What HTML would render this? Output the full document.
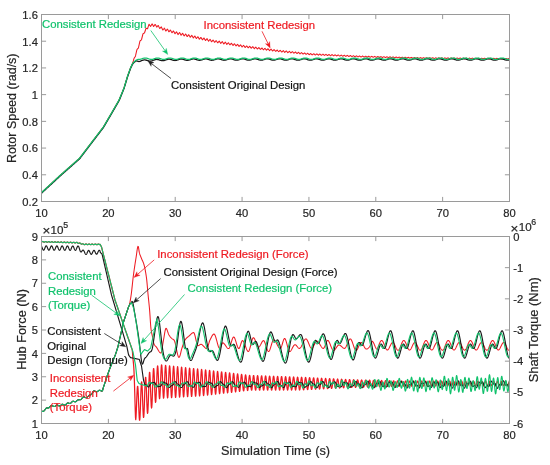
<!DOCTYPE html>
<html><head><meta charset="utf-8"><style>
html,body{margin:0;padding:0;background:#fff;overflow:hidden;}
svg{display:block;}
text{font-family:"Liberation Sans",Arial,sans-serif;}
</style></head><body>
<svg width="550" height="465" viewBox="0 0 550 465">
<defs>
<clipPath id="ct"><rect x="41.5" y="14.5" width="468.0" height="187.0"/></clipPath>
<clipPath id="cb"><rect x="41.5" y="236.5" width="468.0" height="187.0"/></clipPath>
</defs>
<rect width="550" height="465" fill="#fff"/>
<g clip-path="url(#ct)">
<polyline fill="none" stroke="#ee1a22" stroke-width="1.05" stroke-linejoin="round" stroke-linecap="round"  points="41.50,192.60 42.00,192.14 42.50,191.68 43.00,191.21 43.50,190.75 44.00,190.29 44.50,189.83 45.00,189.36 45.50,188.90 46.00,188.44 46.50,187.98 47.00,187.52 47.50,187.05 48.00,186.59 48.50,186.13 49.00,185.67 49.50,185.21 50.00,184.74 50.50,184.28 51.00,183.82 51.50,183.36 52.00,182.89 52.50,182.43 53.00,181.97 53.50,181.51 54.00,181.05 54.50,180.58 55.00,180.12 55.50,179.66 56.00,179.20 56.50,178.74 57.00,178.27 57.50,177.81 58.00,177.35 58.50,176.89 59.00,176.42 59.50,175.96 60.00,175.50 60.50,175.06 61.00,174.62 61.50,174.18 62.00,173.74 62.50,173.29 63.00,172.85 63.50,172.41 64.00,171.97 64.50,171.53 65.00,171.09 65.50,170.65 66.00,170.21 66.50,169.77 67.00,169.33 67.50,168.88 68.00,168.44 68.50,168.00 69.00,167.56 69.50,167.12 70.00,166.68 70.50,166.24 71.00,165.80 71.50,165.36 72.00,164.92 72.50,164.47 73.00,164.03 73.50,163.59 74.00,163.15 74.50,162.71 75.00,162.27 75.50,161.83 76.00,161.39 76.50,160.95 77.00,160.51 77.50,160.06 78.00,159.62 78.50,159.18 79.00,158.74 79.50,158.30 80.00,157.64 80.50,156.99 81.00,156.33 81.50,155.68 82.00,155.02 82.50,154.36 83.00,153.71 83.50,153.05 84.00,152.40 84.50,151.74 85.00,151.08 85.50,150.43 86.00,149.77 86.50,149.12 87.00,148.46 87.50,147.80 88.00,147.15 88.50,146.49 89.00,145.84 89.50,145.18 90.00,144.52 90.50,143.87 91.00,143.21 91.50,142.56 92.00,141.90 92.50,141.25 93.00,140.59 93.50,139.94 94.00,139.28 94.50,138.63 95.00,137.97 95.50,137.32 96.00,136.66 96.50,136.01 97.00,135.35 97.50,134.70 98.00,134.04 98.50,133.39 99.00,132.73 99.50,132.08 100.00,131.42 100.50,130.77 101.00,130.11 101.50,129.46 102.00,128.80 102.50,128.15 103.00,127.49 103.50,126.76 104.00,125.91 104.50,125.06 105.00,124.21 105.50,123.36 106.00,122.51 106.50,121.66 107.00,120.81 107.50,119.95 108.00,119.10 108.50,118.25 109.00,117.40 109.50,116.55 110.00,115.70 110.50,114.85 111.00,114.00 111.50,113.14 112.00,112.27 112.50,111.41 113.00,110.54 113.50,109.68 114.00,108.81 114.50,107.95 115.00,107.09 115.50,106.22 116.00,105.36 116.50,104.49 117.00,103.63 117.50,102.77 118.00,101.90 118.50,101.04 119.00,100.17 119.50,99.02 120.00,97.80 120.50,96.57 121.00,95.35 121.50,94.12 122.00,92.90 122.50,91.67 123.00,90.45 123.50,89.22 124.00,88.00 124.50,86.33 125.00,84.67 125.50,83.00 126.00,81.33 126.50,79.67 127.00,78.00 127.50,76.33 128.00,74.90 128.50,73.52 129.00,72.14 129.50,70.76 130.00,69.38 130.50,68.00 131.00,66.89 131.50,65.78 132.00,64.67 132.30,64.00 132.55,63.19 132.80,62.42 133.05,61.72 133.30,60.96 133.55,60.09 133.80,59.11 134.05,58.43 134.30,57.89 134.55,57.46 134.80,57.14 135.05,56.90 135.30,56.62 135.55,55.66 135.80,54.54 136.05,53.41 136.30,52.29 136.55,51.16 136.80,50.03 137.05,49.50 137.30,49.23 137.55,48.95 137.80,48.67 138.05,48.39 138.30,48.11 138.55,47.32 138.80,46.20 139.05,45.07 139.30,43.94 139.55,42.81 139.80,41.69 140.05,40.99 140.30,40.71 140.55,40.45 140.80,40.30 141.05,40.14 141.30,39.99 141.55,39.50 141.80,38.50 142.05,37.50 142.30,36.50 142.55,35.50 142.80,34.50 143.05,33.75 143.30,33.60 143.55,33.44 143.80,33.29 144.05,33.14 144.30,32.98 144.55,32.80 144.80,32.03 145.05,31.26 145.30,30.50 145.55,29.73 145.80,28.96 146.05,28.28 146.30,28.36 146.55,28.44 146.80,28.51 147.05,28.59 147.30,28.67 147.55,28.75 147.80,27.98 148.05,27.21 148.30,26.45 148.55,25.68 148.80,24.92 149.05,24.32 149.30,24.60 149.55,24.97 149.80,25.33 150.05,25.69 150.30,26.05 150.55,26.42 150.80,26.11 151.05,25.63 151.30,25.15 151.55,24.69 151.80,24.30 152.05,23.92 152.30,24.12 152.55,24.57 152.80,25.03 153.05,25.48 153.30,25.93 153.55,26.39 153.80,26.33 154.05,25.95 154.30,25.56 154.55,25.18 154.80,24.79 155.05,24.40 155.30,24.44 155.55,24.89 155.80,25.34 156.05,25.81 156.30,26.35 156.55,26.88 156.80,27.08 157.05,26.78 157.30,26.48 157.55,26.18 157.80,25.88 158.05,25.58 158.30,25.53 158.55,26.06 158.80,26.60 159.05,27.13 159.30,27.67 159.55,28.20 159.80,28.57 160.05,28.27 160.30,27.97 160.55,27.66 160.80,27.36 161.05,27.06 161.30,26.85 161.55,27.38 161.80,27.92 162.05,28.45 162.30,28.98 162.55,29.52 162.80,30.05 163.05,29.75 163.30,29.45 163.55,29.15 163.80,28.83 164.05,28.49 164.30,28.15 164.55,28.56 164.80,29.05 165.05,29.54 165.30,30.02 165.55,30.51 165.80,31.00 166.05,30.83 166.30,30.49 166.55,30.14 166.80,29.80 167.05,29.46 167.30,29.12 167.55,29.36 167.80,29.85 168.05,30.34 168.30,30.82 168.55,31.31 168.80,31.80 169.05,31.79 169.30,31.45 169.55,31.11 169.80,30.77 170.05,30.43 170.30,30.09 170.55,30.16 170.80,30.65 171.05,31.14 171.30,31.63 171.55,32.11 171.80,32.60 172.05,32.76 172.30,32.42 172.55,32.08 172.80,31.74 173.05,31.40 173.30,31.06 173.55,30.96 173.80,31.45 174.05,31.94 174.30,32.43 174.55,32.91 174.80,33.40 175.05,33.72 175.30,33.38 175.55,33.04 175.80,32.70 176.05,32.36 176.30,32.02 176.55,31.77 176.80,32.24 177.05,32.72 177.30,33.19 177.55,33.66 177.80,34.13 178.05,34.60 178.30,34.25 178.55,33.90 178.80,33.54 179.05,33.19 179.30,32.84 179.55,32.49 179.80,32.88 180.05,33.35 180.30,33.82 180.55,34.29 180.80,34.76 181.05,35.23 181.30,35.04 181.55,34.69 181.80,34.34 182.05,33.99 182.30,33.64 182.55,33.29 182.80,33.51 183.05,33.98 183.30,34.45 183.55,34.92 183.80,35.39 184.05,35.86 184.30,35.84 184.55,35.49 184.80,35.14 185.05,34.79 185.30,34.43 185.55,34.08 185.80,34.13 186.05,34.59 186.30,35.06 186.55,35.52 186.80,35.98 187.05,36.44 187.30,36.58 187.55,36.22 187.80,35.87 188.05,35.52 188.30,35.17 188.55,34.82 188.80,34.71 189.05,35.17 189.30,35.63 189.55,36.09 189.80,36.54 190.05,37.00 190.30,37.29 190.55,36.94 190.80,36.60 191.05,36.25 191.30,35.90 191.55,35.56 191.80,35.29 192.05,35.75 192.30,36.20 192.55,36.66 192.80,37.11 193.05,37.56 193.30,38.01 193.55,37.67 193.80,37.32 194.05,36.98 194.30,36.64 194.55,36.30 194.80,35.96 195.05,36.33 195.30,36.78 195.55,37.23 195.80,37.67 196.05,38.12 196.30,38.57 196.55,38.38 196.80,38.05 197.05,37.71 197.30,37.37 197.55,37.03 197.80,36.70 198.05,36.91 198.30,37.35 198.55,37.80 198.80,38.24 199.05,38.68 199.30,39.13 199.55,39.10 199.80,38.77 200.05,38.43 200.30,38.10 200.55,37.77 200.80,37.44 201.05,37.49 201.30,37.93 201.55,38.37 201.80,38.81 202.05,39.25 202.30,39.69 202.55,39.82 202.80,39.49 203.05,39.16 203.30,38.83 203.55,38.50 203.80,38.18 204.05,38.08 204.30,38.51 204.55,38.95 204.80,39.38 205.05,39.82 205.30,40.25 205.55,40.53 205.80,40.21 206.05,39.88 206.30,39.56 206.55,39.23 206.80,38.91 207.05,38.67 207.30,39.10 207.55,39.53 207.80,39.96 208.05,40.39 208.30,40.81 208.55,41.24 208.80,40.92 209.05,40.60 209.30,40.28 209.55,39.96 209.80,39.65 210.05,39.33 210.30,39.68 210.55,40.11 210.80,40.53 211.05,40.96 211.30,41.38 211.55,41.80 211.80,41.64 212.05,41.32 212.30,41.01 212.55,40.69 212.80,40.37 213.05,40.05 213.30,40.24 213.55,40.65 213.80,41.06 214.05,41.47 214.30,41.88 214.55,42.28 214.80,42.25 215.05,41.93 215.30,41.61 215.55,41.29 215.80,40.97 216.05,40.65 216.30,40.69 216.55,41.10 216.80,41.50 217.05,41.91 217.30,42.31 217.55,42.71 217.80,42.83 218.05,42.51 218.30,42.19 218.55,41.88 218.80,41.56 219.05,41.25 219.30,41.15 219.55,41.55 219.80,41.95 220.05,42.35 220.30,42.75 220.55,43.15 220.80,43.40 221.05,43.09 221.30,42.77 221.55,42.46 221.80,42.15 222.05,41.84 222.30,41.60 222.55,42.00 222.80,42.39 223.05,42.79 223.30,43.18 223.55,43.58 223.80,43.97 224.05,43.66 224.30,43.35 224.55,43.05 224.80,42.74 225.05,42.43 225.30,42.13 225.55,42.45 225.80,42.84 226.05,43.23 226.30,43.62 226.55,44.01 226.80,44.40 227.05,44.24 227.30,43.93 227.55,43.63 227.80,43.33 228.05,43.03 228.30,42.72 228.55,42.91 228.80,43.29 229.05,43.68 229.30,44.07 229.55,44.45 229.80,44.83 230.05,44.81 230.30,44.51 230.55,44.21 230.80,43.91 231.05,43.62 231.30,43.32 231.55,43.36 231.80,43.75 232.05,44.13 232.30,44.51 232.55,44.89 232.80,45.27 233.05,45.38 233.30,45.08 233.55,44.79 233.80,44.50 234.05,44.20 234.30,43.91 234.55,43.82 234.80,44.20 235.05,44.58 235.30,44.95 235.55,45.33 235.80,45.71 236.05,45.95 236.30,45.66 236.55,45.37 236.80,45.08 237.05,44.79 237.30,44.50 237.55,44.28 237.80,44.66 238.05,45.03 238.30,45.40 238.55,45.77 238.80,46.14 239.05,46.51 239.30,46.23 239.55,45.94 239.80,45.66 240.05,45.37 240.30,45.09 240.55,44.81 240.80,45.11 241.05,45.48 241.30,45.85 241.55,46.22 241.80,46.58 242.05,46.95 242.30,46.80 242.55,46.52 242.80,46.24 243.05,45.96 243.30,45.68 243.55,45.40 243.80,45.57 244.05,45.94 244.30,46.30 244.55,46.66 244.80,47.02 245.05,47.39 245.30,47.36 245.55,47.08 245.80,46.80 246.05,46.51 246.30,46.23 246.55,45.94 246.80,45.98 247.05,46.33 247.30,46.68 247.55,47.03 247.80,47.37 248.05,47.72 248.30,47.81 248.55,47.53 248.80,47.25 249.05,46.97 249.30,46.69 249.55,46.41 249.80,46.32 250.05,46.67 250.30,47.01 250.55,47.36 250.80,47.70 251.05,48.04 251.30,48.26 251.55,47.98 251.80,47.71 252.05,47.43 252.30,47.16 252.55,46.88 252.80,46.67 253.05,47.01 253.30,47.35 253.55,47.69 253.80,48.03 254.05,48.37 254.30,48.71 254.55,48.43 254.80,48.16 255.05,47.89 255.30,47.62 255.55,47.35 255.80,47.08 256.05,47.35 256.30,47.69 256.55,48.03 256.80,48.36 257.05,48.69 257.30,49.03 257.55,48.88 257.80,48.61 258.05,48.34 258.30,48.08 258.55,47.81 258.80,47.54 259.05,47.70 259.30,48.03 259.55,48.36 259.80,48.69 260.05,49.02 260.30,49.35 260.55,49.33 260.80,49.06 261.05,48.80 261.30,48.53 261.55,48.27 261.80,48.01 262.05,48.05 262.30,48.37 262.55,48.70 262.80,49.03 263.05,49.35 263.30,49.68 263.55,49.77 263.80,49.51 264.05,49.25 264.30,48.99 264.55,48.73 264.80,48.48 265.05,48.39 265.30,48.72 265.55,49.04 265.80,49.36 266.05,49.68 266.30,50.01 266.55,50.21 266.80,49.96 267.05,49.70 267.30,49.45 267.55,49.19 267.80,48.94 268.05,48.74 268.30,49.06 268.55,49.38 268.80,49.70 269.05,50.02 269.30,50.34 269.55,50.65 269.80,50.40 270.05,50.15 270.30,49.90 270.55,49.65 270.80,49.40 271.05,49.15 271.30,49.41 271.55,49.73 271.80,50.04 272.05,50.35 272.30,50.67 272.55,50.98 272.80,50.84 273.05,50.60 273.30,50.35 273.55,50.10 273.80,49.86 274.05,49.62 274.30,49.76 274.55,50.07 274.80,50.38 275.05,50.69 275.30,51.00 275.55,51.31 275.80,51.28 276.05,51.04 276.30,50.80 276.55,50.56 276.80,50.32 277.05,50.08 277.30,50.11 277.55,50.42 277.80,50.72 278.05,51.03 278.30,51.32 278.55,51.62 278.80,51.70 279.05,51.45 279.30,51.21 279.55,50.96 279.80,50.72 280.05,50.47 280.30,50.39 280.55,50.69 280.80,50.98 281.05,51.27 281.30,51.56 281.55,51.86 281.80,52.04 282.05,51.80 282.30,51.56 282.55,51.32 282.80,51.07 283.05,50.84 283.30,50.65 283.55,50.94 283.80,51.23 284.05,51.52 284.30,51.81 284.55,52.09 284.80,52.38 285.05,52.14 285.30,51.90 285.55,51.67 285.80,51.43 286.05,51.20 286.30,50.96 286.55,51.20 286.80,51.48 287.05,51.77 287.30,52.05 287.55,52.33 287.80,52.62 288.05,52.49 288.30,52.25 288.55,52.02 288.80,51.79 289.05,51.56 289.30,51.33 289.55,51.45 289.80,51.74 290.05,52.02 290.30,52.30 290.55,52.57 290.80,52.85 291.05,52.83 291.30,52.60 291.55,52.37 291.80,52.14 292.05,51.91 292.30,51.69 292.55,51.71 292.80,51.99 293.05,52.27 293.30,52.54 293.55,52.82 293.80,53.09 294.05,53.17 294.30,52.94 294.55,52.72 294.80,52.49 295.05,52.27 295.30,52.05 295.55,51.97 295.80,52.25 296.05,52.52 296.30,52.79 296.55,53.06 296.80,53.33 297.05,53.50 297.30,53.28 297.55,53.06 297.80,52.84 298.05,52.62 298.30,52.41 298.55,52.24 298.80,52.51 299.05,52.77 299.30,53.04 299.55,53.31 299.80,53.58 300.05,53.84 300.30,53.62 300.55,53.41 300.80,53.19 301.05,52.98 301.30,52.76 301.55,52.55 301.80,52.77 302.05,53.03 302.30,53.29 302.55,53.56 302.80,53.82 303.05,54.08 303.30,53.96 303.55,53.75 303.80,53.54 304.05,53.33 304.30,53.12 304.55,52.91 304.80,53.03 305.05,53.29 305.30,53.55 305.55,53.81 305.80,54.06 306.05,54.32 306.30,54.30 306.55,54.09 306.80,53.88 307.05,53.68 307.30,53.47 307.55,53.27 307.80,53.29 308.05,53.55 308.30,53.80 308.55,54.06 308.80,54.31 309.05,54.56 309.30,54.63 309.55,54.43 309.80,54.23 310.05,54.03 310.30,53.82 310.55,53.62 310.80,53.56 311.05,53.81 311.30,54.05 311.55,54.28 311.80,54.52 312.05,54.75 312.30,54.90 312.55,54.69 312.80,54.47 313.05,54.26 313.30,54.05 313.55,53.84 313.80,53.68 314.05,53.91 314.30,54.14 314.55,54.38 314.80,54.61 315.05,54.84 315.30,55.07 315.55,54.86 315.80,54.66 316.05,54.45 316.30,54.24 316.55,54.04 316.80,53.83 317.05,54.02 317.30,54.25 317.55,54.47 317.80,54.70 318.05,54.93 318.30,55.16 318.55,55.04 318.80,54.83 319.05,54.63 319.30,54.43 319.55,54.23 319.80,54.03 320.05,54.12 320.30,54.35 320.55,54.57 320.80,54.80 321.05,55.02 321.30,55.25 321.55,55.21 321.80,55.01 322.05,54.81 322.30,54.61 322.55,54.42 322.80,54.22 323.05,54.23 323.30,54.45 323.55,54.67 323.80,54.90 324.05,55.12 324.30,55.34 324.55,55.39 324.80,55.19 325.05,55.00 325.30,54.80 325.55,54.60 325.80,54.41 326.05,54.33 326.30,54.55 326.55,54.77 326.80,54.99 327.05,55.21 327.30,55.43 327.55,55.57 327.80,55.37 328.05,55.18 328.30,54.98 328.55,54.79 328.80,54.59 329.05,54.44 329.30,54.66 329.55,54.88 329.80,55.09 330.05,55.31 330.30,55.53 330.55,55.74 330.80,55.55 331.05,55.36 331.30,55.16 331.55,54.97 331.80,54.78 332.05,54.59 332.30,54.76 332.55,54.98 332.80,55.19 333.05,55.41 333.30,55.62 333.55,55.83 333.80,55.72 334.05,55.53 334.30,55.34 334.55,55.15 334.80,54.97 335.05,54.78 335.30,54.87 335.55,55.08 335.80,55.29 336.05,55.51 336.30,55.72 336.55,55.93 336.80,55.90 337.05,55.71 337.30,55.52 337.55,55.34 337.80,55.15 338.05,54.96 338.30,54.98 338.55,55.19 338.80,55.40 339.05,55.61 339.30,55.81 339.55,56.02 339.80,56.07 340.05,55.89 340.30,55.70 340.55,55.52 340.80,55.33 341.05,55.15 341.30,55.08 341.55,55.29 341.80,55.50 342.05,55.71 342.30,55.91 342.55,56.12 342.80,56.25 343.05,56.06 343.30,55.88 343.55,55.70 343.80,55.52 344.05,55.34 344.30,55.19 344.55,55.40 344.80,55.60 345.05,55.81 345.30,56.01 345.55,56.22 345.80,56.42 346.05,56.24 346.30,56.06 346.55,55.88 346.80,55.70 347.05,55.52 347.30,55.34 347.55,55.51 347.80,55.71 348.05,55.91 348.30,56.11 348.55,56.31 348.80,56.51 349.05,56.41 349.30,56.23 349.55,56.06 349.80,55.88 350.05,55.70 350.30,55.53 350.55,55.61 350.80,55.81 351.05,56.01 351.30,56.21 351.55,56.41 351.80,56.61 352.05,56.58 352.30,56.41 352.55,56.23 352.80,56.06 353.05,55.89 353.30,55.71 353.55,55.72 353.80,55.92 354.05,56.12 354.30,56.32 354.55,56.51 354.80,56.71 355.05,56.76 355.30,56.58 355.55,56.41 355.80,56.24 356.05,56.07 356.30,55.90 356.55,55.83 356.80,56.03 357.05,56.22 357.30,56.42 357.55,56.61 357.80,56.81 358.05,56.93 358.30,56.76 358.55,56.59 358.80,56.42 359.05,56.25 359.30,56.08 359.55,55.95 359.80,56.14 360.05,56.33 360.30,56.52 360.55,56.70 360.80,56.89 361.05,57.07 361.30,56.90 361.55,56.73 361.80,56.55 362.05,56.38 362.30,56.21 362.55,56.04 362.80,56.19 363.05,56.37 363.30,56.56 363.55,56.74 363.80,56.92 364.05,57.11 364.30,57.01 364.55,56.83 364.80,56.66 365.05,56.49 365.30,56.32 365.55,56.16 365.80,56.23 366.05,56.41 366.30,56.60 366.55,56.78 366.80,56.96 367.05,57.14 367.30,57.11 367.55,56.94 367.80,56.77 368.05,56.61 368.30,56.44 368.55,56.27 368.80,56.28 369.05,56.46 369.30,56.64 369.55,56.82 369.80,56.99 370.05,57.17 370.30,57.21 370.55,57.05 370.80,56.88 371.05,56.72 371.30,56.55 371.55,56.39 371.80,56.33 372.05,56.50 372.30,56.68 372.55,56.86 372.80,57.03 373.05,57.21 373.30,57.32 373.55,57.15 373.80,56.99 374.05,56.83 374.30,56.66 374.55,56.50 374.80,56.37 375.05,56.55 375.30,56.72 375.55,56.90 375.80,57.07 376.05,57.24 376.30,57.42 376.55,57.26 376.80,57.09 377.05,56.93 377.30,56.77 377.55,56.62 377.80,56.46 378.05,56.60 378.30,56.77 378.55,56.94 378.80,57.11 379.05,57.28 379.30,57.45 379.55,57.36 379.80,57.20 380.05,57.04 380.30,56.88 380.55,56.73 380.80,56.57 381.05,56.64 381.30,56.81 381.55,56.98 381.80,57.15 382.05,57.32 382.30,57.49 382.55,57.46 382.80,57.30 383.05,57.15 383.30,56.99 383.55,56.84 383.80,56.68 384.05,56.69 384.30,56.86 384.55,57.03 384.80,57.19 385.05,57.36 385.30,57.52 385.55,57.56 385.80,57.41 386.05,57.25 386.30,57.10 386.55,56.95 386.80,56.80 387.05,56.74 387.30,56.91 387.55,57.07 387.80,57.23 388.05,57.40 388.30,57.56 388.55,57.66 388.80,57.51 389.05,57.36 389.30,57.21 389.55,57.06 389.80,56.91 390.05,56.79 390.30,56.95 390.55,57.12 390.80,57.28 391.05,57.44 391.30,57.60 391.55,57.76 391.80,57.61 392.05,57.46 392.30,57.32 392.55,57.17 392.80,57.02 393.05,56.87 393.30,57.00 393.55,57.16 393.80,57.32 394.05,57.48 394.30,57.64 394.55,57.80 394.80,57.71 395.05,57.57 395.30,57.42 395.55,57.28 395.80,57.13 396.05,56.99 396.30,57.05 396.55,57.21 396.80,57.37 397.05,57.52 397.30,57.68 397.55,57.84 397.80,57.81 398.05,57.67 398.30,57.52 398.55,57.38 398.80,57.24 399.05,57.10 399.30,57.10 399.55,57.26 399.80,57.41 400.05,57.57 400.30,57.72 400.55,57.87 400.80,57.91 401.05,57.77 401.30,57.63 401.55,57.49 401.80,57.35 402.05,57.21 402.30,57.15 402.55,57.31 402.80,57.46 403.05,57.61 403.30,57.77 403.55,57.92 403.80,58.01 404.05,57.87 404.30,57.73 404.55,57.59 404.80,57.45 405.05,57.31 405.30,57.20 405.55,57.35 405.80,57.51 406.05,57.66 406.30,57.81 406.55,57.96 406.80,58.11 407.05,57.97 407.30,57.84 407.55,57.70 407.80,57.56 408.05,57.42 408.30,57.28 408.55,57.40 408.80,57.55 409.05,57.70 409.30,57.86 409.55,58.01 409.80,58.16 410.05,58.08 410.30,57.94 410.55,57.80 410.80,57.66 411.05,57.52 411.30,57.39 411.55,57.45 411.80,57.60 412.05,57.75 412.30,57.90 412.55,58.05 412.80,58.20 413.05,58.18 413.30,58.04 413.55,57.90 413.80,57.77 414.05,57.63 414.30,57.49 414.55,57.50 414.80,57.65 415.05,57.80 415.30,57.95 415.55,58.10 415.80,58.24 416.05,58.28 416.30,58.14 416.55,58.01 416.80,57.87 417.05,57.73 417.30,57.60 417.55,57.55 417.80,57.70 418.05,57.84 418.30,57.99 418.55,58.14 418.80,58.29 419.05,58.38 419.30,58.24 419.55,58.11 419.80,57.97 420.05,57.84 420.30,57.70 420.55,57.59 420.80,57.73 421.05,57.88 421.30,58.02 421.55,58.16 421.80,58.31 422.05,58.45 422.30,58.31 422.55,58.17 422.80,58.03 423.05,57.89 423.30,57.76 423.55,57.62 423.80,57.73 424.05,57.87 424.30,58.02 424.55,58.16 424.80,58.30 425.05,58.44 425.30,58.36 425.55,58.22 425.80,58.09 426.05,57.95 426.30,57.81 426.55,57.67 426.80,57.73 427.05,57.87 427.30,58.02 427.55,58.16 427.80,58.30 428.05,58.44 428.30,58.41 428.55,58.28 428.80,58.14 429.05,58.00 429.30,57.87 429.55,57.73 429.80,57.73 430.05,57.88 430.30,58.02 430.55,58.16 430.80,58.30 431.05,58.44 431.30,58.47 431.55,58.33 431.80,58.20 432.05,58.06 432.30,57.92 432.55,57.79 432.80,57.74 433.05,57.88 433.30,58.02 433.55,58.16 433.80,58.30 434.05,58.43 434.30,58.52 434.55,58.38 434.80,58.25 435.05,58.11 435.30,57.98 435.55,57.84 435.80,57.74 436.05,57.88 436.30,58.02 436.55,58.15 436.80,58.29 437.05,58.43 437.30,58.57 437.55,58.44 437.80,58.30 438.05,58.17 438.30,58.03 438.55,57.90 438.80,57.77 439.05,57.88 439.30,58.02 439.55,58.15 439.80,58.29 440.05,58.43 440.30,58.57 440.55,58.49 440.80,58.36 441.05,58.22 441.30,58.09 441.55,57.96 441.80,57.82 442.05,57.88 442.30,58.02 442.55,58.15 442.80,58.29 443.05,58.43 443.30,58.56 443.55,58.54 443.80,58.41 444.05,58.28 444.30,58.14 444.55,58.01 444.80,57.88 445.05,57.88 445.30,58.02 445.55,58.15 445.80,58.29 446.05,58.43 446.30,58.56 446.55,58.59 446.80,58.46 447.05,58.33 447.30,58.20 447.55,58.07 447.80,57.94 448.05,57.88 448.30,58.02 448.55,58.16 448.80,58.29 449.05,58.43 449.30,58.56 449.55,58.64 449.80,58.51 450.05,58.38 450.30,58.25 450.55,58.12 450.80,57.99 451.05,57.89 451.30,58.02 451.55,58.16 451.80,58.29 452.05,58.42 452.30,58.56 452.55,58.69 452.80,58.56 453.05,58.43 453.30,58.30 453.55,58.18 453.80,58.05 454.05,57.92 454.30,58.02 454.55,58.16 454.80,58.29 455.05,58.42 455.30,58.56 455.55,58.69 455.80,58.61 456.05,58.49 456.30,58.36 456.55,58.23 456.80,58.10 457.05,57.97 457.30,58.03 457.55,58.16 457.80,58.29 458.05,58.42 458.30,58.56 458.55,58.69 458.80,58.66 459.05,58.54 459.30,58.41 459.55,58.28 459.80,58.15 460.05,58.03 460.30,58.03 460.55,58.16 460.80,58.29 461.05,58.43 461.30,58.56 461.55,58.69 461.80,58.72 462.05,58.59 462.30,58.46 462.55,58.34 462.80,58.21 463.05,58.08 463.30,58.03 463.55,58.16 463.80,58.30 464.05,58.43 464.30,58.56 464.55,58.69 464.80,58.77 465.05,58.64 465.30,58.51 465.55,58.39 465.80,58.26 466.05,58.14 466.30,58.04 466.55,58.17 466.80,58.30 467.05,58.43 467.30,58.56 467.55,58.69 467.80,58.82 468.05,58.69 468.30,58.57 468.55,58.44 468.80,58.32 469.05,58.19 469.30,58.07 469.55,58.17 469.80,58.30 470.05,58.43 470.30,58.56 470.55,58.69 470.80,58.81 471.05,58.74 471.30,58.62 471.55,58.49 471.80,58.37 472.05,58.24 472.30,58.12 472.55,58.17 472.80,58.30 473.05,58.43 473.30,58.56 473.55,58.69 473.80,58.81 474.05,58.79 474.30,58.67 474.55,58.54 474.80,58.42 475.05,58.30 475.30,58.18 475.55,58.18 475.80,58.31 476.05,58.43 476.30,58.56 476.55,58.69 476.80,58.81 477.05,58.84 477.30,58.72 477.55,58.60 477.80,58.47 478.05,58.35 478.30,58.23 478.55,58.18 478.80,58.31 479.05,58.43 479.30,58.56 479.55,58.69 479.80,58.81 480.05,58.89 480.30,58.77 480.55,58.65 480.80,58.52 481.05,58.40 481.30,58.28 481.55,58.19 481.80,58.31 482.05,58.44 482.30,58.56 482.55,58.69 482.80,58.81 483.05,58.94 483.30,58.82 483.55,58.70 483.80,58.58 484.05,58.46 484.30,58.34 484.55,58.22 484.80,58.32 485.05,58.44 485.30,58.57 485.55,58.69 485.80,58.81 486.05,58.94 486.30,58.87 486.55,58.75 486.80,58.63 487.05,58.51 487.30,58.39 487.55,58.27 487.80,58.32 488.05,58.44 488.30,58.57 488.55,58.69 488.80,58.81 489.05,58.94 489.30,58.92 489.55,58.80 489.80,58.68 490.05,58.56 490.30,58.44 490.55,58.32 490.80,58.33 491.05,58.45 491.30,58.57 491.55,58.69 491.80,58.82 492.05,58.94 492.30,58.96 492.55,58.85 492.80,58.73 493.05,58.61 493.30,58.49 493.55,58.38 493.80,58.33 494.05,58.45 494.30,58.57 494.55,58.70 494.80,58.82 495.05,58.94 495.30,59.01 495.55,58.90 495.80,58.78 496.05,58.66 496.30,58.55 496.55,58.43 496.80,58.34 497.05,58.46 497.30,58.58 497.55,58.70 497.80,58.82 498.05,58.94 498.30,59.06 498.55,58.94 498.80,58.83 499.05,58.71 499.30,58.60 499.55,58.48 499.80,58.37 500.05,58.46 500.30,58.58 500.55,58.70 500.80,58.82 501.05,58.94 501.30,59.06 501.55,58.99 501.80,58.88 502.05,58.76 502.30,58.65 502.55,58.53 502.80,58.42 503.05,58.47 503.30,58.59 503.55,58.71 503.80,58.82 504.05,58.94 504.30,59.06 504.55,59.04 504.80,58.93 505.05,58.81 505.30,58.70 505.55,58.59 505.80,58.47 506.05,58.47 506.30,58.59 506.55,58.71 506.80,58.83 507.05,58.95 507.30,59.06 507.55,59.09 507.80,58.97 508.05,58.86 508.30,58.75 508.55,58.64 508.80,58.52 509.05,58.48 509.30,58.60 509.55,58.71"/>
<polyline fill="none" stroke="#1a1a1a" stroke-width="1.3" stroke-linejoin="round" stroke-linecap="round"  points="41.50,193.20 42.00,192.74 42.50,192.28 43.00,191.81 43.50,191.35 44.00,190.89 44.50,190.43 45.00,189.96 45.50,189.50 46.00,189.04 46.50,188.58 47.00,188.12 47.50,187.65 48.00,187.19 48.50,186.73 49.00,186.27 49.50,185.81 50.00,185.34 50.50,184.88 51.00,184.42 51.50,183.96 52.00,183.49 52.50,183.03 53.00,182.57 53.50,182.11 54.00,181.65 54.50,181.18 55.00,180.72 55.50,180.26 56.00,179.80 56.50,179.34 57.00,178.87 57.50,178.41 58.00,177.95 58.50,177.49 59.00,177.02 59.50,176.56 60.00,176.10 60.50,175.66 61.00,175.22 61.50,174.78 62.00,174.34 62.50,173.89 63.00,173.45 63.50,173.01 64.00,172.57 64.50,172.13 65.00,171.69 65.50,171.25 66.00,170.81 66.50,170.37 67.00,169.93 67.50,169.48 68.00,169.04 68.50,168.60 69.00,168.16 69.50,167.72 70.00,167.28 70.50,166.84 71.00,166.40 71.50,165.96 72.00,165.52 72.50,165.07 73.00,164.63 73.50,164.19 74.00,163.75 74.50,163.31 75.00,162.87 75.50,162.43 76.00,161.99 76.50,161.55 77.00,161.11 77.50,160.66 78.00,160.22 78.50,159.78 79.00,159.34 79.50,158.90 80.00,158.24 80.50,157.59 81.00,156.93 81.50,156.28 82.00,155.62 82.50,154.96 83.00,154.31 83.50,153.65 84.00,153.00 84.50,152.34 85.00,151.68 85.50,151.03 86.00,150.37 86.50,149.72 87.00,149.06 87.50,148.40 88.00,147.75 88.50,147.09 89.00,146.44 89.50,145.78 90.00,145.12 90.50,144.47 91.00,143.81 91.50,143.16 92.00,142.50 92.50,141.85 93.00,141.19 93.50,140.54 94.00,139.88 94.50,139.23 95.00,138.57 95.50,137.92 96.00,137.26 96.50,136.61 97.00,135.95 97.50,135.30 98.00,134.64 98.50,133.99 99.00,133.33 99.50,132.68 100.00,132.02 100.50,131.37 101.00,130.71 101.50,130.06 102.00,129.40 102.50,128.75 103.00,128.09 103.50,127.36 104.00,126.51 104.50,125.66 105.00,124.81 105.50,123.96 106.00,123.11 106.50,122.26 107.00,121.41 107.50,120.55 108.00,119.70 108.50,118.85 109.00,118.00 109.50,117.15 110.00,116.30 110.50,115.45 111.00,114.60 111.50,113.74 112.00,112.87 112.50,112.01 113.00,111.14 113.50,110.28 114.00,109.41 114.50,108.55 115.00,107.69 115.50,106.82 116.00,105.96 116.50,105.09 117.00,104.23 117.50,103.37 118.00,102.50 118.50,101.64 119.00,100.77 119.50,99.62 120.00,98.40 120.50,97.17 121.00,95.95 121.50,94.72 122.00,93.50 122.50,92.27 123.00,91.05 123.50,89.82 124.00,88.60 124.50,86.93 125.00,85.27 125.50,83.60 126.00,81.93 126.50,80.27 127.00,78.60 127.50,76.93 128.00,75.50 128.50,74.12 129.00,72.74 129.50,71.36 130.00,69.98 130.50,68.60 131.00,67.49 131.50,66.38 132.00,65.27 132.50,64.34 133.00,63.69 133.50,63.05 134.00,62.40 134.50,62.02 135.00,61.65 135.50,61.27 136.00,60.90 136.50,60.92 137.00,61.01 137.50,61.14 138.00,61.30 138.50,61.45 139.00,61.59 139.50,61.46 140.00,61.30 140.50,61.11 141.00,60.90 141.50,60.69 142.00,60.49 142.50,60.31 143.00,60.16 143.50,60.04 144.00,59.97 144.50,59.94 145.00,59.96 145.50,60.02 146.00,60.12 146.50,60.25 147.00,60.39 147.50,60.55 148.00,60.70 148.50,60.84 149.00,60.95 149.50,61.03 150.00,61.07 150.50,61.07 151.00,61.02 151.50,60.92 152.00,60.79 152.50,60.63 153.00,60.45 153.50,60.25 154.00,60.06 154.50,59.88 155.00,59.72 155.50,59.59 156.00,59.50 156.50,59.46 157.00,59.46 157.50,59.51 158.00,59.60 158.50,59.72 159.00,59.86 159.50,60.02 160.00,60.19 160.50,60.35 161.00,60.48 161.50,60.59 162.00,60.67 162.50,60.70 163.00,60.68 163.50,60.62 164.00,60.52 164.50,60.39 165.00,60.22 165.50,60.04 166.00,59.85 166.50,59.67 167.00,59.50 167.50,59.36 168.00,59.26 168.50,59.19 169.00,59.18 169.50,59.20 170.00,59.27 170.50,59.38 171.00,59.52 171.50,59.68 172.00,59.85 172.50,60.02 173.00,60.17 173.50,60.30 174.00,60.41 174.50,60.47 175.00,60.48 175.50,60.46 176.00,60.39 176.50,60.27 177.00,60.13 177.50,59.96 178.00,59.78 178.50,59.60 179.00,59.42 179.50,59.27 180.00,59.15 180.50,59.06 181.00,59.02 181.50,59.02 182.00,59.07 182.50,59.16 183.00,59.28 183.50,59.43 184.00,59.60 184.50,59.78 185.00,59.94 185.50,60.10 186.00,60.22 186.50,60.31 187.00,60.36 187.50,60.36 188.00,60.32 188.50,60.23 189.00,60.11 189.50,59.96 190.00,59.78 190.50,59.60 191.00,59.42 191.50,59.26 192.00,59.12 192.50,59.01 193.00,58.95 193.50,58.92 194.00,58.95 194.50,59.01 195.00,59.12 195.50,59.26 196.00,59.42 196.50,59.59 197.00,59.77 197.50,59.93 198.00,60.07 198.50,60.19 199.00,60.26 199.50,60.29 200.00,60.28 200.50,60.22 201.00,60.12 201.50,59.99 202.00,59.83 202.50,59.65 203.00,59.47 203.50,59.30 204.00,59.14 204.50,59.02 205.00,58.93 205.50,58.88 206.00,58.87 206.50,58.92 207.00,59.00 207.50,59.12 208.00,59.27 208.50,59.44 209.00,59.62 209.50,59.79 210.00,59.95 210.50,60.08 211.00,60.18 211.50,60.24 212.00,60.25 212.50,60.22 213.00,60.15 213.50,60.03 214.00,59.89 214.50,59.72 215.00,59.54 215.50,59.37 216.00,59.20 216.50,59.06 217.00,58.94 217.50,58.87 218.00,58.84 218.50,58.86 219.00,58.92 219.50,59.02 220.00,59.15 220.50,59.31 221.00,59.48 221.50,59.66 222.00,59.83 222.50,59.98 223.00,60.10 223.50,60.18 224.00,60.23 224.50,60.22 225.00,60.17 225.50,60.08 226.00,59.96 226.50,59.80 227.00,59.63 227.50,59.45 228.00,59.28 228.50,59.12 229.00,58.99 229.50,58.89 230.00,58.84 230.50,58.82 231.00,58.86 231.50,58.94 232.00,59.05 232.50,59.20 233.00,59.36 233.50,59.54 234.00,59.72 234.50,59.88 235.00,60.02 235.50,60.13 236.00,60.19 236.50,60.22 237.00,60.20 237.50,60.13 238.00,60.02 238.50,59.89 239.00,59.72 239.50,59.55 240.00,59.37 240.50,59.20 241.00,59.05 241.50,58.93 242.00,58.85 242.50,58.82 243.00,58.82 243.50,58.88 244.00,58.97 244.50,59.10 245.00,59.25 245.50,59.43 246.00,59.60 246.50,59.78 247.00,59.93 247.50,60.06 248.00,60.15 248.50,60.20 249.00,60.21 249.50,60.17 250.00,60.09 250.50,59.97 251.00,59.82 251.50,59.65 252.00,59.47 252.50,59.29 253.00,59.13 253.50,59.00 254.00,58.89 254.50,58.83 255.00,58.81 255.50,58.83 256.00,58.90 256.50,59.01 257.00,59.15 257.50,59.32 258.00,59.49 258.50,59.67 259.00,59.84 259.50,59.98 260.00,60.10 260.50,60.17 261.00,60.20 261.50,60.19 262.00,60.14 262.50,60.04 263.00,59.91 263.50,59.75 264.00,59.57 264.50,59.40 265.00,59.22 265.50,59.07 266.00,58.95 266.50,58.86 267.00,58.81 267.50,58.81 268.00,58.85 268.50,58.94 269.00,59.06 269.50,59.21 270.00,59.38 270.50,59.56 271.00,59.73 271.50,59.89 272.00,60.03 272.50,60.13 273.00,60.19 273.50,60.20 274.00,60.17 274.50,60.10 275.00,59.99 275.50,59.84 276.00,59.68 276.50,59.50 277.00,59.32 277.50,59.16 278.00,59.02 278.50,58.90 279.00,58.83 279.50,58.80 280.00,58.82 280.50,58.88 281.00,58.98 281.50,59.12 282.00,59.28 282.50,59.45 283.00,59.63 283.50,59.80 284.00,59.95 284.50,60.07 285.00,60.16 285.50,60.20 286.00,60.19 286.50,60.15 287.00,60.06 287.50,59.93 288.00,59.78 288.50,59.61 289.00,59.43 289.50,59.25 290.00,59.10 290.50,58.97 291.00,58.87 291.50,58.81 292.00,58.80 292.50,58.84 293.00,58.92 293.50,59.03 294.00,59.18 294.50,59.34 295.00,59.52 295.50,59.70 296.00,59.86 296.50,60.00 297.00,60.11 297.50,60.18 298.00,60.20 298.50,60.18 299.00,60.11 299.50,60.01 300.00,59.87 300.50,59.71 301.00,59.53 301.50,59.36 302.00,59.19 302.50,59.04 303.00,58.92 303.50,58.84 304.00,58.80 304.50,58.81 305.00,58.86 305.50,58.96 306.00,59.09 306.50,59.24 307.00,59.41 307.50,59.59 308.00,59.76 308.50,59.92 309.00,60.05 309.50,60.14 310.00,60.19 310.50,60.20 311.00,60.16 311.50,60.08 312.00,59.96 312.50,59.81 313.00,59.64 313.50,59.46 314.00,59.29 314.50,59.13 315.00,58.99 315.50,58.88 316.00,58.82 316.50,58.80 317.00,58.83 317.50,58.90 318.00,59.00 318.50,59.15 319.00,59.31 319.50,59.49 320.00,59.66 320.50,59.83 321.00,59.97 321.50,60.09 322.00,60.17 322.50,60.20 323.00,60.19 323.50,60.13 324.00,60.03 324.50,59.90 325.00,59.74 325.50,59.57 326.00,59.39 326.50,59.22 327.00,59.07 327.50,58.94 328.00,58.85 328.50,58.81 329.00,58.81 329.50,58.85 330.00,58.93 330.50,59.06 331.00,59.21 331.50,59.38 332.00,59.56 332.50,59.73 333.00,59.89 333.50,60.02 334.00,60.12 334.50,60.18 335.00,60.20 335.50,60.17 336.00,60.10 336.50,59.98 337.00,59.84 337.50,59.67 338.00,59.50 338.50,59.32 339.00,59.16 339.50,59.01 340.00,58.90 340.50,58.83 341.00,58.80 341.50,58.82 342.00,58.88 342.50,58.98 343.00,59.11 343.50,59.27 344.00,59.45 344.50,59.63 345.00,59.80 345.50,59.95 346.00,60.07 346.50,60.15 347.00,60.20 347.50,60.19 348.00,60.14 348.50,60.06 349.00,59.93 349.50,59.78 350.00,59.60 350.50,59.43 351.00,59.25 351.50,59.10 352.00,58.96 352.50,58.87 353.00,58.81 353.50,58.80 354.00,58.84 354.50,58.91 355.00,59.03 355.50,59.18 356.00,59.34 356.50,59.52 357.00,59.70 357.50,59.86 358.00,60.00 358.50,60.11 359.00,60.18 359.50,60.20 360.00,60.18 360.50,60.11 361.00,60.01 361.50,59.87 362.00,59.71 362.50,59.53 363.00,59.36 363.50,59.19 364.00,59.04 364.50,58.92 365.00,58.84 365.50,58.80 366.00,58.81 366.50,58.86 367.00,58.96 367.50,59.09 368.00,59.24 368.50,59.41 369.00,59.59 369.50,59.76 370.00,59.92 370.50,60.05 371.00,60.14 371.50,60.19 372.00,60.20 372.50,60.16 373.00,60.08 373.50,59.96 374.00,59.81 374.50,59.64 375.00,59.46 375.50,59.29 376.00,59.12 376.50,58.99 377.00,58.88 377.50,58.82 378.00,58.80 378.50,58.83 379.00,58.90 379.50,59.00 380.00,59.14 380.50,59.31 381.00,59.48 381.50,59.66 382.00,59.83 382.50,59.97 383.00,60.09 383.50,60.17 384.00,60.20 384.50,60.19 385.00,60.13 385.50,60.03 386.00,59.90 386.50,59.74 387.00,59.57 387.50,59.39 388.00,59.22 388.50,59.07 389.00,58.94 389.50,58.85 390.00,58.81 390.50,58.80 391.00,58.85 391.50,58.93 392.00,59.06 392.50,59.21 393.00,59.38 393.50,59.56 394.00,59.73 394.50,59.89 395.00,60.02 395.50,60.12 396.00,60.18 396.50,60.20 397.00,60.17 397.50,60.10 398.00,59.98 398.50,59.84 399.00,59.67 399.50,59.50 400.00,59.32 400.50,59.16 401.00,59.01 401.50,58.90 402.00,58.83 402.50,58.80 403.00,58.82 403.50,58.88 404.00,58.98 404.50,59.11 405.00,59.27 405.50,59.45 406.00,59.63 406.50,59.80 407.00,59.95 407.50,60.07 408.00,60.15 408.50,60.20 409.00,60.19 409.50,60.14 410.00,60.06 410.50,59.93 411.00,59.78 411.50,59.60 412.00,59.43 412.50,59.25 413.00,59.10 413.50,58.96 414.00,58.87 414.50,58.81 415.00,58.80 415.50,58.84 416.00,58.91 416.50,59.03 417.00,59.18 417.50,59.34 418.00,59.52 418.50,59.70 419.00,59.86 419.50,60.00 420.00,60.11 420.50,60.18 421.00,60.20 421.50,60.18 422.00,60.11 422.50,60.01 423.00,59.87 423.50,59.71 424.00,59.53 424.50,59.36 425.00,59.19 425.50,59.04 426.00,58.92 426.50,58.84 427.00,58.80 427.50,58.81 428.00,58.86 428.50,58.96 429.00,59.08 429.50,59.24 430.00,59.41 430.50,59.59 431.00,59.76 431.50,59.92 432.00,60.05 432.50,60.14 433.00,60.19 433.50,60.20 434.00,60.16 434.50,60.08 435.00,59.96 435.50,59.81 436.00,59.64 436.50,59.46 437.00,59.29 437.50,59.12 438.00,58.99 438.50,58.88 439.00,58.82 439.50,58.80 440.00,58.83 440.50,58.90 441.00,59.00 441.50,59.14 442.00,59.31 442.50,59.48 443.00,59.66 443.50,59.83 444.00,59.97 444.50,60.09 445.00,60.17 445.50,60.20 446.00,60.19 446.50,60.13 447.00,60.03 447.50,59.90 448.00,59.74 448.50,59.57 449.00,59.39 449.50,59.22 450.00,59.07 450.50,58.94 451.00,58.85 451.50,58.81 452.00,58.80 452.50,58.85 453.00,58.93 453.50,59.06 454.00,59.21 454.50,59.38 455.00,59.56 455.50,59.73 456.00,59.89 456.50,60.02 457.00,60.12 457.50,60.18 458.00,60.20 458.50,60.17 459.00,60.10 459.50,59.98 460.00,59.84 460.50,59.67 461.00,59.50 461.50,59.32 462.00,59.16 462.50,59.01 463.00,58.90 463.50,58.83 464.00,58.80 464.50,58.82 465.00,58.88 465.50,58.98 466.00,59.11 466.50,59.27 467.00,59.45 467.50,59.63 468.00,59.80 468.50,59.95 469.00,60.07 469.50,60.15 470.00,60.20 470.50,60.19 471.00,60.14 471.50,60.06 472.00,59.93 472.50,59.78 473.00,59.60 473.50,59.43 474.00,59.25 474.50,59.10 475.00,58.96 475.50,58.87 476.00,58.81 476.50,58.80 477.00,58.84 477.50,58.91 478.00,59.03 478.50,59.18 479.00,59.34 479.50,59.52 480.00,59.70 480.50,59.86 481.00,60.00 481.50,60.11 482.00,60.18 482.50,60.20 483.00,60.18 483.50,60.11 484.00,60.01 484.50,59.87 485.00,59.71 485.50,59.53 486.00,59.36 486.50,59.19 487.00,59.04 487.50,58.92 488.00,58.84 488.50,58.80 489.00,58.81 489.50,58.86 490.00,58.96 490.50,59.08 491.00,59.24 491.50,59.41 492.00,59.59 492.50,59.76 493.00,59.92 493.50,60.05 494.00,60.14 494.50,60.19 495.00,60.20 495.50,60.16 496.00,60.08 496.50,59.96 497.00,59.81 497.50,59.64 498.00,59.46 498.50,59.29 499.00,59.12 499.50,58.99 500.00,58.88 500.50,58.82 501.00,58.80 501.50,58.83 502.00,58.90 502.50,59.00 503.00,59.14 503.50,59.31 504.00,59.48 504.50,59.66 505.00,59.83 505.50,59.97 506.00,60.09 506.50,60.17 507.00,60.20 507.50,60.19 508.00,60.13 508.50,60.03 509.00,59.90 509.50,59.74"/>
<polyline fill="none" stroke="#10c26c" stroke-width="1.25" stroke-linejoin="round" stroke-linecap="round"  points="41.50,192.60 42.00,192.14 42.50,191.68 43.00,191.21 43.50,190.75 44.00,190.29 44.50,189.83 45.00,189.36 45.50,188.90 46.00,188.44 46.50,187.98 47.00,187.52 47.50,187.05 48.00,186.59 48.50,186.13 49.00,185.67 49.50,185.21 50.00,184.74 50.50,184.28 51.00,183.82 51.50,183.36 52.00,182.89 52.50,182.43 53.00,181.97 53.50,181.51 54.00,181.05 54.50,180.58 55.00,180.12 55.50,179.66 56.00,179.20 56.50,178.74 57.00,178.27 57.50,177.81 58.00,177.35 58.50,176.89 59.00,176.42 59.50,175.96 60.00,175.50 60.50,175.06 61.00,174.62 61.50,174.18 62.00,173.74 62.50,173.29 63.00,172.85 63.50,172.41 64.00,171.97 64.50,171.53 65.00,171.09 65.50,170.65 66.00,170.21 66.50,169.77 67.00,169.33 67.50,168.88 68.00,168.44 68.50,168.00 69.00,167.56 69.50,167.12 70.00,166.68 70.50,166.24 71.00,165.80 71.50,165.36 72.00,164.92 72.50,164.47 73.00,164.03 73.50,163.59 74.00,163.15 74.50,162.71 75.00,162.27 75.50,161.83 76.00,161.39 76.50,160.95 77.00,160.51 77.50,160.06 78.00,159.62 78.50,159.18 79.00,158.74 79.50,158.30 80.00,157.64 80.50,156.99 81.00,156.33 81.50,155.68 82.00,155.02 82.50,154.36 83.00,153.71 83.50,153.05 84.00,152.40 84.50,151.74 85.00,151.08 85.50,150.43 86.00,149.77 86.50,149.12 87.00,148.46 87.50,147.80 88.00,147.15 88.50,146.49 89.00,145.84 89.50,145.18 90.00,144.52 90.50,143.87 91.00,143.21 91.50,142.56 92.00,141.90 92.50,141.25 93.00,140.59 93.50,139.94 94.00,139.28 94.50,138.63 95.00,137.97 95.50,137.32 96.00,136.66 96.50,136.01 97.00,135.35 97.50,134.70 98.00,134.04 98.50,133.39 99.00,132.73 99.50,132.08 100.00,131.42 100.50,130.77 101.00,130.11 101.50,129.46 102.00,128.80 102.50,128.15 103.00,127.49 103.50,126.76 104.00,125.91 104.50,125.06 105.00,124.21 105.50,123.36 106.00,122.51 106.50,121.66 107.00,120.81 107.50,119.95 108.00,119.10 108.50,118.25 109.00,117.40 109.50,116.55 110.00,115.70 110.50,114.85 111.00,114.00 111.50,113.14 112.00,112.27 112.50,111.41 113.00,110.54 113.50,109.68 114.00,108.81 114.50,107.95 115.00,107.09 115.50,106.22 116.00,105.36 116.50,104.49 117.00,103.63 117.50,102.77 118.00,101.90 118.50,101.04 119.00,100.17 119.50,99.02 120.00,97.80 120.50,96.57 121.00,95.35 121.50,94.12 122.00,92.90 122.50,91.67 123.00,90.45 123.50,89.22 124.00,88.00 124.50,86.33 125.00,84.67 125.50,83.00 126.00,81.33 126.50,79.67 127.00,78.00 127.50,76.33 128.00,74.90 128.50,73.52 129.00,72.14 129.50,70.76 130.00,69.38 130.50,68.00 131.00,66.89 131.50,65.78 132.00,64.67 132.50,63.74 133.00,63.09 133.50,62.45 134.00,61.80 134.50,61.42 135.00,61.05 135.50,60.67 136.00,60.30 136.50,59.97 137.00,59.73 137.50,59.57 138.00,59.48 138.50,59.43 139.00,59.40 139.50,59.38 140.00,59.32 140.50,59.22 141.00,59.09 141.50,58.93 142.00,58.75 142.50,58.58 143.00,58.41 143.50,58.25 144.00,58.13 144.50,58.05 145.00,58.00 145.50,58.01 146.00,58.05 146.50,58.14 147.00,58.27 147.50,58.42 148.00,58.59 148.50,58.77 149.00,58.95 149.50,59.10 150.00,59.23 150.50,59.33 151.00,59.39 151.50,59.40 152.00,59.36 152.50,59.29 153.00,59.17 153.50,59.03 154.00,58.86 154.50,58.68 155.00,58.51 155.50,58.34 156.00,58.20 156.50,58.09 157.00,58.03 157.50,58.00 158.00,58.02 158.50,58.09 159.00,58.19 159.50,58.33 160.00,58.49 160.50,58.66 161.00,58.84 161.50,59.01 162.00,59.16 162.50,59.28 163.00,59.36 163.50,59.40 164.00,59.39 164.50,59.34 165.00,59.25 165.50,59.12 166.00,58.96 166.50,58.79 167.00,58.61 167.50,58.44 168.00,58.28 168.50,58.15 169.00,58.06 169.50,58.01 170.00,58.00 170.50,58.04 171.00,58.12 171.50,58.24 172.00,58.39 172.50,58.56 173.00,58.74 173.50,58.91 174.00,59.07 174.50,59.21 175.00,59.31 175.50,59.38 176.00,59.40 176.50,59.37 177.00,59.31 177.50,59.20 178.00,59.06 178.50,58.89 179.00,58.72 179.50,58.54 180.00,58.37 180.50,58.23 181.00,58.11 181.50,58.04 182.00,58.00 182.50,58.01 183.00,58.07 183.50,58.17 184.00,58.30 184.50,58.45 185.00,58.63 185.50,58.81 186.00,58.98 186.50,59.13 187.00,59.26 187.50,59.35 188.00,59.39 188.50,59.40 189.00,59.35 189.50,59.27 190.00,59.15 190.50,58.99 191.00,58.82 191.50,58.65 192.00,58.47 192.50,58.31 193.00,58.18 193.50,58.08 194.00,58.02 194.50,58.00 195.00,58.03 195.50,58.10 196.00,58.21 196.50,58.36 197.00,58.52 197.50,58.70 198.00,58.88 198.50,59.04 199.00,59.19 199.50,59.30 200.00,59.37 200.50,59.40 201.00,59.38 201.50,59.32 202.00,59.22 202.50,59.09 203.00,58.93 203.50,58.75 204.00,58.58 204.50,58.41 205.00,58.25 205.50,58.13 206.00,58.05 206.50,58.00 207.00,58.01 207.50,58.05 208.00,58.14 208.50,58.27 209.00,58.42 209.50,58.59 210.00,58.77 210.50,58.95 211.00,59.10 211.50,59.23 212.00,59.33 212.50,59.39 213.00,59.40 213.50,59.36 214.00,59.29 214.50,59.17 215.00,59.03 215.50,58.86 216.00,58.68 216.50,58.51 217.00,58.34 217.50,58.20 218.00,58.09 218.50,58.03 219.00,58.00 219.50,58.02 220.00,58.09 220.50,58.19 221.00,58.33 221.50,58.49 222.00,58.66 222.50,58.84 223.00,59.01 223.50,59.16 224.00,59.28 224.50,59.36 225.00,59.40 225.50,59.39 226.00,59.34 226.50,59.25 227.00,59.12 227.50,58.96 228.00,58.79 228.50,58.61 229.00,58.44 229.50,58.28 230.00,58.15 230.50,58.06 231.00,58.01 231.50,58.00 232.00,58.04 232.50,58.12 233.00,58.24 233.50,58.39 234.00,58.56 234.50,58.74 235.00,58.91 235.50,59.07 236.00,59.21 236.50,59.31 237.00,59.38 237.50,59.40 238.00,59.37 238.50,59.31 239.00,59.20 239.50,59.06 240.00,58.89 240.50,58.72 241.00,58.54 241.50,58.37 242.00,58.23 242.50,58.11 243.00,58.04 243.50,58.00 244.00,58.01 244.50,58.07 245.00,58.17 245.50,58.30 246.00,58.45 246.50,58.63 247.00,58.81 247.50,58.98 248.00,59.13 248.50,59.26 249.00,59.35 249.50,59.39 250.00,59.40 250.50,59.35 251.00,59.27 251.50,59.15 252.00,58.99 252.50,58.82 253.00,58.65 253.50,58.47 254.00,58.31 254.50,58.18 255.00,58.08 255.50,58.02 256.00,58.00 256.50,58.03 257.00,58.10 257.50,58.21 258.00,58.36 258.50,58.52 259.00,58.70 259.50,58.88 260.00,59.04 260.50,59.19 261.00,59.30 261.50,59.37 262.00,59.40 262.50,59.38 263.00,59.32 263.50,59.22 264.00,59.09 264.50,58.93 265.00,58.75 265.50,58.58 266.00,58.41 266.50,58.25 267.00,58.13 267.50,58.05 268.00,58.00 268.50,58.01 269.00,58.05 269.50,58.14 270.00,58.27 270.50,58.42 271.00,58.59 271.50,58.77 272.00,58.95 272.50,59.10 273.00,59.23 273.50,59.33 274.00,59.39 274.50,59.40 275.00,59.36 275.50,59.29 276.00,59.17 276.50,59.03 277.00,58.86 277.50,58.68 278.00,58.51 278.50,58.34 279.00,58.20 279.50,58.09 280.00,58.03 280.50,58.00 281.00,58.02 281.50,58.09 282.00,58.19 282.50,58.33 283.00,58.49 283.50,58.66 284.00,58.84 284.50,59.01 285.00,59.16 285.50,59.28 286.00,59.36 286.50,59.40 287.00,59.39 287.50,59.34 288.00,59.25 288.50,59.12 289.00,58.96 289.50,58.79 290.00,58.61 290.50,58.44 291.00,58.28 291.50,58.15 292.00,58.06 292.50,58.01 293.00,58.00 293.50,58.04 294.00,58.12 294.50,58.24 295.00,58.39 295.50,58.56 296.00,58.74 296.50,58.91 297.00,59.07 297.50,59.21 298.00,59.31 298.50,59.38 299.00,59.40 299.50,59.37 300.00,59.31 300.50,59.20 301.00,59.06 301.50,58.89 302.00,58.72 302.50,58.54 303.00,58.37 303.50,58.23 304.00,58.11 304.50,58.04 305.00,58.00 305.50,58.01 306.00,58.07 306.50,58.17 307.00,58.30 307.50,58.45 308.00,58.63 308.50,58.81 309.00,58.98 309.50,59.13 310.00,59.26 310.50,59.35 311.00,59.39 311.50,59.40 312.00,59.35 312.50,59.27 313.00,59.15 313.50,58.99 314.00,58.82 314.50,58.65 315.00,58.47 315.50,58.31 316.00,58.18 316.50,58.08 317.00,58.02 317.50,58.00 318.00,58.03 318.50,58.10 319.00,58.21 319.50,58.36 320.00,58.52 320.50,58.70 321.00,58.88 321.50,59.04 322.00,59.19 322.50,59.30 323.00,59.37 323.50,59.40 324.00,59.38 324.50,59.32 325.00,59.22 325.50,59.09 326.00,58.93 326.50,58.75 327.00,58.58 327.50,58.41 328.00,58.25 328.50,58.13 329.00,58.05 329.50,58.00 330.00,58.01 330.50,58.05 331.00,58.14 331.50,58.27 332.00,58.42 332.50,58.59 333.00,58.77 333.50,58.95 334.00,59.10 334.50,59.23 335.00,59.33 335.50,59.39 336.00,59.40 336.50,59.36 337.00,59.29 337.50,59.17 338.00,59.03 338.50,58.86 339.00,58.68 339.50,58.51 340.00,58.34 340.50,58.20 341.00,58.09 341.50,58.03 342.00,58.00 342.50,58.02 343.00,58.09 343.50,58.19 344.00,58.33 344.50,58.49 345.00,58.66 345.50,58.84 346.00,59.01 346.50,59.16 347.00,59.28 347.50,59.36 348.00,59.40 348.50,59.39 349.00,59.34 349.50,59.25 350.00,59.12 350.50,58.96 351.00,58.79 351.50,58.61 352.00,58.44 352.50,58.28 353.00,58.15 353.50,58.06 354.00,58.01 354.50,58.00 355.00,58.04 355.50,58.12 356.00,58.24 356.50,58.39 357.00,58.56 357.50,58.74 358.00,58.91 358.50,59.07 359.00,59.21 359.50,59.31 360.00,59.38 360.50,59.40 361.00,59.37 361.50,59.31 362.00,59.20 362.50,59.06 363.00,58.89 363.50,58.72 364.00,58.54 364.50,58.37 365.00,58.23 365.50,58.11 366.00,58.04 366.50,58.00 367.00,58.01 367.50,58.07 368.00,58.17 368.50,58.30 369.00,58.45 369.50,58.63 370.00,58.81 370.50,58.98 371.00,59.13 371.50,59.26 372.00,59.35 372.50,59.39 373.00,59.40 373.50,59.35 374.00,59.27 374.50,59.15 375.00,58.99 375.50,58.82 376.00,58.65 376.50,58.47 377.00,58.31 377.50,58.18 378.00,58.08 378.50,58.02 379.00,58.00 379.50,58.03 380.00,58.10 380.50,58.21 381.00,58.36 381.50,58.52 382.00,58.70 382.50,58.88 383.00,59.04 383.50,59.19 384.00,59.30 384.50,59.37 385.00,59.40 385.50,59.38 386.00,59.32 386.50,59.22 387.00,59.09 387.50,58.93 388.00,58.75 388.50,58.58 389.00,58.41 389.50,58.25 390.00,58.13 390.50,58.05 391.00,58.00 391.50,58.01 392.00,58.05 392.50,58.14 393.00,58.27 393.50,58.42 394.00,58.59 394.50,58.77 395.00,58.95 395.50,59.10 396.00,59.23 396.50,59.33 397.00,59.39 397.50,59.40 398.00,59.36 398.50,59.29 399.00,59.17 399.50,59.03 400.00,58.86 400.50,58.68 401.00,58.51 401.50,58.34 402.00,58.20 402.50,58.09 403.00,58.03 403.50,58.00 404.00,58.02 404.50,58.09 405.00,58.19 405.50,58.33 406.00,58.49 406.50,58.66 407.00,58.84 407.50,59.01 408.00,59.16 408.50,59.28 409.00,59.36 409.50,59.40 410.00,59.39 410.50,59.34 411.00,59.25 411.50,59.12 412.00,58.96 412.50,58.79 413.00,58.61 413.50,58.44 414.00,58.28 414.50,58.15 415.00,58.06 415.50,58.01 416.00,58.00 416.50,58.04 417.00,58.12 417.50,58.24 418.00,58.39 418.50,58.56 419.00,58.74 419.50,58.91 420.00,59.07 420.50,59.21 421.00,59.31 421.50,59.38 422.00,59.40 422.50,59.37 423.00,59.31 423.50,59.20 424.00,59.06 424.50,58.89 425.00,58.72 425.50,58.54 426.00,58.37 426.50,58.23 427.00,58.11 427.50,58.04 428.00,58.00 428.50,58.01 429.00,58.07 429.50,58.17 430.00,58.30 430.50,58.45 431.00,58.63 431.50,58.81 432.00,58.98 432.50,59.13 433.00,59.26 433.50,59.35 434.00,59.39 434.50,59.40 435.00,59.35 435.50,59.27 436.00,59.15 436.50,58.99 437.00,58.82 437.50,58.65 438.00,58.47 438.50,58.31 439.00,58.18 439.50,58.08 440.00,58.02 440.50,58.00 441.00,58.03 441.50,58.10 442.00,58.21 442.50,58.36 443.00,58.52 443.50,58.70 444.00,58.88 444.50,59.04 445.00,59.19 445.50,59.30 446.00,59.37 446.50,59.40 447.00,59.38 447.50,59.32 448.00,59.22 448.50,59.09 449.00,58.93 449.50,58.75 450.00,58.58 450.50,58.41 451.00,58.25 451.50,58.13 452.00,58.05 452.50,58.00 453.00,58.01 453.50,58.05 454.00,58.14 454.50,58.27 455.00,58.42 455.50,58.59 456.00,58.77 456.50,58.95 457.00,59.10 457.50,59.23 458.00,59.33 458.50,59.39 459.00,59.40 459.50,59.36 460.00,59.29 460.50,59.17 461.00,59.03 461.50,58.86 462.00,58.68 462.50,58.51 463.00,58.34 463.50,58.20 464.00,58.09 464.50,58.03 465.00,58.00 465.50,58.02 466.00,58.09 466.50,58.19 467.00,58.33 467.50,58.49 468.00,58.66 468.50,58.84 469.00,59.01 469.50,59.16 470.00,59.28 470.50,59.36 471.00,59.40 471.50,59.39 472.00,59.34 472.50,59.25 473.00,59.12 473.50,58.96 474.00,58.79 474.50,58.61 475.00,58.44 475.50,58.28 476.00,58.15 476.50,58.06 477.00,58.01 477.50,58.00 478.00,58.04 478.50,58.12 479.00,58.24 479.50,58.39 480.00,58.56 480.50,58.74 481.00,58.91 481.50,59.07 482.00,59.21 482.50,59.31 483.00,59.38 483.50,59.40 484.00,59.37 484.50,59.31 485.00,59.20 485.50,59.06 486.00,58.89 486.50,58.72 487.00,58.54 487.50,58.37 488.00,58.23 488.50,58.11 489.00,58.04 489.50,58.00 490.00,58.01 490.50,58.07 491.00,58.17 491.50,58.30 492.00,58.45 492.50,58.63 493.00,58.81 493.50,58.98 494.00,59.13 494.50,59.26 495.00,59.35 495.50,59.39 496.00,59.40 496.50,59.35 497.00,59.27 497.50,59.15 498.00,58.99 498.50,58.82 499.00,58.65 499.50,58.47 500.00,58.31 500.50,58.18 501.00,58.08 501.50,58.02 502.00,58.00 502.50,58.03 503.00,58.10 503.50,58.21 504.00,58.36 504.50,58.52 505.00,58.70 505.50,58.88 506.00,59.04 506.50,59.19 507.00,59.30 507.50,59.37 508.00,59.40 508.50,59.38 509.00,59.32 509.50,59.22"/>
</g>
<g clip-path="url(#cb)">
<polyline fill="none" stroke="#ee1a22" stroke-width="1.25" stroke-linejoin="round" stroke-linecap="round"  points="41.50,242.03 41.75,241.88 42.00,241.71 42.25,241.56 42.50,241.48 42.75,241.49 43.00,241.58 43.25,241.73 43.50,241.91 43.75,242.08 44.00,242.18 44.25,242.21 44.50,242.14 44.75,242.01 45.00,241.84 45.25,241.68 45.50,241.57 45.75,241.54 46.00,241.60 46.25,241.73 46.50,241.91 46.75,242.08 47.00,242.22 47.25,242.27 47.50,242.24 47.75,242.14 48.00,241.98 48.25,241.81 48.50,241.67 48.75,241.61 49.00,241.63 49.25,241.74 49.50,241.90 49.75,242.08 50.00,242.24 50.25,242.33 50.50,242.33 50.75,242.25 51.00,242.11 51.25,241.94 51.50,241.79 51.75,241.69 52.00,241.68 52.25,241.76 52.50,241.90 52.75,242.08 53.00,242.25 53.25,242.37 53.50,242.41 53.75,242.36 54.00,242.24 54.25,242.08 54.50,241.91 54.75,241.79 55.00,241.74 55.25,241.78 55.50,241.90 55.75,242.07 56.00,242.25 56.25,242.40 56.50,242.47 56.75,242.46 57.00,242.36 57.25,242.21 57.50,242.04 57.75,241.90 58.00,241.82 58.25,241.82 58.50,241.91 58.75,242.07 59.00,242.25 59.25,242.41 59.50,242.52 59.75,242.54 60.00,242.48 60.25,242.35 60.50,242.18 60.75,242.02 61.00,241.91 61.25,241.89 61.50,241.95 61.75,242.08 62.00,242.26 62.25,242.43 62.50,242.57 62.75,242.63 63.00,242.60 63.25,242.49 63.50,242.34 63.75,242.17 64.00,242.04 64.25,241.98 64.50,242.00 64.75,242.11 65.00,242.27 65.25,242.46 65.50,242.61 65.75,242.71 66.00,242.71 66.25,242.63 66.50,242.49 66.75,242.32 67.00,242.17 67.25,242.08 67.50,242.07 67.75,242.15 68.00,242.29 68.25,242.47 68.50,242.65 68.75,242.77 69.00,242.81 69.25,242.76 69.50,242.64 69.75,242.48 70.00,242.32 70.25,242.20 70.50,242.15 70.75,242.20 71.00,242.32 71.25,242.49 71.50,242.67 71.75,242.82 72.00,242.89 72.25,242.88 72.50,242.79 72.75,242.64 73.00,242.47 73.25,242.33 73.50,242.25 73.75,242.26 74.00,242.35 74.25,242.51 74.50,242.69 74.75,242.85 75.00,242.96 75.25,242.99 75.50,242.92 75.75,242.79 76.00,242.63 76.25,242.47 76.50,242.36 76.75,242.33 77.00,242.39 77.25,242.53 77.50,242.75 77.75,242.98 78.00,243.17 78.25,243.29 78.50,243.32 78.75,243.27 79.00,243.17 79.25,243.06 79.50,242.98 79.75,242.98 80.00,243.06 80.25,243.22 80.50,243.44 80.75,243.68 81.00,243.89 81.25,244.04 81.50,244.11 81.75,244.08 82.00,244.00 82.25,243.89 82.50,243.79 82.75,243.76 83.00,243.80 83.25,243.93 83.50,244.14 83.75,244.34 84.00,244.50 84.25,244.62 84.50,244.65 84.75,244.60 85.00,244.48 85.25,244.31 85.50,244.14 85.75,244.02 86.00,243.96 86.25,244.00 86.50,244.12 86.75,244.28 87.00,244.46 87.25,244.60 87.50,244.67 87.75,244.65 88.00,244.55 88.25,244.40 88.50,244.22 88.75,244.08 89.00,243.99 89.25,244.00 89.50,244.08 89.75,244.23 90.00,244.41 90.25,244.57 90.50,244.67 90.75,244.69 91.00,244.62 91.25,244.48 91.50,244.31 91.75,244.15 92.00,244.04 92.25,244.00 92.50,244.06 92.75,244.19 93.00,244.36 93.25,244.53 93.50,244.66 93.75,244.71 94.00,244.68 94.25,244.56 94.50,244.40 94.75,244.23 95.00,244.09 95.25,244.02 95.50,244.04 95.75,244.15 96.00,244.30 96.25,244.48 96.50,244.63 96.75,244.72 97.00,244.72 97.25,244.64 97.50,244.49 97.75,244.31 98.00,244.16 98.25,244.06 98.50,244.04 98.75,244.11 99.00,244.25 99.25,244.43 99.50,244.60 99.75,244.71 100.00,244.40 100.25,244.50 100.50,245.00 100.75,245.50 101.00,246.00 101.25,246.50 101.50,247.00 101.75,247.98 102.00,248.96 102.25,249.94 102.50,250.93 102.75,251.91 103.00,252.89 103.25,253.87 103.50,254.85 103.75,255.83 104.00,256.81 104.25,257.80 104.50,258.78 104.75,259.76 105.00,260.74 105.25,261.72 105.50,262.70 105.75,263.69 106.00,264.67 106.25,265.65 106.50,266.63 106.75,267.61 107.00,268.59 107.25,269.57 107.50,270.56 107.75,271.54 108.00,272.52 108.25,273.50 108.50,274.48 108.75,275.46 109.00,276.44 109.25,277.43 109.50,278.41 109.75,279.39 110.00,280.37 110.25,281.35 110.50,282.33 110.75,283.31 111.00,284.30 111.25,285.28 111.50,286.26 111.75,287.24 112.00,288.22 112.25,289.20 112.50,290.19 112.75,291.17 113.00,292.15 113.25,293.13 113.50,294.11 113.75,295.09 114.00,296.07 114.25,297.06 114.50,298.04 114.75,299.02 115.00,300.00 115.25,300.73 115.50,301.45 115.75,302.18 116.00,302.90 116.25,303.63 116.50,304.36 116.75,305.08 117.00,305.81 117.25,306.53 117.50,307.26 117.75,307.99 118.00,308.71 118.25,309.44 118.50,310.16 118.75,310.89 119.00,311.62 119.25,312.34 119.50,313.07 119.75,313.80 120.00,314.52 120.25,315.25 120.50,315.97 120.75,316.70 121.00,317.43 121.25,318.15 121.50,318.88 121.75,319.60 122.00,320.33 122.25,321.06 122.50,321.78 122.75,322.51 123.00,323.23 123.25,323.96 123.50,324.69 123.75,325.41 124.00,326.14 124.25,326.86 124.50,327.59 124.75,328.31 125.00,329.02 125.25,329.74 125.50,330.46 125.75,331.18 126.00,331.90 126.25,332.61 126.50,333.33 126.75,334.05 127.00,334.77 127.25,335.49 127.50,336.20 127.75,336.92 128.00,337.64 128.25,338.36 128.50,339.08 128.75,339.79 129.00,340.51 129.25,341.23 129.50,341.95 129.75,342.67 130.00,343.38 130.25,344.10 130.50,344.82 130.75,345.54 131.00,346.26 131.25,346.97 131.50,347.69 131.75,348.41 132.00,349.13 132.25,349.85 132.50,352.56 132.75,356.17 133.00,358.95 133.25,361.28 133.50,363.72 133.75,366.90 134.00,371.33 134.25,377.12 134.50,384.46 134.75,392.96 135.00,401.94 135.25,410.51 135.50,417.70 135.75,419.57 136.00,416.95 136.25,412.26 136.50,406.17 136.75,399.59 137.00,393.49 137.25,388.81 137.50,386.27 137.75,386.28 138.00,388.86 138.25,393.65 138.50,399.92 138.75,406.72 139.00,412.99 139.25,417.75 139.50,420.22 139.75,419.96 140.00,416.97 140.25,411.44 140.50,404.41 140.75,396.90 141.00,390.03 141.25,384.80 141.50,381.98 141.75,381.98 142.00,384.76 142.25,389.89 142.50,396.54 142.75,403.68 143.00,410.17 143.25,414.99 143.50,417.35 143.75,416.85 144.00,413.51 144.25,407.79 144.50,400.51 144.75,392.75 145.00,385.64 145.25,380.23 145.50,377.32 145.75,377.33 146.00,380.22 146.25,385.50 146.50,392.32 146.75,399.61 147.00,406.21 147.25,411.06 147.50,413.38 147.75,412.77 148.00,409.28 148.25,403.38 148.50,395.93 148.75,388.01 149.00,380.79 149.25,375.31 149.50,372.37 149.75,372.35 150.00,375.22 150.25,380.55 150.50,387.37 150.75,394.60 151.00,401.09 151.25,405.81 151.50,408.02 151.75,407.35 152.00,403.89 152.25,398.14 152.50,390.93 152.75,383.34 153.00,376.47 153.25,371.30 153.50,368.58 153.75,368.63 154.00,371.39 154.25,376.38 154.50,382.76 154.75,389.52 155.00,395.58 155.25,400.13 155.50,402.33 155.75,401.83 156.00,398.70 156.25,393.40 156.50,386.72 156.75,379.65 157.00,373.25 157.25,368.46 157.50,365.97 157.75,366.11 158.00,368.82 158.25,373.66 158.50,379.84 158.75,386.40 159.00,392.31 159.25,396.65 159.50,398.74 159.75,398.25 160.00,395.25 160.25,390.38 160.50,384.17 160.75,377.57 161.00,371.59 161.25,367.13 161.50,364.88 161.75,365.17 162.00,367.94 162.25,372.78 162.50,378.94 162.75,385.49 163.00,391.42 163.25,395.84 163.50,398.08 163.75,397.81 164.00,395.08 164.25,390.31 164.50,384.22 164.75,377.76 165.00,371.90 165.25,367.54 165.50,365.34 165.75,365.62 166.00,368.34 166.25,373.08 166.50,379.11 166.75,385.52 167.00,391.32 167.25,395.65 167.50,397.85 167.75,397.58 168.00,394.91 168.25,390.23 168.50,384.28 168.75,377.95 169.00,372.22 169.25,367.95 169.50,365.79 169.75,366.07 170.00,368.73 170.25,373.37 170.50,379.27 170.75,385.54 171.00,391.23 171.25,395.46 171.50,397.61 171.75,397.35 172.00,394.73 172.25,390.16 172.50,384.33 172.75,378.14 173.00,372.53 173.25,368.36 173.50,366.25 173.75,366.52 174.00,369.12 174.25,373.66 174.50,379.44 174.75,385.57 175.00,391.13 175.25,395.28 175.50,397.38 175.75,397.12 176.00,394.56 176.25,390.09 176.50,384.39 176.75,378.33 177.00,372.85 177.25,368.77 177.50,366.70 177.75,366.97 178.00,369.52 178.25,373.95 178.50,379.60 178.75,385.60 179.00,391.04 179.25,395.09 179.50,397.14 179.75,396.89 180.00,394.39 180.25,390.01 180.50,384.44 180.75,378.53 181.00,373.17 181.25,369.17 181.50,367.16 181.75,367.42 182.00,369.91 182.25,374.25 182.50,379.77 182.75,385.63 183.00,390.94 183.25,394.90 183.50,396.91 183.75,396.66 184.00,394.21 184.25,389.94 184.50,384.50 184.75,378.72 185.00,373.48 185.25,369.58 185.50,367.61 185.75,367.87 186.00,370.30 186.25,374.54 186.50,379.93 186.75,385.66 187.00,390.85 187.25,394.71 187.50,396.67 187.75,396.43 188.00,394.04 188.25,389.87 188.50,384.55 188.75,378.91 189.00,373.80 189.25,369.99 189.50,368.07 189.75,368.32 190.00,370.70 190.25,374.83 190.50,380.10 190.75,385.69 191.00,390.75 191.25,394.52 191.50,396.43 191.75,396.20 192.00,393.87 192.25,389.79 192.50,384.61 192.75,379.10 193.00,374.11 193.25,370.40 193.50,368.53 193.75,368.77 194.00,371.09 194.25,375.13 194.50,380.26 194.75,385.71 195.00,390.65 195.25,394.33 195.50,396.20 195.75,395.97 196.00,393.69 196.25,389.72 196.50,384.66 196.75,379.29 197.00,374.43 197.25,370.81 197.50,368.98 197.75,369.22 198.00,371.48 198.25,375.42 198.50,380.43 198.75,385.74 199.00,390.56 199.25,394.15 199.50,395.96 199.75,395.74 200.00,393.52 200.25,389.64 200.50,384.70 200.75,379.47 201.00,374.74 201.25,371.22 201.50,369.45 201.75,369.68 202.00,371.88 202.25,375.70 202.50,380.55 202.75,385.69 203.00,390.34 203.25,393.79 203.50,395.53 203.75,395.30 204.00,393.15 204.25,389.40 204.50,384.65 204.75,379.60 205.00,375.04 205.25,371.65 205.50,369.94 205.75,370.17 206.00,372.28 206.25,375.96 206.50,380.64 206.75,385.59 207.00,390.07 207.25,393.40 207.50,395.07 207.75,394.85 208.00,392.78 208.25,389.17 208.50,384.59 208.75,379.73 209.00,375.34 209.25,372.07 209.50,370.43 209.75,370.65 210.00,372.69 210.25,376.23 210.50,380.73 210.75,385.49 211.00,389.80 211.25,393.00 211.50,394.62 211.75,394.40 212.00,392.40 212.25,388.93 212.50,384.53 212.75,379.86 213.00,375.63 213.25,372.50 213.50,370.92 213.75,371.13 214.00,373.09 214.25,376.50 214.50,380.82 214.75,385.40 215.00,389.54 215.25,392.61 215.50,394.16 215.75,393.95 216.00,392.03 216.25,388.70 216.50,384.47 216.75,379.98 217.00,375.93 217.25,372.92 217.50,371.41 217.75,371.62 218.00,373.50 218.25,376.76 218.50,380.91 218.75,385.30 219.00,389.27 219.25,392.22 219.50,393.70 219.75,393.50 220.00,391.66 220.25,388.47 220.50,384.41 220.75,380.11 221.00,376.23 221.25,373.35 221.50,371.90 221.75,372.10 222.00,373.90 222.25,377.03 222.50,381.00 222.75,385.21 223.00,389.00 223.25,391.82 223.50,393.24 223.75,393.05 224.00,391.29 224.25,388.23 224.50,384.35 224.75,380.24 225.00,376.53 225.25,373.77 225.50,372.39 225.75,372.58 226.00,374.31 226.25,377.30 226.50,381.09 226.75,385.11 227.00,388.74 227.25,391.43 227.50,392.78 227.75,392.60 228.00,390.92 228.25,388.00 228.50,384.29 228.75,380.37 229.00,376.83 229.25,374.20 229.50,372.88 229.75,373.06 230.00,374.71 230.25,377.56 230.50,381.18 230.75,385.01 231.00,388.47 231.25,391.04 231.50,392.33 231.75,392.15 232.00,390.54 232.25,387.76 232.50,384.23 232.75,380.50 233.00,377.12 233.25,374.62 233.50,373.37 233.75,373.55 234.00,375.12 234.25,377.83 234.50,381.27 234.75,384.92 235.00,388.21 235.25,390.64 235.50,391.87 235.75,391.70 236.00,390.17 236.25,387.53 236.50,384.17 236.75,380.62 237.00,377.42 237.25,375.05 237.50,373.86 237.75,374.03 238.00,375.52 238.25,378.10 238.50,381.36 238.75,384.82 239.00,387.94 239.25,390.25 239.50,391.41 239.75,391.25 240.00,389.80 240.25,387.29 240.50,384.11 240.75,380.75 241.00,377.72 241.25,375.47 241.50,374.35 241.75,374.51 242.00,375.92 242.25,378.36 242.50,381.46 242.75,384.72 243.00,387.67 243.25,389.86 243.50,390.95 243.75,390.80 244.00,389.43 244.25,387.06 244.50,384.05 244.75,380.88 245.00,378.02 245.25,375.90 245.50,374.84 245.75,374.99 246.00,376.33 246.25,378.63 246.50,381.55 246.75,384.63 247.00,387.41 247.25,389.47 247.50,390.49 247.75,390.35 248.00,389.05 248.25,386.82 248.50,384.00 248.75,381.01 249.00,378.32 249.25,376.33 249.50,375.33 249.75,375.48 250.00,376.73 250.25,378.89 250.50,381.64 250.75,384.56 251.00,387.21 251.25,389.19 251.50,390.20 251.75,390.09 252.00,388.87 252.25,386.73 252.50,384.01 252.75,381.11 253.00,378.47 253.25,376.51 253.50,375.52 253.75,375.64 254.00,376.86 254.25,378.99 254.50,381.71 254.75,384.60 255.00,387.23 255.25,389.19 255.50,390.19 255.75,390.07 256.00,388.87 256.25,386.75 256.50,384.06 256.75,381.19 257.00,378.59 257.25,376.64 257.50,375.66 257.75,375.78 258.00,376.99 258.25,379.10 258.50,381.79 258.75,384.65 259.00,387.25 259.25,389.19 259.50,390.17 259.75,390.06 260.00,388.87 260.25,386.78 260.50,384.11 260.75,381.27 261.00,378.70 261.25,376.78 261.50,375.80 261.75,375.92 262.00,377.12 262.25,379.21 262.50,381.87 262.75,384.70 263.00,387.26 263.25,389.18 263.50,390.16 263.75,390.05 264.00,388.87 264.25,386.80 264.50,384.16 264.75,381.35 265.00,378.81 265.25,376.91 265.50,375.95 265.75,376.07 266.00,377.25 266.25,379.31 266.50,381.94 266.75,384.74 267.00,387.28 267.25,389.18 267.50,390.14 267.75,390.03 268.00,388.86 268.25,386.82 268.50,384.21 268.75,381.44 269.00,378.92 269.25,377.04 269.50,376.09 269.75,376.21 270.00,377.38 270.25,379.42 270.50,382.02 270.75,384.79 271.00,387.30 271.25,389.17 271.50,390.13 271.75,390.02 272.00,388.86 272.25,386.84 272.50,384.26 272.75,381.52 273.00,379.03 273.25,377.17 273.50,376.23 273.75,376.35 274.00,377.50 274.25,379.52 274.50,382.10 274.75,384.83 275.00,387.31 275.25,389.17 275.50,390.11 275.75,390.00 276.00,388.86 276.25,386.86 276.50,384.31 276.75,381.60 277.00,379.14 277.25,377.31 277.50,376.38 277.75,376.49 278.00,377.63 278.25,379.63 278.50,382.17 278.75,384.88 279.00,387.33 279.25,389.16 279.50,390.10 279.75,389.99 280.00,388.86 280.25,386.89 280.50,384.37 280.75,381.68 281.00,379.25 281.25,377.44 281.50,376.52 281.75,376.63 282.00,377.76 282.25,379.73 282.50,382.25 282.75,384.92 283.00,387.35 283.25,389.16 283.50,390.08 283.75,389.98 284.00,388.86 284.25,386.91 284.50,384.42 284.75,381.77 285.00,379.36 285.25,377.57 285.50,376.66 285.75,376.77 286.00,377.89 286.25,379.84 286.50,382.32 286.75,384.97 287.00,387.37 287.25,389.16 287.50,390.07 287.75,389.96 288.00,388.86 288.25,386.93 288.50,384.47 288.75,381.85 289.00,379.47 289.25,377.70 289.50,376.80 289.75,376.92 290.00,378.02 290.25,379.95 290.50,382.40 290.75,385.01 291.00,387.38 291.25,389.15 291.50,390.05 291.75,389.95 292.00,388.86 292.25,386.95 292.50,384.52 292.75,381.93 293.00,379.59 293.25,377.83 293.50,376.95 293.75,377.06 294.00,378.15 294.25,380.05 294.50,382.48 294.75,385.06 295.00,387.40 295.25,389.15 295.50,390.04 295.75,389.94 296.00,388.86 296.25,386.98 296.50,384.57 296.75,382.02 297.00,379.70 297.25,377.97 297.50,377.09 297.75,377.20 298.00,378.28 298.25,380.16 298.50,382.55 298.75,385.10 299.00,387.42 299.25,389.14 299.50,390.02 299.75,389.92 300.00,388.86 300.25,386.99 300.50,384.61 300.75,382.09 301.00,379.81 301.25,378.11 301.50,377.25 301.75,377.36 302.00,378.42 302.25,380.26 302.50,382.60 302.75,385.08 303.00,387.33 303.25,389.00 303.50,389.85 303.75,389.74 304.00,388.69 304.25,386.88 304.50,384.58 304.75,382.14 305.00,379.92 305.25,378.28 305.50,377.45 305.75,377.56 306.00,378.58 306.25,380.36 306.50,382.63 306.75,385.04 307.00,387.21 307.25,388.83 307.50,389.65 307.75,389.54 308.00,388.53 308.25,386.78 308.50,384.55 308.75,382.18 309.00,380.04 309.25,378.45 309.50,377.64 309.75,377.75 310.00,378.74 310.25,380.47 310.50,382.66 310.75,384.99 311.00,387.09 311.25,388.66 311.50,389.45 311.75,389.34 312.00,388.37 312.25,386.67 312.50,384.51 312.75,382.23 313.00,380.16 313.25,378.62 313.50,377.84 313.75,377.94 314.00,378.90 314.25,380.57 314.50,382.69 314.75,384.94 315.00,386.97 315.25,388.48 315.50,389.25 315.75,389.15 316.00,388.20 316.25,386.56 316.50,384.48 316.75,382.27 317.00,380.27 317.25,378.78 317.50,378.04 317.75,378.13 318.00,379.06 318.25,380.67 318.50,382.72 318.75,384.89 319.00,386.85 319.25,388.31 319.50,389.05 319.75,388.95 320.00,388.04 320.25,386.46 320.50,384.45 320.75,382.31 321.00,380.39 321.25,378.95 321.50,378.23 321.75,378.33 322.00,379.22 322.25,380.77 322.50,382.75 322.75,384.84 323.00,386.73 323.25,388.14 323.50,388.85 323.75,388.75 324.00,387.88 324.25,386.35 324.50,384.41 324.75,382.36 325.00,380.50 325.25,379.12 325.50,378.43 325.75,378.52 326.00,379.38 326.25,380.88 326.50,382.78 326.75,384.79 327.00,386.61 327.25,387.97 327.50,388.65 327.75,388.56 328.00,387.71 328.25,386.24 328.50,384.38 328.75,382.40 329.00,380.62 329.25,379.29 329.50,378.62 329.75,378.71 330.00,379.54 330.25,380.98 330.50,382.81 330.75,384.74 331.00,386.49 331.25,387.79 331.50,388.45 331.75,388.36 332.00,387.55 332.25,386.14 332.50,384.35 332.75,382.45 333.00,380.73 333.25,379.46 333.50,378.82 333.75,378.90 334.00,379.70 334.25,381.08 334.50,382.84 334.75,384.70 335.00,386.38 335.25,387.62 335.50,388.25 335.75,388.17 336.00,387.39 336.25,386.03 336.50,384.31 336.75,382.49 337.00,380.85 337.25,379.63 337.50,379.01 337.75,379.10 338.00,379.86 338.25,381.18 338.50,382.87 338.75,384.65 339.00,386.26 339.25,387.45 339.50,388.05 339.75,387.97 340.00,387.22 340.25,385.93 340.50,384.28 340.75,382.54 341.00,380.96 341.25,379.80 341.50,379.21 341.75,379.29 342.00,380.02 342.25,381.29 342.50,382.90 342.75,384.60 343.00,386.14 343.25,387.28 343.50,387.85 343.75,387.77 344.00,387.06 344.25,385.82 344.50,384.25 344.75,382.58 345.00,381.08 345.25,379.97 345.50,379.41 345.75,379.48 346.00,380.18 346.25,381.39 346.50,382.92 346.75,384.55 347.00,386.02 347.25,387.11 347.50,387.65 347.75,387.58 348.00,386.89 348.25,385.71 348.50,384.21 348.75,382.63 349.00,381.20 349.25,380.13 349.50,379.60 349.75,379.67 350.00,380.34 350.25,381.49 350.50,382.95 350.75,384.50 351.00,385.91 351.25,386.96 351.50,387.48 351.75,387.42 352.00,386.77 352.25,385.63 352.50,384.19 352.75,382.66 353.00,381.27 353.25,380.24 353.50,379.72 353.75,379.79 354.00,380.43 354.25,381.55 354.50,382.97 354.75,384.48 355.00,385.84 355.25,386.86 355.50,387.37 355.75,387.31 356.00,386.67 356.25,385.57 356.50,384.17 356.75,382.68 357.00,381.34 357.25,380.34 357.50,379.83 357.75,379.89 358.00,380.52 358.25,381.60 358.50,382.98 358.75,384.45 359.00,385.77 359.25,386.76 359.50,387.26 359.75,387.20 360.00,386.58 360.25,385.51 360.50,384.15 360.75,382.71 361.00,381.40 361.25,380.43 361.50,379.94 361.75,380.00 362.00,380.61 362.25,381.66 362.50,383.00 362.75,384.42 363.00,385.71 363.25,386.66 363.50,387.15 363.75,387.08 364.00,386.49 364.25,385.45 364.50,384.13 364.75,382.73 365.00,381.46 365.25,380.52 365.50,380.05 365.75,380.11 366.00,380.69 366.25,381.72 366.50,383.01 366.75,384.39 367.00,385.64 367.25,386.57 367.50,387.03 367.75,386.97 368.00,386.40 368.25,385.39 368.50,384.11 368.75,382.76 369.00,381.53 369.25,380.62 369.50,380.16 369.75,380.21 370.00,380.78 370.25,381.77 370.50,383.03 370.75,384.36 371.00,385.57 371.25,386.47 371.50,386.92 371.75,386.86 372.00,386.30 372.25,385.33 372.50,384.09 372.75,382.78 373.00,381.59 373.25,380.71 373.50,380.26 373.75,380.32 374.00,380.87 374.25,381.83 374.50,383.05 374.75,384.34 375.00,385.50 375.25,386.37 375.50,386.81 375.75,386.75 376.00,386.21 376.25,385.27 376.50,384.07 376.75,382.80 377.00,381.66 377.25,380.80 377.50,380.37 377.75,380.43 378.00,380.96 378.25,381.89 378.50,383.06 378.75,384.31 379.00,385.44 379.25,386.27 379.50,386.70 379.75,386.64 380.00,386.12 380.25,385.21 380.50,384.05 380.75,382.83 381.00,381.72 381.25,380.90 381.50,380.48 381.75,380.54 382.00,381.05 382.25,381.94 382.50,383.08 382.75,384.28 383.00,385.37 383.25,386.18 383.50,386.58 383.75,386.53 384.00,386.03 384.25,385.15 384.50,384.03 384.75,382.85 385.00,381.78 385.25,380.99 385.50,380.59 385.75,380.64 386.00,381.14 386.25,382.00 386.50,383.09 386.75,384.25 387.00,385.30 387.25,386.08 387.50,386.47 387.75,386.42 388.00,385.93 388.25,385.09 388.50,384.01 388.75,382.88 389.00,381.85 389.25,381.08 389.50,380.70 389.75,380.75 390.00,381.23 390.25,382.06 390.50,383.11 390.75,384.22 391.00,385.23 391.25,385.98 391.50,386.36 391.75,386.31 392.00,385.84 392.25,385.03 392.50,384.00 392.75,382.90 393.00,381.91 393.25,381.18 393.50,380.81 393.75,380.86 394.00,381.32 394.25,382.11 394.50,383.12 394.75,384.20 395.00,385.17 395.25,385.88 395.50,386.25 395.75,386.20 396.00,385.75 396.25,384.97 396.50,383.98 396.75,382.93 397.00,381.98 397.25,381.27 397.50,380.92 397.75,380.96 398.00,381.40 398.25,382.17 398.50,383.14 398.75,384.17 399.00,385.10 399.25,385.79 399.50,386.13 399.75,386.09 400.00,385.66 400.25,384.91 400.50,383.96 400.75,382.95 401.00,382.03 401.25,381.34 401.50,380.99 401.75,381.03 402.00,381.45 402.25,382.20 402.50,383.15 402.75,384.16 403.00,385.07 403.25,385.76 403.50,386.11 403.75,386.07 404.00,385.64 404.25,384.90 404.50,383.95 404.75,382.95 405.00,382.03 405.25,381.35 405.50,381.00 405.75,381.04 406.00,381.46 406.25,382.20 406.50,383.15 406.75,384.15 407.00,385.06 407.25,385.74 407.50,386.09 407.75,386.05 408.00,385.63 408.25,384.89 408.50,383.95 408.75,382.95 409.00,382.04 409.25,381.36 409.50,381.01 409.75,381.05 410.00,381.47 410.25,382.21 410.50,383.15 410.75,384.14 411.00,385.05 411.25,385.73 411.50,386.07 411.75,386.03 412.00,385.61 412.25,384.88 412.50,383.95 412.75,382.95 413.00,382.05 413.25,381.37 413.50,381.03 413.75,381.07 414.00,381.48 414.25,382.21 414.50,383.15 414.75,384.14 415.00,385.04 415.25,385.71 415.50,386.06 415.75,386.02 416.00,385.60 416.25,384.87 416.50,383.94 416.75,382.95 417.00,382.05 417.25,381.38 417.50,381.04 417.75,381.08 418.00,381.49 418.25,382.22 418.50,383.15 418.75,384.13 419.00,385.03 419.25,385.70 419.50,386.04 419.75,386.00 420.00,385.59 420.25,384.86 420.50,383.94 420.75,382.95 421.00,382.06 421.25,381.39 421.50,381.05 421.75,381.09 422.00,381.50 422.25,382.23 422.50,383.15 422.75,384.13 423.00,385.02 423.25,385.69 423.50,386.02 423.75,385.98 424.00,385.57 424.25,384.85 424.50,383.93 424.75,382.95 425.00,382.07 425.25,381.40 425.50,381.06 425.75,381.10 426.00,381.51 426.25,382.23 426.50,383.15 426.75,384.12 427.00,385.01 427.25,385.67 427.50,386.01 427.75,385.97 428.00,385.56 428.25,384.84 428.50,383.93 428.75,382.96 429.00,382.07 429.25,381.41 429.50,381.08 429.75,381.12 430.00,381.52 430.25,382.24 430.50,383.15 430.75,384.12 431.00,385.00 431.25,385.66 431.50,385.99 431.75,385.95 432.00,385.55 432.25,384.83 432.50,383.92 432.75,382.96 433.00,382.08 433.25,381.42 433.50,381.09 433.75,381.13 434.00,381.53 434.25,382.24 434.50,383.15 434.75,384.11 435.00,384.99 435.25,385.64 435.50,385.97 435.75,385.94 436.00,385.53 436.25,384.82 436.50,383.92 436.75,382.96 437.00,382.09 437.25,381.43 437.50,381.10 437.75,381.14 438.00,381.54 438.25,382.25 438.50,383.15 438.75,384.11 439.00,384.98 439.25,385.63 439.50,385.96 439.75,385.92 440.00,385.52 440.25,384.81 440.50,383.92 440.75,382.96 441.00,382.09 441.25,381.44 441.50,381.11 441.75,381.15 442.00,381.55 442.25,382.25 442.50,383.15 442.75,384.10 443.00,384.97 443.25,385.61 443.50,385.94 443.75,385.90 444.00,385.50 444.25,384.80 444.50,383.91 444.75,382.96 445.00,382.10 445.25,381.46 445.50,381.13 445.75,381.17 446.00,381.56 446.25,382.26 446.50,383.15 446.75,384.10 447.00,384.96 447.25,385.60 447.50,385.93 447.75,385.89 448.00,385.49 448.25,384.80 448.50,383.91 448.75,382.96 449.00,382.11 449.25,381.47 449.50,381.14 449.75,381.18 450.00,381.57 450.25,382.27 450.50,383.15 450.75,384.09 451.00,384.95 451.25,385.58 451.50,385.91 451.75,385.87 452.00,385.48 452.25,384.79 452.50,383.90 452.75,382.97 453.00,382.11 453.25,381.48 453.50,381.15 453.75,381.19 454.00,381.58 454.25,382.27 454.50,383.15 454.75,384.09 455.00,384.94 455.25,385.57 455.50,385.89 455.75,385.85 456.00,385.46 456.25,384.78 456.50,383.90 456.75,382.97 457.00,382.12 457.25,381.49 457.50,381.17 457.75,381.20 458.00,381.59 458.25,382.28 458.50,383.15 458.75,384.08 459.00,384.92 459.25,385.56 459.50,385.88 459.75,385.84 460.00,385.45 460.25,384.77 460.50,383.90 460.75,382.97 461.00,382.13 461.25,381.50 461.50,381.18 461.75,381.21 462.00,381.60 462.25,382.28 462.50,383.15 462.75,384.08 463.00,384.91 463.25,385.54 463.50,385.86 463.75,385.82 464.00,385.43 464.25,384.76 464.50,383.89 464.75,382.97 465.00,382.13 465.25,381.51 465.50,381.19 465.75,381.23 466.00,381.61 466.25,382.29 466.50,383.15 466.75,384.07 467.00,384.90 467.25,385.53 467.50,385.84 467.75,385.81 468.00,385.42 468.25,384.75 468.50,383.89 468.75,382.97 469.00,382.14 469.25,381.52 469.50,381.20 469.75,381.24 470.00,381.62 470.25,382.29 470.50,383.15 470.75,384.06 471.00,384.89 471.25,385.51 471.50,385.83 471.75,385.79 472.00,385.41 472.25,384.74 472.50,383.88 472.75,382.97 473.00,382.15 473.25,381.53 473.50,381.22 473.75,381.25 474.00,381.63 474.25,382.30 474.50,383.15 474.75,384.06 475.00,384.88 475.25,385.50 475.50,385.81 475.75,385.77 476.00,385.39 476.25,384.73 476.50,383.88 476.75,382.97 477.00,382.15 477.25,381.54 477.50,381.23 477.75,381.26 478.00,381.64 478.25,382.31 478.50,383.15 478.75,384.05 479.00,384.87 479.25,385.48 479.50,385.79 479.75,385.76 480.00,385.38 480.25,384.72 480.50,383.87 480.75,382.98 481.00,382.16 481.25,381.55 481.50,381.24 481.75,381.28 482.00,381.65 482.25,382.31 482.50,383.15 482.75,384.05 483.00,384.86 483.25,385.47 483.50,385.78 483.75,385.74 484.00,385.37 484.25,384.71 484.50,383.87 484.75,382.98 485.00,382.17 485.25,381.56 485.50,381.25 485.75,381.29 486.00,381.66 486.25,382.32 486.50,383.15 486.75,384.04 487.00,384.85 487.25,385.45 487.50,385.76 487.75,385.73 488.00,385.35 488.25,384.70 488.50,383.87 488.75,382.98 489.00,382.17 489.25,381.57 489.50,381.27 489.75,381.30 490.00,381.67 490.25,382.32 490.50,383.15 490.75,384.04 491.00,384.84 491.25,385.44 491.50,385.74 491.75,385.71 492.00,385.34 492.25,384.69 492.50,383.86 492.75,382.98 493.00,382.18 493.25,381.58 493.50,381.28 493.75,381.31 494.00,381.68 494.25,382.33 494.50,383.15 494.75,384.03 495.00,384.83 495.25,385.43 495.50,385.73 495.75,385.69 496.00,385.32 496.25,384.68 496.50,383.86 496.75,382.98 497.00,382.19 497.25,381.59 497.50,381.29 497.75,381.33 498.00,381.69 498.25,382.34 498.50,383.15 498.75,384.03 499.00,384.82 499.25,385.41 499.50,385.71 499.75,385.68 500.00,385.31 500.25,384.67 500.50,383.85 500.75,382.98 501.00,382.19 501.25,381.60 501.50,381.30 501.75,381.34 502.00,381.70 502.25,382.34 502.50,383.16 502.75,384.02 503.00,384.81 503.25,385.40 503.50,385.70 503.75,385.66 504.00,385.30 504.25,384.66 504.50,383.85 504.75,382.98 505.00,382.20 505.25,381.61 505.50,381.32 505.75,381.35 506.00,381.71 506.25,382.35 506.50,383.16 506.75,384.02 507.00,384.80 507.25,385.38 507.50,385.68 507.75,385.64 508.00,385.28 508.25,384.65 508.50,383.84 508.75,382.99 509.00,382.21 509.25,381.62 509.50,381.33"/>
<polyline fill="none" stroke="#ee1a22" stroke-width="1.05" stroke-linejoin="round" stroke-linecap="round"  points="41.50,411.47 41.75,411.42 42.00,411.39 42.25,411.39 42.50,411.40 42.75,411.41 43.00,411.39 43.25,411.34 43.50,411.25 43.75,411.10 44.00,410.90 44.25,410.65 44.50,410.36 44.75,410.04 45.00,409.70 45.25,409.36 45.50,409.03 45.75,408.72 46.00,408.46 46.25,408.25 46.50,408.09 46.75,407.98 47.00,407.91 47.25,407.89 47.50,407.89 47.75,407.91 48.00,407.92 48.25,407.92 48.50,407.88 48.75,407.80 49.00,407.67 49.25,407.49 49.50,407.26 49.75,406.98 50.00,406.67 50.25,406.37 50.50,406.17 50.75,405.98 51.00,405.81 51.25,405.68 51.50,405.59 51.75,405.56 52.00,405.58 52.25,405.65 52.50,405.75 52.75,405.89 53.00,406.04 53.25,406.19 53.50,406.33 53.75,406.44 54.00,406.51 54.25,406.52 54.50,406.49 54.75,406.41 55.00,406.28 55.25,406.11 55.50,405.92 55.75,405.72 56.00,405.52 56.25,405.35 56.50,405.21 56.75,405.12 57.00,405.07 57.25,405.08 57.50,405.14 57.75,405.24 58.00,405.36 58.25,405.49 58.50,405.63 58.75,405.76 59.00,405.86 59.25,405.92 59.50,405.93 59.75,405.89 60.00,405.80 60.25,405.66 60.50,405.48 60.75,405.28 61.00,405.07 61.25,404.85 61.50,404.66 61.75,404.50 62.00,404.38 62.25,404.31 62.50,404.29 62.75,404.32 63.00,404.40 63.25,404.51 63.50,404.64 63.75,404.78 64.00,404.91 64.25,405.01 64.50,405.08 64.75,405.10 65.00,405.08 65.25,404.99 65.50,404.87 65.75,404.65 66.00,404.40 66.25,404.14 66.50,403.88 66.75,403.64 67.00,403.42 67.25,403.25 67.50,403.12 67.75,403.04 68.00,403.02 68.25,403.04 68.50,403.10 68.75,403.18 69.00,403.27 69.25,403.36 69.50,403.42 69.75,403.45 70.00,403.44 70.25,403.37 70.50,403.26 70.75,403.09 71.00,402.88 71.25,402.64 71.50,402.38 71.75,402.12 72.00,401.87 72.25,401.65 72.50,401.46 72.75,401.33 73.00,401.24 73.25,401.22 73.50,401.26 73.75,401.33 74.00,401.43 74.25,401.54 74.50,401.65 74.75,401.74 75.00,401.80 75.25,401.82 75.50,401.79 75.75,401.70 76.00,401.57 76.25,401.39 76.50,401.18 76.75,400.94 77.00,400.70 77.25,400.47 77.50,400.26 77.75,400.09 78.00,399.96 78.25,399.87 78.50,399.76 78.75,399.70 79.00,399.68 79.25,399.69 79.50,399.71 79.75,399.73 80.00,399.74 80.25,399.72 80.50,399.66 80.75,399.55 81.00,399.39 81.25,399.17 81.50,398.91 81.75,398.62 82.00,398.30 82.25,397.97 82.50,397.64 82.75,397.34 83.00,397.07 83.25,396.85 83.50,396.77 83.75,396.77 84.00,396.82 84.25,396.91 84.50,397.03 84.75,397.17 85.00,397.31 85.25,397.44 85.50,397.54 85.75,397.61 86.00,397.62 86.25,397.59 86.50,397.50 86.75,397.37 87.00,397.20 87.25,397.00 87.50,396.79 87.75,396.58 88.00,396.39 88.25,396.23 88.50,396.03 88.75,395.75 89.00,395.52 89.25,395.34 89.50,395.21 89.75,395.11 90.00,395.03 90.25,394.96 90.50,394.87 90.75,394.77 91.00,394.63 91.25,394.44 91.50,394.20 91.75,393.91 92.00,393.57 92.25,393.19 92.50,392.78 92.75,392.35 93.00,391.92 93.25,391.51 93.50,391.13 93.75,391.01 94.00,390.94 94.25,390.92 94.50,390.95 94.75,391.03 95.00,391.15 95.25,391.28 95.50,391.43 95.75,391.57 96.00,391.69 96.25,391.78 96.50,391.82 96.75,391.81 97.00,391.75 97.25,391.64 97.50,391.48 97.75,391.30 98.00,391.10 98.25,390.89 98.50,390.69 98.75,390.52 99.00,390.38 99.25,390.29 99.50,390.25 99.75,390.27 100.00,390.33 100.25,390.43 100.50,390.55 100.75,390.69 101.00,390.82 101.25,390.94 101.50,391.03 101.75,391.07 102.00,391.06 102.25,391.00 102.50,390.61 102.75,389.76 103.00,388.62 103.25,387.88 103.50,387.14 103.75,386.40 104.00,385.66 104.25,384.92 104.50,384.18 104.75,383.44 105.00,382.70 105.25,381.93 105.50,381.16 105.75,380.39 106.00,379.62 106.25,378.85 106.50,378.08 106.75,377.31 107.00,376.54 107.25,375.77 107.50,375.00 107.75,374.30 108.00,373.60 108.25,372.90 108.50,372.20 108.75,371.50 109.00,370.80 109.25,370.10 109.50,369.40 109.75,368.70 110.00,368.00 110.25,367.39 110.50,366.77 110.75,366.16 111.00,365.55 111.25,364.93 111.50,364.32 111.75,363.71 112.00,363.09 112.25,362.48 112.50,361.87 112.75,361.25 113.00,360.64 113.25,360.03 113.50,359.42 113.75,358.80 114.00,358.19 114.25,357.58 114.50,356.96 114.75,356.35 115.00,355.74 115.25,355.12 115.50,354.38 115.75,353.62 116.00,352.85 116.25,352.08 116.50,351.31 116.75,350.54 117.00,349.77 117.25,349.00 117.50,348.23 117.75,347.46 118.00,346.55 118.25,345.44 118.50,344.32 118.75,343.21 119.00,342.09 119.25,340.97 119.50,339.86 119.75,338.74 120.00,337.62 120.25,336.51 120.50,335.39 120.75,334.28 121.00,333.16 121.25,332.04 121.50,330.93 121.75,329.81 122.00,328.70 122.25,327.58 122.50,326.46 122.75,325.35 123.00,324.23 123.25,323.12 123.50,322.00 123.75,321.25 124.00,320.50 124.25,319.75 124.50,319.00 124.75,318.25 125.00,317.50 125.25,316.75 125.50,316.00 125.75,315.25 126.00,314.50 126.25,313.75 126.50,313.00 126.75,312.25 127.00,311.50 127.25,310.75 127.50,310.00 127.75,309.25 128.00,308.50 128.25,307.75 128.50,307.00 128.75,306.50 129.00,306.00 129.25,305.50 129.50,304.50 129.75,303.30 130.00,302.02 130.25,300.64 130.50,299.18 130.75,297.63 131.00,296.00 131.25,294.22 131.50,292.24 131.75,290.12 132.00,287.89 132.25,285.60 132.50,283.29 132.75,281.00 133.00,278.78 133.25,276.66 133.50,274.70 133.75,272.85 134.00,271.05 134.25,269.30 134.50,267.58 134.75,265.90 135.00,264.26 135.25,262.65 135.50,261.08 135.75,259.53 136.00,258.00 136.25,256.37 136.50,254.57 136.75,252.71 137.00,250.90 137.25,249.26 137.50,247.88 137.75,246.87 138.00,246.35 138.25,246.48 138.50,247.46 138.75,248.96 139.00,250.64 139.25,252.14 139.50,253.15 139.75,253.97 140.00,254.72 140.25,255.40 140.50,256.04 140.75,256.66 141.00,257.26 141.25,257.87 141.50,258.50 141.75,259.12 142.00,259.70 142.25,260.25 142.50,260.79 142.75,261.34 143.00,261.91 143.25,262.52 143.50,263.18 143.75,263.92 144.00,264.74 144.25,265.65 144.50,266.65 144.75,267.74 145.00,268.92 145.25,270.19 145.50,271.56 145.75,273.02 146.00,274.58 146.25,276.24 146.50,278.00 146.75,280.08 147.00,282.61 147.25,285.42 147.50,288.36 147.75,291.27 148.00,294.00 148.25,296.51 148.50,298.91 148.75,301.28 149.00,303.68 149.25,306.19 149.50,308.87 149.75,311.88 150.00,315.51 150.25,319.42 150.50,323.23 150.75,326.55 151.00,329.00 151.25,330.71 151.50,332.14 151.75,333.38 152.00,334.49 152.25,335.58 152.50,336.71 152.75,337.98 153.00,339.39 153.25,340.82 153.50,342.14 153.75,343.25 154.00,344.00 154.25,344.50 154.50,344.91 154.75,345.27 155.00,345.58 155.25,345.85 155.50,346.11 155.75,346.37 156.00,346.64 156.25,346.94 156.50,347.27 156.75,347.64 157.00,348.03 157.25,348.44 157.50,348.87 157.75,349.30 158.00,349.73 158.25,350.16 158.50,350.59 158.75,350.99 159.00,351.38 159.25,351.73 159.50,352.06 159.75,352.34 160.00,352.59 160.25,352.78 160.50,352.91 160.75,352.99 161.00,352.96 161.25,352.55 161.50,351.76 161.75,350.64 162.00,349.29 162.25,347.75 162.50,346.12 162.75,344.46 163.00,342.83 163.25,341.32 163.50,340.00 163.75,338.69 164.00,337.24 164.25,335.70 164.50,334.14 164.75,332.64 165.00,331.26 165.25,330.07 165.50,329.13 165.75,328.52 166.00,328.30 166.25,328.40 166.50,328.69 166.75,329.12 167.00,329.68 167.25,330.33 167.50,331.05 167.75,331.80 168.00,332.55 168.25,333.28 168.50,333.95 168.75,334.53 169.00,335.00 169.25,335.39 169.50,335.77 169.75,336.13 170.00,336.48 170.25,336.81 170.50,337.13 170.75,337.43 171.00,337.71 171.25,337.98 171.50,338.23 171.75,338.46 172.00,338.66 172.25,338.83 172.50,338.98 172.75,339.12 173.00,339.26 173.25,339.40 173.50,339.57 173.75,339.76 174.00,340.00 174.25,340.36 174.50,340.91 174.75,341.63 175.00,342.48 175.25,343.46 175.50,344.53 175.75,345.68 176.00,346.88 176.25,348.11 176.50,349.36 176.75,350.58 177.00,351.78 177.25,352.92 177.50,353.97 177.75,354.93 178.00,355.76 178.25,356.44 178.50,356.96 178.75,357.29 179.00,357.40 179.25,357.27 179.50,356.90 179.75,356.34 180.00,355.60 180.25,354.74 180.50,353.78 180.75,352.76 181.00,351.72 181.25,350.68 181.50,349.70 181.75,348.79 182.00,348.00 182.25,347.27 182.50,346.51 182.75,345.74 183.00,344.98 183.25,344.22 183.50,343.48 183.75,342.77 184.00,342.09 184.25,341.47 184.50,340.91 184.75,340.41 185.00,340.00 185.25,339.64 185.50,339.31 185.75,338.99 186.00,338.70 186.25,338.42 186.50,338.16 186.75,337.92 187.00,337.68 187.25,337.46 187.50,337.24 187.75,337.03 188.00,336.83 188.25,336.62 188.50,336.42 188.75,336.21 189.00,336.00 189.25,335.78 189.50,335.55 189.75,335.31 190.00,335.07 190.25,334.82 190.50,334.57 190.75,334.33 191.00,334.09 191.25,333.85 191.50,333.63 191.75,333.43 192.00,333.24 192.25,333.07 192.50,332.92 192.75,332.80 193.00,332.70 193.25,332.64 193.50,332.60 193.75,332.64 194.00,332.91 194.25,333.37 194.50,334.02 194.75,334.82 195.00,335.73 195.25,336.74 195.50,337.82 195.75,338.93 196.00,340.04 196.25,341.13 196.50,342.17 196.75,343.13 197.00,343.98 197.25,344.69 197.50,345.23 197.75,345.58 198.00,345.70 198.25,345.67 198.50,345.60 198.75,345.48 199.00,345.34 199.25,345.17 199.50,345.00 199.75,344.83 200.00,344.66 200.25,344.52 200.50,344.40 200.75,344.33 201.00,344.30 201.25,344.32 201.50,344.39 201.75,344.50 202.00,344.65 202.25,344.83 202.50,345.04 202.75,345.27 203.00,345.52 203.25,345.78 203.50,346.06 203.75,346.34 204.00,346.62 204.25,346.90 204.50,347.17 204.75,347.43 205.00,347.68 205.25,347.91 205.50,348.11 205.75,348.28 206.00,348.42 206.25,348.52 206.50,348.58 206.75,348.60 207.00,348.45 207.25,348.11 207.50,347.61 207.75,346.98 208.00,346.24 208.25,345.43 208.50,344.57 208.75,343.69 209.00,342.82 209.25,341.99 209.50,341.22 209.75,340.55 210.00,340.00 210.25,339.51 210.50,339.01 210.75,338.50 211.00,337.98 211.25,337.47 211.50,336.98 211.75,336.50 212.00,336.04 212.25,335.61 212.50,335.22 212.75,334.88 213.00,334.58 213.25,334.33 213.50,334.15 213.75,334.04 214.00,334.00 214.25,334.08 214.50,334.31 214.75,334.67 215.00,335.15 215.25,335.74 215.50,336.42 215.75,337.19 216.00,338.01 216.25,338.89 216.50,339.80 216.75,340.73 217.00,341.68 217.25,342.62 217.50,343.53 217.75,344.42 218.00,345.25 218.25,346.03 218.50,346.73 218.75,347.34 219.00,347.84 219.25,348.23 219.50,348.49 219.75,348.60 220.00,348.52 220.25,348.22 220.50,347.75 220.75,347.14 221.00,346.44 221.25,345.70 221.50,344.96 221.75,344.26 222.00,343.65 222.25,343.18 222.50,342.88 222.75,342.80 223.00,342.84 223.25,342.94 223.50,343.09 223.75,343.29 224.00,343.52 224.25,343.79 224.50,344.09 224.75,344.41 225.00,344.76 225.25,345.11 225.50,345.48 225.75,345.85 226.00,346.21 226.25,346.57 226.50,346.92 226.75,347.25 227.00,347.55 227.25,347.83 227.50,348.07 227.75,348.27 228.00,348.43 228.25,348.54 228.50,348.60 228.75,348.57 229.00,348.40 229.25,348.08 229.50,347.64 229.75,347.10 230.00,346.46 230.25,345.74 230.50,344.97 230.75,344.15 231.00,343.31 231.25,342.46 231.50,341.61 231.75,340.79 232.00,340.01 232.25,339.28 232.50,338.62 232.75,338.06 233.00,337.60 233.25,337.25 233.50,337.05 233.75,337.00 234.00,337.12 234.25,337.38 234.50,337.77 234.75,338.27 235.00,338.88 235.25,339.56 235.50,340.31 235.75,341.12 236.00,341.95 236.25,342.80 236.50,343.65 236.75,344.48 237.00,345.29 237.25,346.04 237.50,346.72 237.75,347.33 238.00,347.83 238.25,348.22 238.50,348.48 238.75,348.60 239.00,348.53 239.25,348.27 239.50,347.85 239.75,347.29 240.00,346.62 240.25,345.88 240.50,345.09 240.75,344.28 241.00,343.48 241.25,342.72 241.50,342.04 241.75,341.45 242.00,341.00 242.25,340.70 242.50,340.60 242.75,340.66 243.00,340.83 243.25,341.10 243.50,341.46 243.75,341.90 244.00,342.41 244.25,342.98 244.50,343.59 244.75,344.25 245.00,344.93 245.25,345.63 245.50,346.33 245.75,347.03 246.00,347.72 246.25,348.38 246.50,349.00 246.75,349.58 247.00,350.10 247.25,350.56 247.50,350.94 247.75,351.22 248.00,351.42 248.25,351.50 248.50,351.44 248.75,351.20 249.00,350.79 249.25,350.24 249.50,349.57 249.75,348.79 250.00,347.92 250.25,346.99 250.50,346.01 250.75,345.01 251.00,343.99 251.25,342.99 251.50,342.02 251.75,341.10 252.00,340.25 252.25,339.49 252.50,338.84 252.75,338.32 253.00,337.94 253.25,337.74 253.50,337.71 253.75,337.83 254.00,338.06 254.25,338.40 254.50,338.84 254.75,339.34 255.00,339.92 255.25,340.54 255.50,341.21 255.75,341.89 256.00,342.59 256.25,343.28 256.50,343.96 256.75,344.61 257.00,345.22 257.25,345.77 257.50,346.25 257.75,346.64 258.00,346.94 258.25,347.13 258.50,347.20 258.75,347.15 259.00,347.02 259.25,346.80 259.50,346.51 259.75,346.17 260.00,345.77 260.25,345.34 260.50,344.88 260.75,344.39 261.00,343.90 261.25,343.41 261.50,342.92 261.75,342.46 262.00,342.03 262.25,341.63 262.50,341.29 262.75,341.00 263.00,340.78 263.25,340.65 263.50,340.60 263.75,340.68 264.00,340.89 264.25,341.24 264.50,341.69 264.75,342.24 265.00,342.87 265.25,343.57 265.50,344.31 265.75,345.09 266.00,345.89 266.25,346.69 266.50,347.48 266.75,348.24 267.00,348.95 267.25,349.61 267.50,350.20 267.75,350.69 268.00,351.08 268.25,351.35 268.50,351.49 268.75,351.47 269.00,351.30 269.25,350.98 269.50,350.54 269.75,350.00 270.00,349.36 270.25,348.64 270.50,347.87 270.75,347.05 271.00,346.21 271.25,345.36 271.50,344.51 271.75,343.69 272.00,342.91 272.25,342.18 272.50,341.52 272.75,340.96 273.00,340.50 273.25,340.15 273.50,339.95 273.75,339.90 274.00,339.95 274.25,340.07 274.50,340.25 274.75,340.49 275.00,340.78 275.25,341.11 275.50,341.49 275.75,341.90 276.00,342.33 276.25,342.79 276.50,343.27 276.75,343.76 277.00,344.25 277.25,344.74 277.50,345.23 277.75,345.71 278.00,346.17 278.25,346.60 278.50,347.01 278.75,347.39 279.00,347.72 279.25,348.01 279.50,348.25 279.75,348.43 280.00,348.55 280.25,348.60 280.50,348.54 280.75,348.29 281.00,347.88 281.25,347.34 281.50,346.68 281.75,345.93 282.00,345.11 282.25,344.25 282.50,343.37 282.75,342.50 283.00,341.65 283.25,340.86 283.50,340.14 283.75,339.53 284.00,339.04 284.25,338.69 284.50,338.52 284.75,338.53 285.00,338.73 285.25,339.08 285.50,339.57 285.75,340.18 286.00,340.90 286.25,341.70 286.50,342.57 286.75,343.48 287.00,344.43 287.25,345.38 287.50,346.33 287.75,347.25 288.00,348.13 288.25,348.95 288.50,349.68 288.75,350.31 289.00,350.83 289.25,351.21 289.50,351.44 289.75,351.50 290.00,351.44 290.25,351.30 290.50,351.08 290.75,350.81 291.00,350.47 291.25,350.10 291.50,349.68 291.75,349.23 292.00,348.77 292.25,348.29 292.50,347.81 292.75,347.34 293.00,346.87 293.25,346.43 293.50,346.03 293.75,345.66 294.00,345.33 294.25,345.07 294.50,344.87 294.75,344.74 295.00,344.70 295.25,344.73 295.50,344.83 295.75,344.99 296.00,345.19 296.25,345.43 296.50,345.70 296.75,345.99 297.00,346.30 297.25,346.61 297.50,346.93 297.75,347.23 298.00,347.51 298.25,347.77 298.50,348.00 298.75,348.18 299.00,348.31 299.25,348.39 299.50,348.39 299.75,348.32 300.00,348.17 300.25,347.96 300.50,347.68 300.75,347.34 301.00,346.96 301.25,346.53 301.50,346.07 301.75,345.57 302.00,345.06 302.25,344.52 302.50,343.98 302.75,343.43 303.00,342.89 303.25,342.35 303.50,341.83 303.75,341.33 304.00,340.86 304.25,340.43 304.50,340.03 304.75,339.69 305.00,339.40 305.25,339.17 305.50,339.00 305.75,338.91 306.00,338.91 306.25,339.00 306.50,339.18 306.75,339.45 307.00,339.80 307.25,340.20 307.50,340.67 307.75,341.18 308.00,341.73 308.25,342.31 308.50,342.92 308.75,343.53 309.00,344.14 309.25,344.75 309.50,345.34 309.75,345.90 310.00,346.43 310.25,346.92 310.50,347.35 310.75,347.72 311.00,348.02 311.25,348.24 311.50,348.37 311.75,348.40 312.00,348.33 312.25,348.16 312.50,347.92 312.75,347.60 313.00,347.22 313.25,346.79 313.50,346.31 313.75,345.81 314.00,345.29 314.25,344.75 314.50,344.21 314.75,343.69 315.00,343.19 315.25,342.71 315.50,342.28 315.75,341.90 316.00,341.58 316.25,341.34 316.50,341.17 316.75,341.10 317.00,341.12 317.25,341.20 317.50,341.33 317.75,341.51 318.00,341.74 318.25,342.00 318.50,342.30 318.75,342.64 319.00,342.99 319.25,343.37 319.50,343.77 319.75,344.17 320.00,344.58 320.25,345.00 320.50,345.41 320.75,345.81 321.00,346.21 321.25,346.58 321.50,346.93 321.75,347.26 322.00,347.55 322.25,347.81 322.50,348.03 322.75,348.20 323.00,348.32 323.25,348.39 323.50,348.39 323.75,348.25 324.00,347.98 324.25,347.59 324.50,347.10 324.75,346.53 325.00,345.90 325.25,345.23 325.50,344.54 325.75,343.84 326.00,343.16 326.25,342.52 326.50,341.92 326.75,341.40 327.00,340.97 327.25,340.64 327.50,340.45 327.75,340.40 328.00,340.48 328.25,340.66 328.50,340.92 328.75,341.27 329.00,341.69 329.25,342.18 329.50,342.71 329.75,343.29 330.00,343.91 330.25,344.54 330.50,345.19 330.75,345.84 331.00,346.49 331.25,347.12 331.50,347.73 331.75,348.30 332.00,348.82 332.25,349.29 332.50,349.70 332.75,350.04 333.00,350.29 333.25,350.45 333.50,350.50 333.75,350.47 334.00,350.37 334.25,350.22 334.50,350.02 334.75,349.78 335.00,349.50 335.25,349.18 335.50,348.85 335.75,348.49 336.00,348.12 336.25,347.75 336.50,347.38 336.75,347.01 337.00,346.65 337.25,346.32 337.50,346.00 337.75,345.72 338.00,345.48 338.25,345.28 338.50,345.13 338.75,345.03 339.00,345.00 339.25,345.02 339.50,345.08 339.75,345.17 340.00,345.30 340.25,345.45 340.50,345.62 340.75,345.81 341.00,346.02 341.25,346.24 341.50,346.47 341.75,346.70 342.00,346.93 342.25,347.16 342.50,347.38 342.75,347.59 343.00,347.78 343.25,347.95 343.50,348.10 343.75,348.23 344.00,348.32 344.25,348.38 344.50,348.40 344.75,348.35 345.00,348.20 345.25,347.96 345.50,347.65 345.75,347.27 346.00,346.82 346.25,346.33 346.50,345.79 346.75,345.22 347.00,344.63 347.25,344.02 347.50,343.40 347.75,342.79 348.00,342.20 348.25,341.62 348.50,341.08 348.75,340.57 349.00,340.12 349.25,339.72 349.50,339.39 349.75,339.14 350.00,338.97 350.25,338.90 350.50,338.94 350.75,339.10 351.00,339.37 351.25,339.73 351.50,340.18 351.75,340.71 352.00,341.31 352.25,341.95 352.50,342.64 352.75,343.36 353.00,344.10 353.25,344.85 353.50,345.60 353.75,346.33 354.00,347.04 354.25,347.71 354.50,348.34 354.75,348.91 355.00,349.41 355.25,349.83 355.50,350.15 355.75,350.38 356.00,350.49 356.25,350.48 356.50,350.36 356.75,350.14 357.00,349.84 357.25,349.46 357.50,349.02 357.75,348.53 358.00,348.00 358.25,347.43 358.50,346.85 358.75,346.26 359.00,345.68 359.25,345.11 359.50,344.57 359.75,344.07 360.00,343.62 360.25,343.23 360.50,342.91 360.75,342.68 361.00,342.54 361.25,342.50 361.50,342.57 361.75,342.71 362.00,342.94 362.25,343.22 362.50,343.57 362.75,343.96 363.00,344.39 363.25,344.84 363.50,345.32 363.75,345.80 364.00,346.28 364.25,346.76 364.50,347.21 364.75,347.64 365.00,348.03 365.25,348.38 365.50,348.66 365.75,348.89 366.00,349.03 366.25,349.10 366.50,349.09 366.75,349.05 367.00,348.99 367.25,348.89 367.50,348.77 367.75,348.61 368.00,348.43 368.25,348.21 368.50,347.97 368.75,347.70 369.00,347.40 369.25,347.06 369.50,346.70 369.75,346.31 370.00,345.88 370.25,345.43 370.50,344.94 370.75,344.43 371.00,343.88 371.25,343.30 371.50,342.69 371.75,342.05 372.00,341.38 372.25,341.20 372.50,341.40 372.75,341.66 373.00,341.98 373.25,342.35 373.50,342.78 373.75,343.26 374.00,343.78 374.25,344.34 374.50,344.93 374.75,345.53 375.00,346.12 375.25,346.71 375.50,347.26 375.75,347.77 376.00,348.22 376.25,348.59 376.50,348.89 376.75,349.08 377.00,349.17 377.25,348.92 377.50,348.44 377.75,347.90 378.00,347.31 378.25,346.69 378.50,346.04 378.75,345.38 379.00,344.71 379.25,344.06 379.50,343.44 379.75,342.85 380.00,342.30 380.25,341.82 380.50,341.40 380.75,341.05 381.00,340.79 381.25,340.61 381.50,340.52 381.75,340.52 382.00,340.61 382.25,340.79 382.50,341.06 382.75,341.40 383.00,341.82 383.25,342.31 383.50,342.85 383.75,343.43 384.00,344.05 384.25,344.69 384.50,345.34 384.75,345.99 385.00,346.63 385.25,347.24 385.50,347.81 385.75,348.33 386.00,348.80 386.25,349.19 386.50,349.52 386.75,349.77 387.00,349.93 387.25,350.01 387.50,350.00 387.75,349.91 388.00,349.74 388.25,349.49 388.50,349.17 388.75,348.79 389.00,348.35 389.25,347.87 389.50,347.35 389.75,346.81 390.00,346.26 390.25,345.71 390.50,345.17 390.75,344.65 391.00,344.17 391.25,343.73 391.50,343.35 391.75,343.03 392.00,342.79 392.25,342.61 392.50,342.51 392.75,342.50 393.00,342.56 393.25,342.71 393.50,342.93 393.75,343.22 394.00,343.58 394.25,344.00 394.50,344.47 394.75,344.98 395.00,345.52 395.25,346.07 395.50,346.64 395.75,347.20 396.00,347.74 396.25,348.25 396.50,348.73 396.75,349.15 397.00,349.52 397.25,349.82 397.50,350.04 397.75,350.18 398.00,350.24 398.25,350.21 398.50,350.10 398.75,349.90 399.00,349.62 399.25,349.26 399.50,348.83 399.75,348.33 400.00,347.78 400.25,347.19 400.50,346.56 400.75,345.91 401.00,345.24 401.25,344.58 401.50,343.94 401.75,343.32 402.00,342.73 402.25,342.20 402.50,341.73 402.75,341.32 403.00,340.99 403.25,340.74 403.50,340.58 403.75,340.51 404.00,340.53 404.25,340.64 404.50,340.84 404.75,341.12 405.00,341.48 405.25,341.91 405.50,342.41 405.75,342.96 406.00,343.55 406.25,344.18 406.50,344.82 406.75,345.47 407.00,346.12 407.25,346.75 407.50,347.36 407.75,347.92 408.00,348.43 408.25,348.88 408.50,349.27 408.75,349.58 409.00,349.81 409.25,349.95 409.50,350.01 409.75,349.99 410.00,349.88 410.25,349.70 410.50,349.43 410.75,349.10 411.00,348.70 411.25,348.26 411.50,347.77 411.75,347.24 412.00,346.70 412.25,346.15 412.50,345.60 412.75,345.06 413.00,344.55 413.25,344.08 413.50,343.65 413.75,343.28 414.00,342.98 414.25,342.74 414.50,342.58 414.75,342.50 415.00,342.50 415.25,342.58 415.50,342.74 415.75,342.98 416.00,343.29 416.25,343.66 416.50,344.09 416.75,344.57 417.00,345.08 417.25,345.63 417.50,346.19 417.75,346.75 418.00,347.31 418.25,347.85 418.50,348.35 418.75,348.82 419.00,349.23 419.25,349.58 419.50,349.87 419.75,350.07 420.00,350.20 420.25,350.24 420.50,350.20 420.75,350.07 421.00,349.85 421.25,349.55 421.50,349.18 421.75,348.74 422.00,348.23 422.25,347.67 422.50,347.07 422.75,346.43 423.00,345.77 423.25,345.11 423.50,344.45 423.75,343.81 424.00,343.20 424.25,342.62 424.50,342.10 424.75,341.64 425.00,341.25 425.25,340.93 425.50,340.70 425.75,340.56 426.00,340.51 426.25,340.54 426.50,340.67 426.75,340.89 427.00,341.19 427.25,341.56 427.50,342.01 427.75,342.51 428.00,343.07 428.25,343.67 428.50,344.30 428.75,344.95 429.00,345.60 429.25,346.25 429.50,346.88 429.75,347.47 430.00,348.02 430.25,348.52 430.50,348.96 430.75,349.33 431.00,349.63 431.25,349.84 431.50,349.97 431.75,350.02 432.00,349.98 432.25,349.85 432.50,349.65 432.75,349.37 433.00,349.02 433.25,348.62 433.50,348.16 433.75,347.66 434.00,347.13 434.25,346.59 434.50,346.04 434.75,345.49 435.00,344.96 435.25,344.45 435.50,343.99 435.75,343.58 436.00,343.22 436.25,342.93 436.50,342.71 436.75,342.56 437.00,342.50 437.25,342.51 437.50,342.61 437.75,342.79 438.00,343.04 438.25,343.36 438.50,343.74 438.75,344.18 439.00,344.67 439.25,345.19 439.50,345.74 439.75,346.30 440.00,346.86 440.25,347.42 440.50,347.95 440.75,348.45 441.00,348.91 441.25,349.31 441.50,349.65 441.75,349.91 442.00,350.11 442.25,350.21 442.50,350.24 442.75,350.18 443.00,350.03 443.25,349.80 443.50,349.48 443.75,349.10 444.00,348.64 444.25,348.12 444.50,347.55 444.75,346.94 445.00,346.30 445.25,345.64 445.50,344.98 445.75,344.32 446.00,343.68 446.25,343.08 446.50,342.51 446.75,342.00 447.00,341.56 447.25,341.18 447.50,340.88 447.75,340.67 448.00,340.54 448.25,340.51 448.50,340.56 448.75,340.71 449.00,340.94 449.25,341.25 449.50,341.64 449.75,342.10 450.00,342.62 450.25,343.19 450.50,343.80 450.75,344.43 451.00,345.08 451.25,345.73 451.50,346.38 451.75,347.00 452.00,347.59 452.25,348.13 452.50,348.62 452.75,349.04 453.00,349.40 453.25,349.68 453.50,349.87 453.75,349.99 454.00,350.01 454.25,349.96 454.50,349.82 454.75,349.60 455.00,349.31 455.25,348.95 455.50,348.53 455.75,348.06 456.00,347.56 456.25,347.03 456.50,346.48 456.75,345.93 457.00,345.38 457.25,344.85 457.50,344.36 457.75,343.90 458.00,343.50 458.25,343.15 458.50,342.88 458.75,342.67 459.00,342.54 459.25,342.49 459.50,342.53 459.75,342.64 460.00,342.83 460.25,343.09 460.50,343.43 460.75,343.83 461.00,344.28 461.25,344.77 461.50,345.30 461.75,345.85 462.00,346.41 462.25,346.98 462.50,347.53 462.75,348.05 463.00,348.54 463.25,348.99 463.50,349.38 463.75,349.70 464.00,349.96 464.25,350.13 464.50,350.23 464.75,350.23 465.00,350.16 465.25,349.99 465.50,349.74 465.75,349.41 466.00,349.01 466.25,348.54 466.50,348.01 466.75,347.43 467.00,346.81 467.25,346.17 467.50,345.51 467.75,344.85 468.00,344.19 468.25,343.56 468.50,342.96 468.75,342.41 469.00,341.91 469.25,341.47 469.50,341.11 469.75,340.83 470.00,340.64 470.25,340.53 470.50,340.51 470.75,340.58 471.00,340.75 471.25,341.00 471.50,341.33 471.75,341.73 472.00,342.20 472.25,342.73 472.50,343.31 472.75,343.92 473.00,344.56 473.25,345.21 473.50,345.86 473.75,346.50 474.00,347.12 474.25,347.70 474.50,348.23 474.75,348.71 475.00,349.12 475.25,349.46 475.50,349.72 475.75,349.90 476.00,350.00 476.25,350.01 476.50,349.94 476.75,349.78 477.00,349.55 477.25,349.24 477.50,348.87 477.75,348.44 478.00,347.97 478.25,347.45 478.50,346.92 478.75,346.37 479.00,345.81 479.25,345.27 479.50,344.75 479.75,344.26 480.00,343.82 480.25,343.43 480.50,343.09 480.75,342.83 481.00,342.64 481.25,342.53 481.50,342.49 481.75,342.54 482.00,342.67 482.25,342.88 482.50,343.16 482.75,343.50 483.00,343.91 483.25,344.37 483.50,344.87 483.75,345.41 484.00,345.96 484.25,346.53 484.50,347.09 484.75,347.63 485.00,348.15 485.25,348.64 485.50,349.07 485.75,349.45 486.00,349.76 486.25,350.00 486.50,350.16 486.75,350.23 487.00,350.23 487.25,350.13 487.50,349.95 487.75,349.68 488.00,349.34 488.25,348.92 488.50,348.44 488.75,347.90 489.00,347.31 489.25,346.69 489.50,346.04 489.75,345.38 490.00,344.71 490.25,344.06 490.50,343.44 490.75,342.85 491.00,342.30 491.25,341.82 491.50,341.40 491.75,341.05 492.00,340.79 492.25,340.61 492.50,340.52 492.75,340.52 493.00,340.61 493.25,340.79 493.50,341.06 493.75,341.40 494.00,341.82 494.25,342.31 494.50,342.85 494.75,343.43 495.00,344.05 495.25,344.69 495.50,345.34 495.75,345.99 496.00,346.63 496.25,347.24 496.50,347.81 496.75,348.33 497.00,348.80 497.25,349.19 497.50,349.52 497.75,349.77 498.00,349.93 498.25,350.01 498.50,350.00 498.75,349.91 499.00,349.74 499.25,349.49 499.50,349.17 499.75,348.79 500.00,348.35 500.25,347.87 500.50,347.35 500.75,346.81 501.00,346.26 501.25,345.71 501.50,345.17 501.75,344.65 502.00,344.17 502.25,343.73 502.50,343.35 502.75,343.03 503.00,342.79 503.25,342.61 503.50,342.51 503.75,342.50 504.00,342.56 504.25,342.71 504.50,342.93 504.75,343.22 505.00,343.58 505.25,344.00 505.50,344.47 505.75,344.98 506.00,345.52 506.25,346.07 506.50,346.64 506.75,347.20 507.00,347.74 507.25,348.25 507.50,348.73 507.75,349.15 508.00,349.52 508.25,349.82 508.50,350.04 508.75,350.18 509.00,350.24 509.25,350.21 509.50,350.10"/>
<polyline fill="none" stroke="#1a1a1a" stroke-width="1.15" stroke-linejoin="round" stroke-linecap="round"  points="41.50,246.28 41.75,246.75 42.00,247.34 42.25,247.98 42.50,248.62 42.75,249.21 43.00,249.70 43.25,250.04 43.50,250.20 43.75,250.17 44.00,249.95 44.25,249.57 44.50,249.04 44.75,248.43 45.00,247.78 45.25,247.16 45.50,246.60 45.75,246.18 46.00,245.91 46.25,245.83 46.50,245.93 46.75,246.23 47.00,246.67 47.25,247.24 47.50,247.88 47.75,248.52 48.00,249.13 48.25,249.64 48.50,250.01 48.75,250.21 49.00,250.22 49.25,250.04 49.50,249.68 49.75,249.19 50.00,248.59 50.25,247.94 50.50,247.31 50.75,246.74 51.00,246.28 51.25,245.98 51.50,245.86 51.75,245.93 52.00,246.18 52.25,246.60 52.50,247.15 52.75,247.77 53.00,248.42 53.25,249.04 53.50,249.58 53.75,249.98 54.00,250.21 54.25,250.26 54.50,250.12 54.75,249.80 55.00,249.32 55.25,248.74 55.50,248.10 55.75,247.46 56.00,246.87 56.25,246.39 56.50,246.05 56.75,245.89 57.00,245.92 57.25,246.14 57.50,246.53 57.75,247.06 58.00,247.67 58.25,248.32 58.50,248.95 58.75,249.51 59.00,249.94 59.25,250.21 59.50,250.30 59.75,250.19 60.00,249.90 60.25,249.46 60.50,248.89 60.75,248.26 61.00,247.61 61.25,247.01 61.50,246.50 61.75,246.13 62.00,245.94 62.25,245.93 62.50,246.11 62.75,246.47 63.00,246.97 63.25,247.57 63.50,248.22 63.75,248.86 64.00,249.43 64.25,249.89 64.50,250.20 64.75,250.32 65.00,250.25 65.25,250.00 65.50,249.58 65.75,249.04 66.00,248.42 66.25,247.77 66.50,247.15 66.75,246.62 67.00,246.22 67.25,245.99 67.50,245.95 67.75,246.09 68.00,246.42 68.25,246.89 68.50,247.48 68.75,248.12 69.00,248.76 69.25,249.36 69.50,249.84 69.75,250.18 70.00,250.34 70.25,250.31 70.50,250.09 70.75,249.71 71.00,249.19 71.25,248.57 71.50,247.93 71.75,247.30 72.00,246.75 72.25,246.32 72.50,246.05 72.75,245.97 73.00,246.08 73.25,246.37 73.50,246.82 73.75,247.38 74.00,248.02 74.25,248.67 74.50,249.27 74.75,249.78 75.00,250.15 75.25,250.35 75.50,250.36 75.75,250.18 76.00,249.82 76.25,249.33 76.50,248.73 76.75,248.08 77.00,247.45 77.25,246.88 77.50,246.42 77.75,246.12 78.00,246.00 78.25,246.07 78.50,246.32 78.75,246.74 79.00,247.29 79.25,248.15 79.50,249.03 79.75,249.87 80.00,250.62 80.25,251.24 80.50,251.69 80.75,251.96 81.00,252.04 81.25,251.96 81.50,251.73 81.75,251.40 82.00,251.03 82.25,250.66 82.50,250.34 82.75,250.13 83.00,250.06 83.25,250.15 83.50,250.43 83.75,250.73 84.00,251.08 84.25,251.55 84.50,252.11 84.75,252.69 85.00,253.26 85.25,253.76 85.50,254.14 85.75,254.38 86.00,254.46 86.25,254.35 86.50,254.09 86.75,253.68 87.00,253.16 87.25,252.58 87.50,251.98 87.75,251.43 88.00,250.96 88.25,250.62 88.50,250.44 88.75,250.43 89.00,250.59 89.25,250.91 89.50,251.36 89.75,251.90 90.00,252.48 90.25,253.05 90.50,253.57 90.75,253.98 91.00,254.25 91.25,254.36 91.50,254.29 91.75,254.06 92.00,253.67 92.25,253.17 92.50,252.60 92.75,252.00 93.00,251.44 93.25,250.95 93.50,250.58 93.75,250.36 94.00,250.32 94.25,250.45 94.50,250.74 94.75,251.16 95.00,251.69 95.25,252.27 95.50,252.85 95.75,253.38 96.00,253.81 96.25,254.12 96.50,254.26 96.75,254.22 97.00,254.02 97.25,253.66 97.50,253.18 97.75,252.62 98.00,252.03 98.25,251.45 98.50,250.94 98.75,250.55 99.00,250.30 99.25,250.22 99.50,250.31 99.75,250.57 100.00,250.97 100.25,252.25 100.50,252.52 100.75,252.78 101.00,253.04 101.25,253.31 101.50,253.57 101.75,253.83 102.00,254.09 102.25,254.85 102.50,255.94 102.75,257.02 103.00,258.11 103.25,259.19 103.50,260.28 103.75,261.36 104.00,262.45 104.25,263.53 104.50,264.62 104.75,265.70 105.00,266.79 105.25,267.87 105.50,268.96 105.75,270.04 106.00,271.13 106.25,272.21 106.50,273.30 106.75,274.38 107.00,275.47 107.25,276.55 107.50,277.64 107.75,278.72 108.00,279.81 108.25,280.89 108.50,281.98 108.75,283.06 109.00,284.15 109.25,285.23 109.50,286.32 109.75,287.40 110.00,288.49 110.25,289.57 110.50,290.66 110.75,291.74 111.00,292.83 111.25,293.91 111.50,295.00 111.75,295.83 112.00,296.67 112.25,297.50 112.50,298.34 112.75,299.17 113.00,300.00 113.25,300.84 113.50,301.67 113.75,302.51 114.00,303.34 114.25,304.17 114.50,305.01 114.75,305.84 115.00,306.68 115.25,307.51 115.50,308.34 115.75,309.18 116.00,310.01 116.25,310.85 116.50,311.68 116.75,312.52 117.00,313.35 117.25,314.18 117.50,315.02 117.75,315.85 118.00,316.69 118.25,317.52 118.50,318.35 118.75,319.19 119.00,320.02 119.25,320.86 119.50,321.69 119.75,322.52 120.00,323.36 120.25,324.19 120.50,325.03 120.75,325.86 121.00,326.69 121.25,327.53 121.50,328.36 121.75,329.20 122.00,330.03 122.25,330.86 122.50,331.70 122.75,332.53 123.00,333.37 123.25,334.21 123.50,335.06 123.75,335.91 124.00,336.76 124.25,337.60 124.50,338.45 124.75,339.30 125.00,340.15 125.25,341.00 125.50,341.85 125.75,342.70 126.00,343.54 126.25,344.39 126.50,345.24 126.75,346.09 127.00,347.09 127.25,348.33 127.50,349.56 127.75,350.80 128.00,352.04 128.25,353.27 128.50,354.51 128.75,355.21 129.00,355.55 129.25,355.89 129.50,356.23 129.75,356.57 130.00,356.92 130.25,357.26 130.50,357.60 130.75,357.65 131.00,357.70 131.25,357.75 131.50,357.80 131.75,357.86 132.00,357.91 132.25,357.96 132.50,358.01 132.75,358.06 133.00,358.11 133.25,358.16 133.50,358.21 133.75,358.26 134.00,358.32 134.25,358.37 134.50,358.42 134.75,358.47 135.00,358.52 135.25,358.57 135.50,358.62 135.75,358.67 136.00,358.72 136.25,358.78 136.50,358.83 136.75,358.88 137.00,358.93 137.25,358.98 137.50,359.03 137.75,359.08 138.00,359.13 138.25,359.19 138.50,359.24 138.75,359.29 139.00,359.34 139.25,359.39 139.50,360.00 139.75,360.75 140.00,361.50 140.25,362.25 140.50,363.00 140.75,363.75 141.00,364.50 141.25,365.25 141.50,366.00 141.75,367.75 142.00,369.50 142.25,371.25 142.50,373.00 142.75,374.75 143.00,376.50 143.25,378.25 143.50,380.00 143.75,380.90 144.00,381.81 144.25,382.71 144.50,383.62 144.75,384.57 145.00,384.77 145.25,384.81 145.50,384.87 145.75,384.94 146.00,385.02 146.25,385.13 146.50,385.27 146.75,385.45 147.00,385.67 147.25,385.93 147.50,386.22 147.75,386.50 148.00,386.76 148.25,386.96 148.50,387.05 148.75,386.84 149.00,386.53 149.25,386.12 149.50,385.64 149.75,385.13 150.00,384.62 150.25,384.14 150.50,383.72 150.75,383.38 151.00,383.13 151.25,382.96 151.50,382.87 151.75,382.83 152.00,382.82 152.25,382.81 152.50,382.79 152.75,382.75 153.00,382.67 153.25,382.57 153.50,382.47 153.75,382.39 154.00,382.34 154.25,382.37 154.50,382.48 154.75,382.69 155.00,383.01 155.25,383.41 155.50,383.89 155.75,384.41 156.00,384.94 156.25,385.45 156.50,385.89 156.75,386.26 157.00,386.52 157.25,386.69 157.50,386.76 157.75,386.76 158.00,386.71 158.25,386.63 158.50,386.55 158.75,386.48 159.00,386.45 159.25,386.44 159.50,386.46 159.75,386.47 160.00,386.47 160.25,386.42 160.50,386.30 160.75,386.09 161.00,385.80 161.25,385.41 161.50,384.95 161.75,384.44 162.00,383.92 162.25,383.41 162.50,382.95 162.75,382.58 163.00,382.30 163.25,382.14 163.50,382.09 163.75,382.13 164.00,382.24 164.25,382.40 164.50,382.58 164.75,382.75 165.00,382.89 165.25,383.01 165.50,383.08 165.75,383.14 166.00,383.20 166.25,383.27 166.50,383.40 166.75,383.59 167.00,383.85 167.25,384.20 167.50,384.62 167.75,385.10 168.00,385.60 168.25,386.09 168.50,386.54 168.75,386.91 169.00,387.18 169.25,387.33 169.50,387.37 169.75,387.29 170.00,387.12 170.25,386.89 170.50,386.63 170.75,386.36 171.00,386.11 171.25,385.89 171.50,385.72 171.75,385.59 172.00,385.48 172.25,385.38 172.50,385.25 172.75,385.09 173.00,384.86 173.25,384.56 173.50,384.20 173.75,383.78 174.00,383.33 174.25,382.88 174.50,382.46 174.75,382.11 175.00,381.85 175.25,381.71 175.50,381.69 175.75,381.80 176.00,382.01 176.25,382.30 176.50,382.64 176.75,383.00 177.00,383.34 177.25,383.65 177.50,383.91 177.75,384.11 178.00,384.27 178.25,384.40 178.50,384.53 178.75,384.67 179.00,384.84 179.25,385.08 179.50,385.37 179.75,385.71 180.00,386.09 180.25,386.49 180.50,386.86 180.75,387.18 181.00,387.41 181.25,387.54 181.50,387.54 181.75,387.41 182.00,387.17 182.25,386.83 182.50,386.43 182.75,386.00 183.00,385.57 183.25,385.18 183.50,384.84 183.75,384.57 184.00,384.36 184.25,384.21 184.50,384.09 184.75,383.98 185.00,383.85 185.25,383.69 185.50,383.49 185.75,383.23 186.00,382.94 186.25,382.62 186.50,382.31 186.75,382.04 187.00,381.84 187.25,381.74 187.50,381.76 187.75,381.90 188.00,382.16 188.25,382.52 188.50,382.96 188.75,383.45 189.00,383.94 189.25,384.40 189.50,384.81 189.75,385.14 190.00,385.40 190.25,385.57 190.50,385.69 190.75,385.77 191.00,385.83 191.25,385.91 191.50,386.02 191.75,386.18 192.00,386.37 192.25,386.59 192.50,386.82 192.75,387.03 193.00,387.19 193.25,387.27 193.50,387.24 193.75,387.09 194.00,386.82 194.25,386.44 194.50,385.98 194.75,385.46 195.00,384.93 195.25,384.41 195.50,383.95 195.75,383.57 196.00,383.28 196.25,383.09 196.50,382.98 196.75,382.93 197.00,382.92 197.25,382.92 197.50,382.91 197.75,382.86 198.00,382.78 198.25,382.66 198.50,382.52 198.75,382.39 199.00,382.28 199.25,382.24 199.50,382.28 199.75,382.43 200.00,382.69 200.25,383.06 200.50,383.53 200.75,384.05 201.00,384.61 201.25,385.15 201.50,385.65 201.75,386.06 202.00,386.38 202.25,386.59 202.50,386.70 202.75,386.71 203.00,386.67 203.25,386.59 203.50,386.51 203.75,386.44 204.00,386.41 204.25,386.41 204.50,386.45 204.75,386.51 205.00,386.55 205.25,386.56 205.50,386.51 205.75,386.36 206.00,386.12 206.25,385.77 206.50,385.32 206.75,384.81 207.00,384.26 207.25,383.71 207.50,383.20 207.75,382.77 208.00,382.43 208.25,382.21 208.50,382.11 208.75,382.12 209.00,382.21 209.25,382.37 209.50,382.54 209.75,382.72 210.00,382.87 210.25,382.97 210.50,383.04 210.75,383.07 211.00,383.09 211.25,383.12 211.50,383.19 211.75,383.32 212.00,383.54 212.25,383.85 212.50,384.26 212.75,384.73 213.00,385.25 213.25,385.78 213.50,386.29 213.75,386.73 214.00,387.06 214.25,387.29 214.50,387.38 214.75,387.35 215.00,387.21 215.25,387.00 215.50,386.74 215.75,386.46 216.00,386.20 216.25,385.99 216.50,385.82 216.75,385.69 217.00,385.61 217.25,385.54 217.50,385.46 217.75,385.34 218.00,385.15 218.25,384.89 218.50,384.54 218.75,384.13 219.00,383.66 219.25,383.17 219.50,382.69 219.75,382.27 220.00,381.94 220.25,381.72 220.50,381.64 220.75,381.69 221.00,381.86 221.25,382.12 221.50,382.46 221.75,382.82 222.00,383.17 222.25,383.50 222.50,383.77 222.75,383.98 223.00,384.13 223.25,384.24 223.50,384.34 223.75,384.44 224.00,384.59 224.25,384.79 224.50,385.06 224.75,385.40 225.00,385.80 225.25,386.22 225.50,386.65 225.75,387.03 226.00,387.34 226.25,387.55 226.50,387.62 226.75,387.56 227.00,387.37 227.25,387.06 227.50,386.68 227.75,386.24 228.00,385.80 228.25,385.39 228.50,385.03 228.75,384.73 229.00,384.52 229.25,384.36 229.50,384.25 229.75,384.16 230.00,384.06 230.25,383.93 230.50,383.74 230.75,383.49 231.00,383.19 231.25,382.85 231.50,382.49 231.75,382.16 232.00,381.89 232.25,381.70 232.50,381.64 232.75,381.71 233.00,381.92 233.25,382.24 233.50,382.67 233.75,383.15 234.00,383.66 234.25,384.15 234.50,384.59 234.75,384.95 235.00,385.23 235.25,385.42 235.50,385.55 235.75,385.62 236.00,385.67 236.25,385.74 236.50,385.83 236.75,385.98 237.00,386.17 237.25,386.42 237.50,386.69 237.75,386.95 238.00,387.18 238.25,387.33 238.50,387.37 238.75,387.30 239.00,387.09 239.25,386.76 239.50,386.32 239.75,385.80 240.00,385.25 240.25,384.71 240.50,384.21 240.75,383.78 241.00,383.45 241.25,383.23 241.50,383.09 241.75,383.03 242.00,383.02 242.25,383.03 242.50,383.03 242.75,382.99 243.00,382.91 243.25,382.78 243.50,382.61 243.75,382.43 244.00,382.27 244.25,382.15 244.50,382.12 244.75,382.20 245.00,382.40 245.25,382.73 245.50,383.16 245.75,383.68 246.00,384.25 246.25,384.83 246.50,385.37 246.75,385.84 247.00,386.21 247.25,386.47 247.50,386.61 247.75,386.66 248.00,386.63 248.25,386.55 248.50,386.46 248.75,386.38 249.00,386.35 249.25,386.36 249.50,386.42 249.75,386.50 250.00,386.60 250.25,386.66 250.50,386.67 250.75,386.60 251.00,386.41 251.25,386.11 251.50,385.70 251.75,385.19 252.00,384.63 252.25,384.05 252.50,383.49 252.75,383.00 253.00,382.60 253.25,382.32 253.50,382.16 253.75,382.13 254.00,382.20 254.25,382.34 254.50,382.51 254.75,382.69 255.00,382.85 255.25,382.96 255.50,383.02 255.75,383.03 256.00,383.02 256.25,383.00 256.50,383.02 256.75,383.09 257.00,383.26 257.25,383.52 257.50,383.89 257.75,384.35 258.00,384.88 258.25,385.45 258.50,386.00 258.75,386.50 259.00,386.91 259.25,387.20 259.50,387.36 259.75,387.38 260.00,387.29 260.25,387.10 260.50,386.84 260.75,386.56 261.00,386.30 261.25,386.07 261.50,385.89 261.75,385.78 262.00,385.71 262.25,385.67 262.50,385.63 262.75,385.55 263.00,385.42 263.25,385.20 263.50,384.89 263.75,384.49 264.00,384.01 264.25,383.49 264.50,382.97 264.75,382.49 265.00,382.08 265.25,381.79 265.50,381.63 265.75,381.61 266.00,381.73 266.25,381.96 266.50,382.28 266.75,382.64 267.00,383.01 267.25,383.35 267.50,383.63 267.75,383.85 268.00,384.00 268.25,384.10 268.50,384.17 268.75,384.25 269.00,384.35 269.25,384.51 269.50,384.76 269.75,385.08 270.00,385.48 270.25,385.92 270.50,386.39 270.75,386.84 271.00,387.22 271.25,387.51 271.50,387.66 271.75,387.67 272.00,387.54 272.25,387.28 272.50,386.92 272.75,386.49 273.00,386.04 273.25,385.60 273.50,385.21 273.75,384.90 274.00,384.67 274.25,384.51 274.50,384.41 274.75,384.34 275.00,384.26 275.25,384.16 275.50,384.00 275.75,383.77 276.00,383.47 276.25,383.11 276.50,382.71 276.75,382.33 277.00,381.98 277.25,381.72 277.50,381.58 277.75,381.57 278.00,381.71 278.25,381.98 278.50,382.38 278.75,382.85 279.00,383.37 279.25,383.88 279.50,384.35 279.75,384.75 280.00,385.06 280.25,385.27 280.50,385.41 280.75,385.48 281.00,385.52 281.25,385.56 281.50,385.64 281.75,385.77 282.00,385.96 282.25,386.21 282.50,386.51 282.75,386.82 283.00,387.11 283.25,387.33 283.50,387.46 283.75,387.47 284.00,387.33 284.25,387.05 284.50,386.65 284.75,386.15 285.00,385.59 285.25,385.02 285.50,384.49 285.75,384.02 286.00,383.64 286.25,383.37 286.50,383.21 286.75,383.14 287.00,383.13 287.25,383.14 287.50,383.16 287.75,383.13 288.00,383.06 288.25,382.92 288.50,382.74 288.75,382.52 289.00,382.30 289.25,382.12 289.50,382.02 289.75,382.02 290.00,382.15 290.25,382.41 290.50,382.81 290.75,383.31 291.00,383.88 291.25,384.48 291.50,385.06 291.75,385.58 292.00,386.01 292.25,386.32 292.50,386.51 292.75,386.59 293.00,386.58 293.25,386.50 293.50,386.41 293.75,386.32 294.00,386.28 294.25,386.28 294.50,386.35 294.75,386.46 295.00,386.60 295.25,386.72 295.50,386.79 295.75,386.79 296.00,386.67 296.25,386.43 296.50,386.06 296.75,385.58 297.00,385.02 297.25,384.42 297.50,383.81 297.75,383.26 298.00,382.80 298.25,382.46 298.50,382.24 298.75,382.16 299.00,382.20 299.25,382.32 299.50,382.49 299.75,382.68 300.00,382.84 300.25,382.96 300.50,383.02 300.75,383.02 301.00,382.98 301.25,382.92 301.50,382.89 301.75,382.90 302.00,383.00 302.25,383.21 302.50,383.53 302.75,383.97 303.00,384.50 303.25,385.08 303.50,385.67 303.75,386.23 304.00,386.71 304.25,387.08 304.50,387.30 304.75,387.39 305.00,387.34 305.25,387.18 305.50,386.94 305.75,386.66 306.00,386.39 306.25,386.14 306.50,385.96 306.75,385.84 307.00,385.78 307.25,385.77 307.50,385.76 307.75,385.74 308.00,385.66 308.25,385.49 308.50,385.22 308.75,384.85 309.00,384.38 309.25,383.85 309.50,383.29 309.75,382.75 310.00,382.27 310.25,381.90 310.50,381.66 310.75,381.57 311.00,381.63 311.25,381.82 311.50,382.11 311.75,382.47 312.00,382.84 312.25,383.20 312.50,383.50 312.75,383.73 313.00,383.89 313.25,383.98 313.50,384.03 313.75,384.07 314.00,384.14 314.25,384.26 314.50,384.46 314.75,384.75 315.00,385.14 315.25,385.60 315.50,386.10 315.75,386.59 316.00,387.05 316.25,387.41 316.50,387.65 316.75,387.74 317.00,387.68 317.25,387.47 317.50,387.14 317.75,386.73 318.00,386.27 318.25,385.82 318.50,385.41 318.75,385.07 319.00,384.81 319.25,384.64 319.50,384.55 319.75,384.49 320.00,384.44 320.25,384.37 320.50,384.25 320.75,384.04 321.00,383.75 321.25,383.39 321.50,382.98 321.75,382.54 322.00,382.13 322.25,381.79 322.50,381.56 322.75,381.47 323.00,381.53 323.25,381.75 323.50,382.10 323.75,382.55 324.00,383.07 324.25,383.60 324.50,384.10 324.75,384.54 325.00,384.88 325.25,385.12 325.50,385.27 325.75,385.35 326.00,385.38 326.25,385.40 326.50,385.45 326.75,385.55 327.00,385.73 327.25,385.98 327.50,386.30 327.75,386.64 328.00,386.99 328.25,387.29 328.50,387.50 328.75,387.59 329.00,387.53 329.25,387.32 329.50,386.96 329.75,386.49 330.00,385.94 330.25,385.35 330.50,384.78 330.75,384.27 331.00,383.85 331.25,383.54 331.50,383.34 331.75,383.25 332.00,383.23 332.25,383.25 332.50,383.28 332.75,383.28 333.00,383.22 333.25,383.09 333.50,382.89 333.75,382.65 334.00,382.39 334.25,382.14 334.50,381.96 334.75,381.88 335.00,381.93 335.25,382.13 335.50,382.47 335.75,382.94 336.00,383.50 336.25,384.12 336.50,384.73 336.75,385.30 337.00,385.78 337.25,386.15 337.50,386.39 337.75,386.51 338.00,386.52 338.25,386.45 338.50,386.36 338.75,386.26 339.00,386.20 339.25,386.20 339.50,386.26 339.75,386.39 340.00,386.55 340.25,386.73 340.50,386.87 340.75,386.93 341.00,386.89 341.25,386.72 341.50,386.41 341.75,385.96 342.00,385.42 342.25,384.80 342.50,384.17 342.75,383.57 343.00,383.04 343.25,382.63 343.50,382.35 343.75,382.21 344.00,382.21 344.25,382.31 344.50,382.47 344.75,382.66 345.00,382.84 345.25,382.97 345.50,383.04 345.75,383.04 346.00,382.98 346.25,382.89 346.50,382.80 346.75,382.75 347.00,382.78 347.25,382.93 347.50,383.20 347.75,383.59 348.00,384.10 348.25,384.69 348.50,385.31 348.75,385.92 349.00,386.46 349.25,386.91 349.50,387.21 349.75,387.37 350.00,387.37 350.25,387.25 350.50,387.03 350.75,386.76 351.00,386.47 351.25,386.21 351.50,386.01 351.75,385.88 352.00,385.83 352.25,385.83 352.50,385.87 352.75,385.89 353.00,385.87 353.25,385.76 353.50,385.55 353.75,385.22 354.00,384.77 354.25,384.24 354.50,383.65 354.75,383.05 355.00,382.51 355.25,382.05 355.50,381.72 355.75,381.55 356.00,381.54 356.25,381.69 356.50,381.95 356.75,382.30 357.00,382.69 357.25,383.06 357.50,383.39 357.75,383.65 358.00,383.81 358.25,383.90 358.50,383.93 358.75,383.93 359.00,383.94 359.25,384.00 359.50,384.15 359.75,384.40 360.00,384.76 360.25,385.22 360.50,385.75 360.75,386.30 361.00,386.83 361.25,387.29 361.50,387.62 361.75,387.80 362.00,387.82 362.25,387.67 362.50,387.37 362.75,386.97 363.00,386.50 363.25,386.02 363.50,385.57 363.75,385.20 364.00,384.92 364.25,384.74 364.50,384.65 364.75,384.62 365.00,384.61 365.25,384.59 365.50,384.52 365.75,384.36 366.00,384.10 366.25,383.74 366.50,383.30 366.75,382.82 367.00,382.33 367.25,381.90 367.50,381.57 367.75,381.37 368.00,381.35 368.25,381.49 368.50,381.80 368.75,382.24 369.00,382.77 369.25,383.33 369.50,383.88 369.75,384.36 370.00,384.75 370.25,385.02 370.50,385.18 370.75,385.25 371.00,385.25 371.25,385.23 371.50,385.23 371.75,385.29 372.00,385.43 372.25,385.67 372.50,386.00 372.75,386.39 373.00,386.81 373.25,387.20 373.50,387.51 373.75,387.71 374.00,387.75 374.25,387.62 374.50,387.32 374.75,386.87 375.00,386.30 375.25,385.68 375.50,385.06 375.75,384.48 376.00,384.00 376.25,383.64 376.50,383.41 376.75,383.31 377.00,383.30 377.25,383.36 377.50,383.43 377.75,383.48 378.00,383.46 378.25,383.35 378.50,383.15 378.75,382.87 379.00,382.55 379.25,382.22 379.50,381.93 379.75,381.74 380.00,381.69 380.25,381.79 380.50,382.07 380.75,382.51 381.00,383.08 381.25,383.73 381.50,384.40 381.75,385.05 382.00,385.61 382.25,386.05 382.50,386.34 382.75,386.49 383.00,386.50 383.25,386.42 383.50,386.28 383.75,386.14 384.00,386.03 384.25,386.00 384.50,386.05 384.75,386.20 385.00,386.41 385.25,386.67 385.50,386.90 385.75,387.08 386.00,387.15 386.25,387.07 386.50,386.83 386.75,386.43 387.00,385.89 387.25,385.24 387.50,384.54 387.75,383.85 388.00,383.23 388.25,382.73 388.50,382.38 388.75,382.19 389.00,382.16 389.25,382.26 389.50,382.45 389.75,382.69 390.00,382.92 390.25,383.09 390.50,383.19 390.75,383.18 391.00,383.09 391.25,382.94 391.50,382.76 391.75,382.61 392.00,382.53 392.25,382.57 392.50,382.76 392.75,383.10 393.00,383.60 393.25,384.21 393.50,384.90 393.75,385.60 394.00,386.25 394.25,386.80 394.50,387.20 394.75,387.43 395.00,387.49 395.25,387.38 395.50,387.14 395.75,386.83 396.00,386.49 396.25,386.18 396.50,385.93 396.75,385.79 397.00,385.74 397.25,385.79 397.50,385.89 397.75,386.01 398.00,386.09 398.25,386.09 398.50,385.97 398.75,385.70 399.00,385.28 399.25,384.73 399.50,384.08 399.75,383.40 400.00,382.75 400.25,382.17 400.50,381.73 400.75,381.46 401.00,381.38 401.25,381.49 401.50,381.75 401.75,382.13 402.00,382.56 402.25,382.99 402.50,383.38 402.75,383.67 403.00,383.85 403.25,383.93 403.50,383.91 403.75,383.83 404.00,383.75 404.25,383.72 404.50,383.78 404.75,383.96 405.00,384.29 405.25,384.74 405.50,385.31 405.75,385.94 406.00,386.57 406.25,387.15 406.50,387.61 406.75,387.91 407.00,388.01 407.25,387.92 407.50,387.65 407.75,387.24 408.00,386.73 408.25,386.19 408.50,385.68 408.75,385.25 409.00,384.93 409.25,384.74 409.50,384.66 409.75,384.68 410.00,384.75 410.25,384.81 410.50,384.82 410.75,384.74 411.00,384.53 411.25,384.19 411.50,383.72 411.75,383.18 412.00,382.60 412.25,382.05 412.50,381.59 412.75,381.27 413.00,381.13 413.25,381.20 413.50,381.46 413.75,381.89 414.00,382.44 414.25,383.06 414.50,383.68 414.75,384.23 415.00,384.68 415.25,384.99 415.50,385.17 415.75,385.21 416.00,385.17 416.25,385.08 416.50,385.00 416.75,384.98 417.00,385.07 417.25,385.28 417.50,385.61 417.75,386.05 418.00,386.54 418.25,387.04 418.50,387.49 418.75,387.81 419.00,387.98 419.25,387.94 419.50,387.71 419.75,387.28 420.00,386.71 420.25,386.04 420.50,385.35 420.75,384.69 421.00,384.13 421.25,383.70 421.50,383.43 421.75,383.32 422.00,383.33 422.25,383.44 422.50,383.57 422.75,383.69 423.00,383.73 423.25,383.67 423.50,383.48 423.75,383.18 424.00,382.80 424.25,382.37 424.50,381.97 424.75,381.65 425.00,381.46 425.25,381.46 425.50,381.66 425.75,382.05 426.00,382.61 426.25,383.29 426.50,384.04 426.75,384.77 427.00,385.42 427.25,385.95 427.50,386.31 427.75,386.50 428.00,386.52 428.25,386.42 428.50,386.23 428.75,386.03 429.00,385.86 429.25,385.77 429.50,385.80 429.75,385.94 430.00,386.20 430.25,386.52 430.50,386.86 430.75,387.16 431.00,387.36 431.25,387.40 431.50,387.25 431.75,386.91 432.00,386.39 432.25,385.72 432.50,384.97 432.75,384.20 433.00,383.47 433.25,382.87 433.50,382.42 433.75,382.16 434.00,382.09 434.25,382.19 434.50,382.41 434.75,382.69 435.00,382.98 435.25,383.22 435.50,383.36 435.75,383.37 436.00,383.27 436.25,383.07 436.50,382.81 436.75,382.55 437.00,382.35 437.25,382.27 437.50,382.35 437.75,382.62 438.00,383.08 438.25,383.70 438.50,384.43 438.75,385.21 439.00,385.96 439.25,386.63 439.50,387.14 439.75,387.47 440.00,387.59 440.25,387.51 440.50,387.28 440.75,386.93 441.00,386.54 441.25,386.17 441.50,385.87 441.75,385.68 442.00,385.62 442.25,385.69 442.50,385.85 442.75,386.06 443.00,386.24 443.25,386.36 443.50,386.34 443.75,386.15 444.00,385.79 444.25,385.25 444.50,384.58 444.75,383.83 445.00,383.07 445.25,382.37 445.50,381.81 445.75,381.43 446.00,381.25 446.25,381.30 446.50,381.54 446.75,381.92 447.00,382.40 447.25,382.89 447.50,383.34 447.75,383.69 448.00,383.91 448.25,383.99 448.50,383.94 448.75,383.81 449.00,383.64 449.25,383.51 449.50,383.46 449.75,383.55 450.00,383.81 450.25,384.24 450.50,384.82 450.75,385.50 451.00,386.23 451.25,386.92 451.50,387.51 451.75,387.94 452.00,388.16 452.25,388.16 452.50,387.93 452.75,387.53 453.00,387.00 453.25,386.41 453.50,385.83 453.75,385.33 454.00,384.95 454.25,384.72 454.50,384.64 454.75,384.69 455.00,384.82 455.25,384.97 455.50,385.08 455.75,385.08 456.00,384.95 456.25,384.65 456.50,384.19 456.75,383.61 457.00,382.95 457.25,382.29 457.50,381.70 457.75,381.24 458.00,380.98 458.25,380.94 458.50,381.13 458.75,381.52 459.00,382.09 459.25,382.74 459.50,383.43 459.75,384.06 460.00,384.59 460.25,384.96 460.50,385.17 460.75,385.21 461.00,385.13 461.25,384.98 461.50,384.83 461.75,384.72 462.00,384.73 462.25,384.88 462.50,385.19 462.75,385.64 463.00,386.20 463.25,386.79 463.50,387.36 463.75,387.83 464.00,388.13 464.25,388.22 464.50,388.07 464.75,387.70 465.00,387.14 465.25,386.45 465.50,385.69 465.75,384.95 466.00,384.30 466.25,383.79 466.50,383.46 466.75,383.31 467.00,383.33 467.25,383.47 467.50,383.66 467.75,383.85 468.00,383.97 468.25,383.98 468.50,383.83 468.75,383.53 469.00,383.11 469.25,382.61 469.50,382.10 469.75,381.65 470.00,381.33 470.25,381.19 470.50,381.28 470.75,381.60 471.00,382.13 471.25,382.82 471.50,383.61 471.75,384.43 472.00,385.18 472.25,385.81 472.50,386.26 472.75,386.51 473.00,386.56 473.25,386.45 473.50,386.23 473.75,385.96 474.00,385.72 474.25,385.56 474.50,385.53 474.75,385.66 475.00,385.92 475.25,386.30 475.50,386.73 475.75,387.15 476.00,387.48 476.25,387.65 476.50,387.63 476.75,387.38 477.00,386.91 477.25,386.25 477.50,385.45 477.75,384.61 478.00,383.78 478.25,383.07 478.50,382.51 478.75,382.16 479.00,382.03 479.25,382.10 479.50,382.33 479.75,382.66 480.00,383.01 480.25,383.31 480.50,383.51 480.75,383.57 481.00,383.48 481.25,383.25 481.50,382.93 481.75,382.57 482.00,382.25 482.25,382.04 482.50,382.00 482.75,382.17 483.00,382.56 483.25,383.15 483.50,383.90 483.75,384.75 484.00,385.60 484.25,386.38 484.50,387.02 484.75,387.46 485.00,387.67 485.25,387.65 485.50,387.43 485.75,387.06 486.00,386.63 486.25,386.19 486.50,385.82 486.75,385.57 487.00,385.48 487.25,385.55 487.50,385.75 487.75,386.02 488.00,386.31 488.25,386.54 488.50,386.65 488.75,386.57 489.00,386.28 489.25,385.79 489.50,385.12 489.75,384.32 490.00,383.47 490.25,382.66 490.50,381.96 490.75,381.45 491.00,381.17 491.25,381.13 491.50,381.32 491.75,381.70 492.00,382.20 492.25,382.75 492.50,383.27 492.75,383.69 493.00,383.96 493.25,384.07 493.50,384.02 493.75,383.85 494.00,383.60 494.25,383.37 494.50,383.21 494.75,383.19 495.00,383.36 495.25,383.73 495.50,384.29 495.75,385.00 496.00,385.80 496.25,386.60 496.50,387.33 496.75,387.90 497.00,388.25 497.25,388.35 497.50,388.20 497.75,387.83 498.00,387.29 498.25,386.66 498.50,386.02 498.75,385.44 499.00,384.98 499.25,384.70 499.50,384.60 499.75,384.66 500.00,384.83 500.25,385.06 500.50,385.26 500.75,385.38 501.00,385.33 501.25,385.11 501.50,384.68 501.75,384.09 502.00,383.38 502.25,382.62 502.50,381.90 502.75,381.31 503.00,380.90 503.25,380.73 503.50,380.82 503.75,381.16 504.00,381.71 504.25,382.39 504.50,383.13 504.75,383.85 505.00,384.46 505.25,384.91 505.50,385.17 505.75,385.24 506.00,385.14 506.25,384.95 506.50,384.71 506.75,384.51 507.00,384.43 507.25,384.50 507.50,384.76 507.75,385.20 508.00,385.79 508.25,386.46 508.50,387.14 508.75,387.75 509.00,388.19 509.25,388.42 509.50,388.39"/>
<polyline fill="none" stroke="#1a1a1a" stroke-width="1.15" stroke-linejoin="round" stroke-linecap="round"  points="41.50,411.47 41.75,411.42 42.00,411.39 42.25,411.39 42.50,411.40 42.75,411.41 43.00,411.39 43.25,411.34 43.50,411.25 43.75,411.10 44.00,410.90 44.25,410.65 44.50,410.36 44.75,410.04 45.00,409.70 45.25,409.36 45.50,409.03 45.75,408.72 46.00,408.46 46.25,408.25 46.50,408.09 46.75,407.98 47.00,407.91 47.25,407.89 47.50,407.89 47.75,407.91 48.00,407.92 48.25,407.92 48.50,407.88 48.75,407.80 49.00,407.67 49.25,407.49 49.50,407.26 49.75,406.98 50.00,406.67 50.25,406.37 50.50,406.17 50.75,405.98 51.00,405.81 51.25,405.68 51.50,405.59 51.75,405.56 52.00,405.58 52.25,405.65 52.50,405.75 52.75,405.89 53.00,406.04 53.25,406.19 53.50,406.33 53.75,406.44 54.00,406.51 54.25,406.52 54.50,406.49 54.75,406.41 55.00,406.28 55.25,406.11 55.50,405.92 55.75,405.72 56.00,405.52 56.25,405.35 56.50,405.21 56.75,405.12 57.00,405.07 57.25,405.08 57.50,405.14 57.75,405.24 58.00,405.36 58.25,405.49 58.50,405.63 58.75,405.76 59.00,405.86 59.25,405.92 59.50,405.93 59.75,405.89 60.00,405.80 60.25,405.66 60.50,405.48 60.75,405.28 61.00,405.07 61.25,404.85 61.50,404.66 61.75,404.50 62.00,404.38 62.25,404.31 62.50,404.29 62.75,404.32 63.00,404.40 63.25,404.51 63.50,404.64 63.75,404.78 64.00,404.91 64.25,405.01 64.50,405.08 64.75,405.10 65.00,405.08 65.25,404.99 65.50,404.87 65.75,404.65 66.00,404.40 66.25,404.14 66.50,403.88 66.75,403.64 67.00,403.42 67.25,403.25 67.50,403.12 67.75,403.04 68.00,403.02 68.25,403.04 68.50,403.10 68.75,403.18 69.00,403.27 69.25,403.36 69.50,403.42 69.75,403.45 70.00,403.44 70.25,403.37 70.50,403.26 70.75,403.09 71.00,402.88 71.25,402.64 71.50,402.38 71.75,402.12 72.00,401.87 72.25,401.65 72.50,401.46 72.75,401.33 73.00,401.24 73.25,401.22 73.50,401.26 73.75,401.33 74.00,401.43 74.25,401.54 74.50,401.65 74.75,401.74 75.00,401.80 75.25,401.82 75.50,401.79 75.75,401.70 76.00,401.57 76.25,401.39 76.50,401.18 76.75,400.94 77.00,400.70 77.25,400.47 77.50,400.26 77.75,400.09 78.00,399.96 78.25,399.87 78.50,399.76 78.75,399.70 79.00,399.68 79.25,399.69 79.50,399.71 79.75,399.73 80.00,399.74 80.25,399.72 80.50,399.66 80.75,399.55 81.00,399.39 81.25,399.17 81.50,398.91 81.75,398.62 82.00,398.30 82.25,397.97 82.50,397.64 82.75,397.34 83.00,397.07 83.25,396.85 83.50,396.77 83.75,396.77 84.00,396.82 84.25,396.91 84.50,397.03 84.75,397.17 85.00,397.31 85.25,397.44 85.50,397.54 85.75,397.61 86.00,397.62 86.25,397.59 86.50,397.50 86.75,397.37 87.00,397.20 87.25,397.00 87.50,396.79 87.75,396.58 88.00,396.39 88.25,396.23 88.50,396.03 88.75,395.75 89.00,395.52 89.25,395.34 89.50,395.21 89.75,395.11 90.00,395.03 90.25,394.96 90.50,394.87 90.75,394.77 91.00,394.63 91.25,394.44 91.50,394.20 91.75,393.91 92.00,393.57 92.25,393.19 92.50,392.78 92.75,392.35 93.00,391.92 93.25,391.51 93.50,391.13 93.75,391.01 94.00,390.94 94.25,390.92 94.50,390.95 94.75,391.03 95.00,391.15 95.25,391.28 95.50,391.43 95.75,391.57 96.00,391.69 96.25,391.78 96.50,391.82 96.75,391.81 97.00,391.75 97.25,391.64 97.50,391.48 97.75,391.30 98.00,391.10 98.25,390.89 98.50,390.69 98.75,390.52 99.00,390.38 99.25,390.29 99.50,390.25 99.75,390.27 100.00,390.33 100.25,390.43 100.50,390.55 100.75,390.69 101.00,390.82 101.25,390.94 101.50,391.03 101.75,391.07 102.00,391.06 102.25,391.00 102.50,390.61 102.75,389.76 103.00,388.62 103.25,387.88 103.50,387.14 103.75,386.40 104.00,385.66 104.25,384.92 104.50,384.18 104.75,383.44 105.00,382.70 105.25,381.93 105.50,381.16 105.75,380.39 106.00,379.62 106.25,378.85 106.50,378.08 106.75,377.31 107.00,376.54 107.25,375.77 107.50,375.00 107.75,374.30 108.00,373.60 108.25,372.90 108.50,372.20 108.75,371.50 109.00,370.80 109.25,370.10 109.50,369.40 109.75,368.70 110.00,368.00 110.25,367.39 110.50,366.77 110.75,366.16 111.00,365.55 111.25,364.93 111.50,364.32 111.75,363.71 112.00,363.09 112.25,362.48 112.50,361.87 112.75,361.25 113.00,360.64 113.25,360.03 113.50,359.42 113.75,358.80 114.00,358.19 114.25,357.58 114.50,356.96 114.75,356.35 115.00,355.74 115.25,355.12 115.50,354.38 115.75,353.62 116.00,352.85 116.25,352.08 116.50,351.31 116.75,350.54 117.00,349.77 117.25,349.00 117.50,348.23 117.75,347.46 118.00,346.55 118.25,345.44 118.50,344.32 118.75,343.21 119.00,342.09 119.25,340.97 119.50,339.86 119.75,338.74 120.00,337.62 120.25,336.51 120.50,335.39 120.75,334.28 121.00,333.16 121.25,332.04 121.50,330.93 121.75,329.81 122.00,328.70 122.25,327.58 122.50,326.46 122.75,325.35 123.00,324.23 123.25,323.12 123.50,322.00 123.75,321.25 124.00,320.50 124.25,319.75 124.50,319.00 124.75,318.25 125.00,317.50 125.25,316.75 125.50,316.00 125.75,315.25 126.00,314.50 126.25,313.75 126.50,313.00 126.75,312.25 127.00,311.50 127.25,310.75 127.50,310.00 127.75,309.25 128.00,308.50 128.25,307.75 128.50,307.00 128.75,306.50 129.00,306.00 129.25,305.50 129.50,305.00 129.75,304.50 130.00,304.00 130.25,303.57 130.50,303.39 130.75,303.22 131.00,303.05 131.25,302.87 131.50,302.70 131.75,301.82 132.00,301.43 132.25,301.45 132.50,301.85 132.75,302.57 133.00,303.54 133.25,304.73 133.50,306.07 133.75,307.51 134.00,309.00 134.25,310.49 134.50,311.98 134.75,313.46 135.00,314.94 135.25,316.41 135.50,317.88 135.75,319.34 136.00,320.80 136.25,322.26 136.50,323.72 136.75,325.19 137.00,326.68 137.25,328.19 137.50,329.73 137.75,331.32 138.00,332.94 138.25,334.62 138.50,336.36 138.75,338.16 139.00,340.03 139.25,341.99 139.50,344.03 139.75,346.16 140.00,348.39 140.25,350.67 140.50,352.95 140.75,355.17 141.00,357.26 141.25,359.19 141.50,360.87 141.75,362.26 142.00,363.30 142.25,363.93 142.50,364.10 142.75,363.87 143.00,363.34 143.25,362.58 143.50,361.71 143.75,360.82 144.00,360.00 144.25,359.33 144.50,358.79 144.75,358.37 145.00,358.04 145.25,357.78 145.50,357.55 145.75,357.33 146.00,357.10 146.25,356.83 146.50,356.53 146.75,356.21 147.00,355.85 147.25,355.49 147.50,355.11 147.75,354.72 148.00,354.34 148.25,353.96 148.50,353.60 148.75,353.25 149.00,352.93 149.25,352.64 149.50,352.38 149.75,352.17 150.00,352.00 150.25,351.88 150.50,351.78 150.75,351.66 151.00,351.49 151.25,351.23 151.50,350.85 151.75,350.32 152.00,349.60 152.25,348.66 152.50,347.53 152.75,346.22 153.00,344.77 153.25,343.19 153.50,341.52 153.75,339.78 154.00,338.00 154.25,336.20 154.50,334.39 154.75,332.59 155.00,330.80 155.25,329.04 155.50,327.31 155.75,325.63 156.00,324.00 156.25,322.44 156.50,320.99 156.75,319.68 157.00,318.54 157.25,317.62 157.50,316.95 157.75,316.57 158.00,316.52 158.25,316.83 158.50,317.49 158.75,318.48 159.00,319.75 159.25,321.28 159.50,323.02 159.75,324.95 160.00,327.02 160.25,329.20 160.50,331.45 160.75,333.75 161.00,336.06 161.25,338.33 161.50,340.54 161.75,342.65 162.00,344.65 162.25,346.54 162.50,348.31 162.75,349.96 163.00,351.50 163.25,352.93 163.50,354.24 163.75,355.44 164.00,356.52 164.25,357.49 164.50,358.34 164.75,359.07 165.00,359.69 165.25,360.19 165.50,360.58 165.75,360.85 166.00,361.00 166.25,361.04 166.50,360.97 166.75,360.81 167.00,360.57 167.25,360.26 167.50,359.88 167.75,359.47 168.00,359.02 168.25,358.54 168.50,358.05 168.75,357.57 169.00,357.09 169.25,356.64 169.50,356.22 169.75,355.86 170.00,355.54 170.25,355.31 170.50,355.15 170.75,355.07 171.00,355.07 171.25,355.12 171.50,355.22 171.75,355.36 172.00,355.51 172.25,355.67 172.50,355.82 172.75,355.96 173.00,356.06 173.25,356.12 173.50,356.12 173.75,356.05 174.00,355.90 174.25,355.65 174.50,355.31 174.75,354.85 175.00,354.28 175.25,353.60 175.50,352.79 175.75,351.85 176.00,350.77 176.25,349.56 176.50,348.20 176.75,346.68 177.00,345.01 177.25,343.20 177.50,341.27 177.75,339.26 178.00,337.21 178.25,335.14 178.50,333.10 178.75,331.12 179.00,329.22 179.25,327.46 179.50,325.85 179.75,324.44 180.00,323.25 180.25,322.33 180.50,321.70 180.75,321.39 181.00,321.40 181.25,321.69 181.50,322.25 181.75,323.06 182.00,324.10 182.25,325.35 182.50,326.78 182.75,328.39 183.00,330.14 183.25,332.01 183.50,334.00 183.75,336.07 184.00,338.16 184.25,340.22 184.50,342.18 184.75,343.99 185.00,345.59 185.25,346.92 185.50,347.91 185.75,348.52 186.00,348.77 186.25,348.77 186.50,348.64 186.75,348.47 187.00,348.37 187.25,348.44 187.50,348.80 187.75,349.51 188.00,350.53 188.25,351.77 188.50,353.13 188.75,354.55 189.00,355.92 189.25,357.17 189.50,358.22 189.75,359.06 190.00,359.70 190.25,360.14 190.50,360.42 190.75,360.54 191.00,360.52 191.25,360.36 191.50,360.09 191.75,359.72 192.00,359.26 192.25,358.73 192.50,358.14 192.75,357.50 193.00,356.84 193.25,356.16 193.50,355.47 193.75,354.80 194.00,354.14 194.25,353.49 194.50,352.85 194.75,352.20 195.00,351.55 195.25,350.88 195.50,350.21 195.75,349.51 196.00,348.78 196.25,348.02 196.50,347.23 196.75,346.39 197.00,345.51 197.25,344.57 197.50,343.58 197.75,342.52 198.00,341.40 198.25,340.21 198.50,338.96 198.75,337.67 199.00,336.34 199.25,335.01 199.50,333.67 199.75,332.35 200.00,331.05 200.25,329.80 200.50,328.61 200.75,327.49 201.00,326.46 201.25,325.53 201.50,324.71 201.75,324.03 202.00,323.49 202.25,323.11 202.50,322.90 202.75,322.88 203.00,323.07 203.25,323.47 203.50,324.08 203.75,324.88 204.00,325.85 204.25,326.97 204.50,328.21 204.75,329.56 205.00,331.00 205.25,332.50 205.50,334.04 205.75,335.61 206.00,337.18 206.25,338.73 206.50,340.24 206.75,341.68 207.00,343.05 207.25,344.34 207.50,345.54 207.75,346.64 208.00,347.65 208.25,348.56 208.50,349.36 208.75,350.05 209.00,350.62 209.25,351.08 209.50,351.40 209.75,351.60 210.00,351.69 210.25,351.67 210.50,351.59 210.75,351.44 211.00,351.27 211.25,351.09 211.50,350.92 211.75,350.78 212.00,350.70 212.25,350.70 212.50,350.80 212.75,351.01 213.00,351.33 213.25,351.75 213.50,352.24 213.75,352.81 214.00,353.42 214.25,354.08 214.50,354.77 214.75,355.47 215.00,356.17 215.25,356.87 215.50,357.53 215.75,358.16 216.00,358.73 216.25,359.24 216.50,359.67 216.75,360.01 217.00,360.25 217.25,360.36 217.50,360.35 217.75,360.19 218.00,359.88 218.25,359.44 218.50,358.86 218.75,358.16 219.00,357.35 219.25,356.43 219.50,355.41 219.75,354.30 220.00,353.10 220.25,351.83 220.50,350.48 220.75,349.08 221.00,347.62 221.25,346.12 221.50,344.57 221.75,343.00 222.00,341.40 222.25,339.79 222.50,338.18 222.75,336.60 223.00,335.05 223.25,333.57 223.50,332.16 223.75,330.86 224.00,329.67 224.25,328.61 224.50,327.71 224.75,326.99 225.00,326.46 225.25,326.14 225.50,326.04 225.75,326.17 226.00,326.50 226.25,327.01 226.50,327.68 226.75,328.49 227.00,329.43 227.25,330.47 227.50,331.59 227.75,332.79 228.00,334.03 228.25,335.30 228.50,336.57 228.75,337.84 229.00,339.08 229.25,340.27 229.50,341.39 229.75,342.43 230.00,343.36 230.25,344.16 230.50,344.82 230.75,345.32 231.00,345.64 231.25,345.80 231.50,345.82 231.75,345.73 232.00,345.55 232.25,345.32 232.50,345.07 232.75,344.81 233.00,344.58 233.25,344.40 233.50,344.30 233.75,344.31 234.00,344.45 234.25,344.70 234.50,345.06 234.75,345.53 235.00,346.08 235.25,346.71 235.50,347.42 235.75,348.18 236.00,349.00 236.25,349.87 236.50,350.76 236.75,351.69 237.00,352.62 237.25,353.57 237.50,354.51 237.75,355.43 238.00,356.34 238.25,357.21 238.50,358.05 238.75,358.83 239.00,359.55 239.25,360.20 239.50,360.78 239.75,361.27 240.00,361.66 240.25,361.94 240.50,362.11 240.75,362.15 241.00,362.06 241.25,361.82 241.50,361.43 241.75,360.88 242.00,360.16 242.25,359.29 242.50,358.28 242.75,357.15 243.00,355.91 243.25,354.58 243.50,353.16 243.75,351.69 244.00,350.17 244.25,348.61 244.50,347.03 244.75,345.45 245.00,343.88 245.25,342.34 245.50,340.84 245.75,339.39 246.00,338.01 246.25,336.71 246.50,335.52 246.75,334.44 247.00,333.49 247.25,332.68 247.50,332.03 247.75,331.56 248.00,331.27 248.25,331.19 248.50,331.32 248.75,331.66 249.00,332.17 249.25,332.83 249.50,333.62 249.75,334.52 250.00,335.49 250.25,336.52 250.50,337.58 250.75,338.64 251.00,339.69 251.25,340.69 251.50,341.62 251.75,342.47 252.00,343.19 252.25,343.77 252.50,344.19 252.75,344.41 253.00,344.46 253.25,344.35 253.50,344.12 253.75,343.79 254.00,343.40 254.25,342.98 254.50,342.55 254.75,342.15 255.00,341.81 255.25,341.55 255.50,341.40 255.75,341.39 256.00,341.52 256.25,341.77 256.50,342.14 256.75,342.61 257.00,343.19 257.25,343.84 257.50,344.58 257.75,345.39 258.00,346.25 258.25,347.17 258.50,348.12 258.75,349.11 259.00,350.11 259.25,351.13 259.50,352.15 259.75,353.16 260.00,354.16 260.25,355.13 260.50,356.06 260.75,356.95 261.00,357.78 261.25,358.55 261.50,359.24 261.75,359.85 262.00,360.37 262.25,360.79 262.50,361.09 262.75,361.27 263.00,361.33 263.25,361.24 263.50,361.00 263.75,360.61 264.00,360.06 264.25,359.39 264.50,358.58 264.75,357.67 265.00,356.65 265.25,355.54 265.50,354.36 265.75,353.11 266.00,351.80 266.25,350.45 266.50,349.07 266.75,347.67 267.00,346.25 267.25,344.85 267.50,343.45 267.75,342.08 268.00,340.75 268.25,339.47 268.50,338.25 268.75,337.10 269.00,336.04 269.25,335.07 269.50,334.21 269.75,333.46 270.00,332.85 270.25,332.38 270.50,332.06 270.75,331.91 271.00,331.93 271.25,332.12 271.50,332.44 271.75,332.90 272.00,333.45 272.25,334.10 272.50,334.81 272.75,335.56 273.00,336.35 273.25,337.14 273.50,337.92 273.75,338.67 274.00,339.36 274.25,339.99 274.50,340.53 274.75,340.96 275.00,341.26 275.25,341.42 275.50,341.42 275.75,341.30 276.00,341.09 276.25,340.83 276.50,340.55 276.75,340.28 277.00,340.06 277.25,339.93 277.50,339.91 277.75,340.02 278.00,340.26 278.25,340.61 278.50,341.07 278.75,341.63 279.00,342.28 279.25,343.02 279.50,343.82 279.75,344.70 280.00,345.63 280.25,346.60 280.50,347.62 280.75,348.67 281.00,349.74 281.25,350.82 281.50,351.91 281.75,353.00 282.00,354.07 282.25,355.13 282.50,356.15 282.75,357.14 283.00,358.08 283.25,358.96 283.50,359.79 283.75,360.54 284.00,361.21 284.25,361.79 284.50,362.28 284.75,362.65 285.00,362.92 285.25,363.06 285.50,363.07 285.75,362.94 286.00,362.66 286.25,362.22 286.50,361.63 286.75,360.90 287.00,360.04 287.25,359.07 287.50,358.00 287.75,356.83 288.00,355.59 288.25,354.29 288.50,352.94 288.75,351.55 289.00,350.14 289.25,348.71 289.50,347.28 289.75,345.87 290.00,344.49 290.25,343.14 290.50,341.85 290.75,340.62 291.00,339.47 291.25,338.41 291.50,337.45 291.75,336.61 292.00,335.90 292.25,335.33 292.50,334.92 292.75,334.67 293.00,334.59 293.25,334.64 293.50,334.81 293.75,335.08 294.00,335.43 294.25,335.83 294.50,336.27 294.75,336.73 295.00,337.18 295.25,337.60 295.50,337.97 295.75,338.28 296.00,338.50 296.25,338.61 296.50,338.63 296.75,338.56 297.00,338.41 297.25,338.19 297.50,337.93 297.75,337.61 298.00,337.27 298.25,336.91 298.50,336.53 298.75,336.16 299.00,335.80 299.25,335.46 299.50,335.16 299.75,334.90 300.00,334.70 300.25,334.56 300.50,334.51 300.75,334.54 301.00,334.68 301.25,334.93 301.50,335.30 301.75,335.80 302.00,336.43 302.25,337.17 302.50,338.01 302.75,338.94 303.00,339.96 303.25,341.05 303.50,342.20 303.75,343.41 304.00,344.65 304.25,345.92 304.50,347.21 304.75,348.52 305.00,349.82 305.25,351.11 305.50,352.38 305.75,353.62 306.00,354.81 306.25,355.96 306.50,357.04 306.75,358.04 307.00,358.97 307.25,359.80 307.50,360.52 307.75,361.13 308.00,361.61 308.25,361.96 308.50,362.16 308.75,362.21 309.00,362.09 309.25,361.81 309.50,361.39 309.75,360.83 310.00,360.16 310.25,359.37 310.50,358.49 310.75,357.52 311.00,356.49 311.25,355.40 311.50,354.26 311.75,353.10 312.00,351.91 312.25,350.72 312.50,349.53 312.75,348.36 313.00,347.22 313.25,346.13 313.50,345.09 313.75,344.13 314.00,343.24 314.25,342.45 314.50,341.77 314.75,341.21 315.00,340.78 315.25,340.49 315.50,340.37 315.75,340.40 316.00,340.55 316.25,340.81 316.50,341.14 316.75,341.52 317.00,341.92 317.25,342.32 317.50,342.68 317.75,342.98 318.00,343.20 318.25,343.30 318.50,343.26 318.75,343.09 319.00,342.80 319.25,342.40 319.50,341.92 319.75,341.36 320.00,340.74 320.25,340.07 320.50,339.37 320.75,338.65 321.00,337.93 321.25,337.23 321.50,336.55 321.75,335.91 322.00,335.33 322.25,334.82 322.50,334.39 322.75,334.07 323.00,333.86 323.25,333.78 323.50,333.84 323.75,334.06 324.00,334.41 324.25,334.89 324.50,335.49 324.75,336.19 325.00,337.00 325.25,337.89 325.50,338.86 325.75,339.90 326.00,341.00 326.25,342.14 326.50,343.33 326.75,344.53 327.00,345.76 327.25,346.99 327.50,348.22 327.75,349.44 328.00,350.63 328.25,351.79 328.50,352.91 328.75,353.97 329.00,354.97 329.25,355.90 329.50,356.73 329.75,357.48 330.00,358.12 330.25,358.65 330.50,359.05 330.75,359.31 331.00,359.43 331.25,359.40 331.50,359.20 331.75,358.84 332.00,358.32 332.25,357.67 332.50,356.91 332.75,356.04 333.00,355.08 333.25,354.05 333.50,352.96 333.75,351.83 334.00,350.68 334.25,349.51 334.50,348.35 334.75,347.22 335.00,346.11 335.25,345.06 335.50,344.08 335.75,343.18 336.00,342.38 336.25,341.70 336.50,341.14 336.75,340.73 337.00,340.48 337.25,340.40 337.50,340.50 337.75,340.75 338.00,341.10 338.25,341.52 338.50,341.97 338.75,342.42 339.00,342.83 339.25,343.16 339.50,343.37 339.75,343.45 340.00,343.40 340.25,343.25 340.50,342.99 340.75,342.64 341.00,342.21 341.25,341.72 341.50,341.17 341.75,340.57 342.00,339.93 342.25,339.27 342.50,338.60 342.75,337.93 343.00,337.26 343.25,336.61 343.50,336.00 343.75,335.42 344.00,334.90 344.25,334.44 344.50,334.06 344.75,333.76 345.00,333.56 345.25,333.46 345.50,333.49 345.75,333.64 346.00,333.94 346.25,334.37 346.50,334.94 346.75,335.63 347.00,336.42 347.25,337.32 347.50,338.31 347.75,339.37 348.00,340.50 348.25,341.68 348.50,342.91 348.75,344.17 349.00,345.45 349.25,346.74 349.50,348.03 349.75,349.31 350.00,350.57 350.25,351.80 350.50,352.99 350.75,354.11 351.00,355.18 351.25,356.16 351.50,357.06 351.75,357.86 352.00,358.56 352.25,359.13 352.50,359.56 352.75,359.86 353.00,360.00 353.25,359.98 353.50,359.79 353.75,359.45 354.00,358.96 354.25,358.35 354.50,357.63 354.75,356.81 355.00,355.91 355.25,354.94 355.50,353.92 355.75,352.87 356.00,351.79 356.25,350.71 356.50,349.63 356.75,348.57 357.00,347.55 357.25,346.58 357.50,345.68 357.75,344.86 358.00,344.14 358.25,343.53 358.50,343.04 358.75,342.69 359.00,342.50 359.25,342.47 359.50,342.58 359.75,342.81 360.00,343.13 360.25,343.50 360.50,343.91 360.75,344.32 361.00,344.71 361.25,345.05 361.50,345.31 361.75,345.47 362.00,345.49 362.25,345.37 362.50,345.12 362.75,344.74 363.00,344.26 363.25,343.68 363.50,343.02 363.75,342.28 364.00,341.49 364.25,340.65 364.50,339.77 364.75,338.87 365.00,337.96 365.25,337.05 365.50,336.16 365.75,335.29 366.00,334.45 366.25,333.67 366.50,332.95 366.75,332.31 367.00,331.75 367.25,331.29 367.50,330.94 367.75,330.71 368.00,330.62 368.25,330.68 368.50,330.90 368.75,331.29 369.00,331.83 369.25,332.52 369.50,333.34 369.75,334.28 370.00,335.33 370.25,336.46 370.50,337.68 370.75,338.96 371.00,340.30 371.25,341.67 371.50,343.07 371.75,344.48 372.00,345.89 372.25,347.29 372.50,348.66 372.75,349.98 373.00,351.26 373.25,352.46 373.50,353.59 373.75,354.62 374.00,355.55 374.25,356.35 374.50,357.02 374.75,357.54 375.00,357.90 375.25,358.09 375.50,358.11 375.75,357.97 376.00,357.69 376.25,357.29 376.50,356.76 376.75,356.14 377.00,355.43 377.25,354.65 377.50,353.82 377.75,352.94 378.00,352.03 378.25,351.11 378.50,350.18 378.75,349.27 379.00,348.39 379.25,347.55 379.50,346.76 379.75,346.05 380.00,345.42 380.25,344.88 380.50,344.46 380.75,344.17 381.00,344.02 381.25,344.02 381.50,344.17 381.75,344.44 382.00,344.80 382.25,345.24 382.50,345.73 382.75,346.25 383.00,346.76 383.25,347.25 383.50,347.70 383.75,348.07 384.00,348.34 384.25,348.49 384.50,348.50 384.75,348.34 385.00,348.03 385.25,347.58 385.50,347.00 385.75,346.31 386.00,345.52 386.25,344.65 386.50,343.70 386.75,342.70 387.00,341.66 387.25,340.60 387.50,339.51 387.75,338.44 388.00,337.37 388.25,336.34 388.50,335.35 388.75,334.42 389.00,333.56 389.25,332.78 389.50,332.11 389.75,331.56 390.00,331.13 390.25,330.85 390.50,330.72 390.75,330.77 391.00,331.00 391.25,331.41 391.50,331.98 391.75,332.70 392.00,333.56 392.25,334.54 392.50,335.63 392.75,336.81 393.00,338.07 393.25,339.39 393.50,340.76 393.75,342.17 394.00,343.61 394.25,345.05 394.50,346.48 394.75,347.90 395.00,349.28 395.25,350.61 395.50,351.88 395.75,353.07 396.00,354.17 396.25,355.17 396.50,356.05 396.75,356.79 397.00,357.39 397.25,357.82 397.50,358.08 397.75,358.16 398.00,358.08 398.25,357.85 398.50,357.48 398.75,356.99 399.00,356.40 399.25,355.71 399.50,354.95 399.75,354.12 400.00,353.25 400.25,352.34 400.50,351.41 400.75,350.48 401.00,349.56 401.25,348.65 401.50,347.79 401.75,346.98 402.00,346.24 402.25,345.58 402.50,345.02 402.75,344.56 403.00,344.23 403.25,344.04 403.50,344.00 403.75,344.12 404.00,344.36 404.25,344.71 404.50,345.13 404.75,345.62 405.00,346.13 405.25,346.65 405.50,347.14 405.75,347.60 406.00,347.99 406.25,348.29 406.50,348.47 406.75,348.51 407.00,348.39 407.25,348.11 407.50,347.69 407.75,347.13 408.00,346.47 408.25,345.70 408.50,344.84 408.75,343.91 409.00,342.92 409.25,341.88 409.50,340.82 409.75,339.74 410.00,338.66 410.25,337.59 410.50,336.55 410.75,335.55 411.00,334.60 411.25,333.73 411.50,332.94 411.75,332.24 412.00,331.66 412.25,331.21 412.50,330.89 412.75,330.73 413.00,330.75 413.25,330.94 413.50,331.31 413.75,331.85 414.00,332.55 414.25,333.38 414.50,334.33 414.75,335.40 415.00,336.56 415.25,337.81 415.50,339.12 415.75,340.48 416.00,341.89 416.25,343.32 416.50,344.76 416.75,346.19 417.00,347.61 417.25,349.00 417.50,350.35 417.75,351.63 418.00,352.84 418.25,353.96 418.50,354.98 418.75,355.88 419.00,356.65 419.25,357.28 419.50,357.75 419.75,358.04 420.00,358.16 420.25,358.11 420.50,357.91 420.75,357.57 421.00,357.10 421.25,356.53 421.50,355.86 421.75,355.11 422.00,354.30 422.25,353.43 422.50,352.53 422.75,351.60 423.00,350.67 423.25,349.74 423.50,348.83 423.75,347.96 424.00,347.14 424.25,346.38 424.50,345.71 424.75,345.12 425.00,344.64 425.25,344.29 425.50,344.07 425.75,344.00 426.00,344.09 426.25,344.30 426.50,344.63 426.75,345.04 427.00,345.52 427.25,346.02 427.50,346.54 427.75,347.05 428.00,347.51 428.25,347.92 428.50,348.24 428.75,348.44 429.00,348.52 429.25,348.43 429.50,348.18 429.75,347.78 430.00,347.26 430.25,346.61 430.50,345.86 430.75,345.02 431.00,344.10 431.25,343.12 431.50,342.09 431.75,341.04 432.00,339.96 432.25,338.88 432.50,337.80 432.75,336.76 433.00,335.75 433.25,334.79 433.50,333.90 433.75,333.09 434.00,332.37 434.25,331.77 434.50,331.29 434.75,330.94 435.00,330.75 435.25,330.73 435.50,330.88 435.75,331.22 436.00,331.73 436.25,332.40 436.50,333.20 436.75,334.13 437.00,335.18 437.25,336.32 437.50,337.55 437.75,338.85 438.00,340.21 438.25,341.60 438.50,343.03 438.75,344.47 439.00,345.91 439.25,347.33 439.50,348.73 439.75,350.08 440.00,351.38 440.25,352.60 440.50,353.74 440.75,354.78 441.00,355.71 441.25,356.51 441.50,357.17 441.75,357.67 442.00,358.00 442.25,358.15 442.50,358.13 442.75,357.96 443.00,357.64 443.25,357.20 443.50,356.65 443.75,356.00 444.00,355.27 444.25,354.46 444.50,353.61 444.75,352.71 445.00,351.79 445.25,350.85 445.50,349.92 445.75,349.01 446.00,348.13 446.25,347.30 446.50,346.53 446.75,345.83 447.00,345.23 447.25,344.73 447.50,344.35 447.75,344.10 448.00,344.00 448.25,344.06 448.50,344.25 448.75,344.56 449.00,344.96 449.25,345.42 449.50,345.92 449.75,346.44 450.00,346.95 450.25,347.43 450.50,347.84 450.75,348.18 451.00,348.41 451.25,348.51 451.50,348.46 451.75,348.24 452.00,347.87 452.25,347.37 452.50,346.75 452.75,346.01 453.00,345.19 453.25,344.29 453.50,343.32 453.75,342.30 454.00,341.25 454.25,340.17 454.50,339.09 454.75,338.02 455.00,336.96 455.25,335.94 455.50,334.97 455.75,334.07 456.00,333.24 456.25,332.51 456.50,331.88 456.75,331.37 457.00,331.00 457.25,330.78 457.50,330.72 457.75,330.84 458.00,331.14 458.25,331.62 458.50,332.25 458.75,333.03 459.00,333.94 459.25,334.96 459.50,336.09 459.75,337.30 460.00,338.59 460.25,339.93 460.50,341.32 460.75,342.74 461.00,344.18 461.25,345.62 461.50,347.05 461.75,348.45 462.00,349.82 462.25,351.12 462.50,352.36 462.75,353.52 463.00,354.58 463.25,355.54 463.50,356.36 463.75,357.05 464.00,357.58 464.25,357.95 464.50,358.14 464.75,358.15 465.00,358.01 465.25,357.72 465.50,357.30 465.75,356.77 466.00,356.14 466.25,355.42 466.50,354.63 466.75,353.78 467.00,352.89 467.25,351.97 467.50,351.04 467.75,350.11 468.00,349.19 468.25,348.31 468.50,347.46 468.75,346.68 469.00,345.97 469.25,345.34 469.50,344.82 469.75,344.41 470.00,344.14 470.25,344.01 470.50,344.03 470.75,344.20 471.00,344.49 471.25,344.87 471.50,345.32 471.75,345.82 472.00,346.34 472.25,346.85 472.50,347.33 472.75,347.77 473.00,348.12 473.25,348.38 473.50,348.50 473.75,348.48 474.00,348.30 474.25,347.96 474.50,347.48 474.75,346.88 475.00,346.17 475.25,345.36 475.50,344.47 475.75,343.52 476.00,342.51 476.25,341.46 476.50,340.39 476.75,339.31 477.00,338.23 477.25,337.17 477.50,336.14 477.75,335.16 478.00,334.24 478.25,333.40 478.50,332.65 478.75,332.00 479.00,331.46 479.25,331.06 479.50,330.81 479.75,330.72 480.00,330.80 480.25,331.07 480.50,331.51 480.75,332.11 481.00,332.86 481.25,333.75 481.50,334.75 481.75,335.85 482.00,337.05 482.25,338.32 482.50,339.66 482.75,341.04 483.00,342.46 483.25,343.89 483.50,345.33 483.75,346.76 484.00,348.17 484.25,349.55 484.50,350.87 484.75,352.12 485.00,353.30 485.25,354.38 485.50,355.35 485.75,356.21 486.00,356.92 486.25,357.49 486.50,357.89 486.75,358.11 487.00,358.16 487.25,358.05 487.50,357.79 487.75,357.40 488.00,356.89 488.25,356.27 488.50,355.57 488.75,354.79 489.00,353.96 489.25,353.07 489.50,352.16 489.75,351.23 490.00,350.30 490.25,349.38 490.50,348.48 490.75,347.63 491.00,346.83 491.25,346.11 491.50,345.46 491.75,344.92 492.00,344.49 492.25,344.18 492.50,344.02 492.75,344.02 493.00,344.16 493.25,344.42 493.50,344.78 493.75,345.22 494.00,345.71 494.25,346.22 494.50,346.74 494.75,347.23 495.00,347.68 495.25,348.05 495.50,348.33 495.75,348.49 496.00,348.50 496.25,348.35 496.50,348.04 496.75,347.60 497.00,347.03 497.25,346.34 497.50,345.56 497.75,344.69 498.00,343.75 498.25,342.76 498.50,341.72 498.75,340.66 499.00,339.58 499.25,338.50 499.50,337.44 499.75,336.41 500.00,335.42 500.25,334.49 500.50,333.62 500.75,332.85 501.00,332.17 501.25,331.61 501.50,331.17 501.75,330.88 502.00,330.74 502.25,330.77 502.50,330.99 502.75,331.38 503.00,331.93 503.25,332.63 503.50,333.47 503.75,334.42 504.00,335.49 504.25,336.65 504.50,337.89 504.75,339.19 505.00,340.55 505.25,341.94 505.50,343.36 505.75,344.79 506.00,346.22 506.25,347.63 506.50,349.01 506.75,350.34 507.00,351.62 507.25,352.83 507.50,353.95 507.75,354.97 508.00,355.88 508.25,356.66 508.50,357.30 508.75,357.79 509.00,358.11 509.25,358.26 509.50,358.25"/>
<polyline fill="none" stroke="#10c26c" stroke-width="1.15" stroke-linejoin="round" stroke-linecap="round"  points="41.50,242.03 41.75,241.88 42.00,241.71 42.25,241.56 42.50,241.48 42.75,241.49 43.00,241.58 43.25,241.73 43.50,241.91 43.75,242.08 44.00,242.18 44.25,242.21 44.50,242.14 44.75,242.01 45.00,241.84 45.25,241.68 45.50,241.57 45.75,241.54 46.00,241.60 46.25,241.73 46.50,241.91 46.75,242.08 47.00,242.22 47.25,242.27 47.50,242.24 47.75,242.14 48.00,241.98 48.25,241.81 48.50,241.67 48.75,241.61 49.00,241.63 49.25,241.74 49.50,241.90 49.75,242.08 50.00,242.24 50.25,242.33 50.50,242.33 50.75,242.25 51.00,242.11 51.25,241.94 51.50,241.79 51.75,241.69 52.00,241.68 52.25,241.76 52.50,241.90 52.75,242.08 53.00,242.25 53.25,242.37 53.50,242.41 53.75,242.36 54.00,242.24 54.25,242.08 54.50,241.91 54.75,241.79 55.00,241.74 55.25,241.78 55.50,241.90 55.75,242.07 56.00,242.25 56.25,242.40 56.50,242.47 56.75,242.46 57.00,242.36 57.25,242.21 57.50,242.04 57.75,241.90 58.00,241.82 58.25,241.82 58.50,241.91 58.75,242.07 59.00,242.25 59.25,242.41 59.50,242.52 59.75,242.54 60.00,242.48 60.25,242.35 60.50,242.18 60.75,242.02 61.00,241.91 61.25,241.89 61.50,241.95 61.75,242.08 62.00,242.26 62.25,242.43 62.50,242.57 62.75,242.63 63.00,242.60 63.25,242.49 63.50,242.34 63.75,242.17 64.00,242.04 64.25,241.98 64.50,242.00 64.75,242.11 65.00,242.27 65.25,242.46 65.50,242.61 65.75,242.71 66.00,242.71 66.25,242.63 66.50,242.49 66.75,242.32 67.00,242.17 67.25,242.08 67.50,242.07 67.75,242.15 68.00,242.29 68.25,242.47 68.50,242.65 68.75,242.77 69.00,242.81 69.25,242.76 69.50,242.64 69.75,242.48 70.00,242.32 70.25,242.20 70.50,242.15 70.75,242.20 71.00,242.32 71.25,242.49 71.50,242.67 71.75,242.82 72.00,242.89 72.25,242.88 72.50,242.79 72.75,242.64 73.00,242.47 73.25,242.33 73.50,242.25 73.75,242.26 74.00,242.35 74.25,242.51 74.50,242.69 74.75,242.85 75.00,242.96 75.25,242.99 75.50,242.92 75.75,242.79 76.00,242.63 76.25,242.47 76.50,242.36 76.75,242.33 77.00,242.39 77.25,242.53 77.50,242.75 77.75,242.98 78.00,243.17 78.25,243.29 78.50,243.32 78.75,243.27 79.00,243.17 79.25,243.06 79.50,242.98 79.75,242.98 80.00,243.06 80.25,243.22 80.50,243.44 80.75,243.68 81.00,243.89 81.25,244.04 81.50,244.11 81.75,244.08 82.00,244.00 82.25,243.89 82.50,243.79 82.75,243.76 83.00,243.80 83.25,243.93 83.50,244.14 83.75,244.34 84.00,244.50 84.25,244.62 84.50,244.65 84.75,244.60 85.00,244.48 85.25,244.31 85.50,244.14 85.75,244.02 86.00,243.96 86.25,244.00 86.50,244.12 86.75,244.28 87.00,244.46 87.25,244.60 87.50,244.67 87.75,244.65 88.00,244.55 88.25,244.40 88.50,244.22 88.75,244.08 89.00,243.99 89.25,244.00 89.50,244.08 89.75,244.23 90.00,244.41 90.25,244.57 90.50,244.67 90.75,244.69 91.00,244.62 91.25,244.48 91.50,244.31 91.75,244.15 92.00,244.04 92.25,244.00 92.50,244.06 92.75,244.19 93.00,244.36 93.25,244.53 93.50,244.66 93.75,244.71 94.00,244.68 94.25,244.56 94.50,244.40 94.75,244.23 95.00,244.09 95.25,244.02 95.50,244.04 95.75,244.15 96.00,244.30 96.25,244.48 96.50,244.63 96.75,244.72 97.00,244.72 97.25,244.64 97.50,244.49 97.75,244.31 98.00,244.16 98.25,244.06 98.50,244.04 98.75,244.11 99.00,244.25 99.25,244.43 99.50,244.60 99.75,244.71 100.00,244.40 100.25,244.50 100.50,245.00 100.75,245.50 101.00,246.00 101.25,246.50 101.50,247.00 101.75,247.98 102.00,248.96 102.25,249.94 102.50,250.93 102.75,251.91 103.00,252.89 103.25,253.87 103.50,254.85 103.75,255.83 104.00,256.81 104.25,257.80 104.50,258.78 104.75,259.76 105.00,260.74 105.25,261.72 105.50,262.70 105.75,263.69 106.00,264.67 106.25,265.65 106.50,266.63 106.75,267.61 107.00,268.59 107.25,269.57 107.50,270.56 107.75,271.54 108.00,272.52 108.25,273.50 108.50,274.48 108.75,275.46 109.00,276.44 109.25,277.43 109.50,278.41 109.75,279.39 110.00,280.37 110.25,281.35 110.50,282.33 110.75,283.31 111.00,284.30 111.25,285.28 111.50,286.26 111.75,287.24 112.00,288.22 112.25,289.20 112.50,290.19 112.75,291.17 113.00,292.15 113.25,293.13 113.50,294.11 113.75,295.09 114.00,296.07 114.25,297.06 114.50,298.04 114.75,299.02 115.00,300.00 115.25,300.73 115.50,301.45 115.75,302.18 116.00,302.90 116.25,303.63 116.50,304.36 116.75,305.08 117.00,305.81 117.25,306.53 117.50,307.26 117.75,307.99 118.00,308.71 118.25,309.44 118.50,310.16 118.75,310.89 119.00,311.62 119.25,312.34 119.50,313.07 119.75,313.80 120.00,314.52 120.25,315.25 120.50,315.97 120.75,316.70 121.00,317.43 121.25,318.15 121.50,318.88 121.75,319.60 122.00,320.33 122.25,321.06 122.50,321.78 122.75,322.51 123.00,323.23 123.25,323.96 123.50,324.69 123.75,325.41 124.00,326.14 124.25,326.86 124.50,327.59 124.75,328.31 125.00,329.02 125.25,329.74 125.50,330.46 125.75,331.18 126.00,331.90 126.25,332.61 126.50,333.33 126.75,334.05 127.00,334.77 127.25,335.49 127.50,336.20 127.75,336.92 128.00,337.64 128.25,338.36 128.50,339.08 128.75,339.79 129.00,340.51 129.25,341.23 129.50,341.95 129.75,342.67 130.00,343.38 130.25,344.10 130.50,344.82 130.75,345.54 131.00,346.26 131.25,346.97 131.50,347.69 131.75,348.41 132.00,349.13 132.25,349.85 132.50,350.56 132.75,351.28 133.00,352.00 133.25,353.30 133.50,354.60 133.75,355.90 134.00,357.20 134.25,358.50 134.50,359.80 134.75,361.10 135.00,362.40 135.25,363.70 135.50,365.00 135.75,367.28 136.00,369.56 136.25,371.84 136.50,374.12 136.75,376.40 137.00,378.68 137.25,380.58 137.50,381.00 137.75,381.42 138.00,381.83 138.25,382.25 138.50,382.67 138.75,383.08 139.00,383.50 139.25,383.60 139.50,383.69 139.75,383.79 140.00,383.88 140.25,383.98 140.50,384.07 140.75,384.17 141.00,384.26 141.25,384.36 141.50,384.46 141.75,384.55 142.00,384.65 142.25,384.74 142.50,384.79 142.75,384.81 143.00,384.87 143.25,384.95 143.50,385.05 143.75,385.13 144.00,385.20 144.25,385.25 144.50,385.29 144.75,385.33 145.00,385.38 145.25,385.44 145.50,385.54 145.75,385.67 146.00,385.81 146.25,385.95 146.50,385.99 146.75,385.90 147.00,385.73 147.25,385.47 147.50,385.12 147.75,384.70 148.00,384.24 148.25,383.76 148.50,383.30 148.75,382.90 149.00,382.59 149.25,382.37 149.50,382.28 149.75,382.29 150.00,382.39 150.25,382.56 150.50,382.77 150.75,382.97 151.00,383.16 151.25,383.29 151.50,383.38 151.75,383.41 152.00,383.41 152.25,383.40 152.50,383.40 152.75,383.46 153.00,383.58 153.25,383.80 153.50,384.11 153.75,384.51 154.00,384.97 154.25,385.46 154.50,385.94 154.75,386.37 155.00,386.71 155.25,386.93 155.50,387.03 155.75,386.99 156.00,386.84 156.25,386.60 156.50,386.30 156.75,385.99 157.00,385.69 157.25,385.45 157.50,385.27 157.75,385.16 158.00,385.11 158.25,385.10 158.50,385.10 158.75,385.08 159.00,385.00 159.25,384.84 159.50,384.59 159.75,384.25 160.00,383.84 160.25,383.39 160.50,382.93 160.75,382.51 161.00,382.17 161.25,381.94 161.50,381.84 161.75,381.87 162.00,382.04 162.25,382.31 162.50,382.66 162.75,383.04 163.00,383.42 163.25,383.75 163.50,384.03 163.75,384.22 164.00,384.35 164.25,384.41 164.50,384.44 164.75,384.47 165.00,384.52 165.25,384.63 165.50,384.81 165.75,385.06 166.00,385.39 166.25,385.76 166.50,386.14 166.75,386.51 167.00,386.81 167.25,387.02 167.50,387.12 167.75,387.09 168.00,386.92 168.25,386.65 168.50,386.29 168.75,385.89 169.00,385.47 169.25,385.07 169.50,384.72 169.75,384.45 170.00,384.25 170.25,384.12 170.50,384.04 170.75,384.00 171.00,383.95 171.25,383.89 171.50,383.78 171.75,383.61 172.00,383.39 172.25,383.12 172.50,382.82 172.75,382.53 173.00,382.28 173.25,382.10 173.50,382.02 173.75,382.06 174.00,382.21 174.25,382.48 174.50,382.84 174.75,383.26 175.00,383.72 175.25,384.16 175.50,384.57 175.75,384.92 176.00,385.18 176.25,385.35 176.50,385.46 176.75,385.50 177.00,385.51 177.25,385.52 177.50,385.55 177.75,385.62 178.00,385.75 178.25,385.92 178.50,386.13 178.75,386.36 179.00,386.57 179.25,386.73 179.50,386.81 179.75,386.79 180.00,386.64 180.25,386.38 180.50,386.01 180.75,385.55 181.00,385.05 181.25,384.54 181.50,384.06 181.75,383.65 182.00,383.34 182.25,383.13 182.50,383.02 182.75,383.01 183.00,383.06 183.25,383.14 183.50,383.22 183.75,383.26 184.00,383.25 184.25,383.18 184.50,383.04 184.75,382.87 185.00,382.68 185.25,382.51 185.50,382.40 185.75,382.40 186.00,382.51 186.25,382.75 186.50,383.13 186.75,383.61 187.00,384.16 187.25,384.74 187.50,385.29 187.75,385.77 188.00,386.15 188.25,386.40 188.50,386.51 188.75,386.49 189.00,386.37 189.25,386.19 189.50,385.99 189.75,385.81 190.00,385.68 190.25,385.64 190.50,385.68 190.75,385.79 191.00,385.95 191.25,386.12 191.50,386.25 191.75,386.30 192.00,386.24 192.25,386.03 192.50,385.69 192.75,385.23 193.00,384.67 193.25,384.06 193.50,383.46 193.75,382.92 194.00,382.49 194.25,382.20 194.50,382.07 194.75,382.09 195.00,382.24 195.25,382.49 195.50,382.78 195.75,383.08 196.00,383.33 196.25,383.50 196.50,383.58 196.75,383.56 197.00,383.48 197.25,383.36 197.50,383.24 197.75,383.17 198.00,383.20 198.25,383.35 198.50,383.62 198.75,384.03 199.00,384.54 199.25,385.11 199.50,385.69 199.75,386.23 200.00,386.68 200.25,387.00 200.50,387.16 200.75,387.16 201.00,387.02 201.25,386.76 201.50,386.42 201.75,386.07 202.00,385.73 202.25,385.44 202.50,385.25 202.75,385.14 203.00,385.11 203.25,385.15 203.50,385.21 203.75,385.25 204.00,385.23 204.25,385.13 204.50,384.92 204.75,384.60 205.00,384.19 205.25,383.71 205.50,383.20 205.75,382.71 206.00,382.29 206.25,381.97 206.50,381.79 206.75,381.77 207.00,381.89 207.25,382.13 207.50,382.47 207.75,382.86 208.00,383.25 208.25,383.62 208.50,383.92 208.75,384.14 209.00,384.27 209.25,384.33 209.50,384.34 209.75,384.33 210.00,384.34 210.25,384.40 210.50,384.54 210.75,384.77 211.00,385.09 211.25,385.47 211.50,385.90 211.75,386.32 212.00,386.71 212.25,387.01 212.50,387.19 212.75,387.24 213.00,387.14 213.25,386.90 213.50,386.55 213.75,386.12 214.00,385.66 214.25,385.22 214.50,384.82 214.75,384.50 215.00,384.28 215.25,384.15 215.50,384.10 215.75,384.11 216.00,384.13 216.25,384.14 216.50,384.09 216.75,383.96 217.00,383.75 217.25,383.45 217.50,383.09 217.75,382.71 218.00,382.34 218.25,382.03 218.50,381.82 218.75,381.75 219.00,381.84 219.25,382.08 219.50,382.46 219.75,382.94 220.00,383.48 220.25,384.03 220.50,384.54 220.75,384.97 221.00,385.27 221.25,385.45 221.50,385.52 221.75,385.48 222.00,385.39 222.25,385.28 222.50,385.21 222.75,385.20 223.00,385.30 223.25,385.49 223.50,385.78 223.75,386.13 224.00,386.50 224.25,386.83 224.50,387.08 224.75,387.20 225.00,387.15 225.25,386.93 225.50,386.54 225.75,386.01 226.00,385.39 226.25,384.74 226.50,384.12 226.75,383.58 227.00,383.18 227.25,382.93 227.50,382.85 227.75,382.90 228.00,383.06 228.25,383.26 228.50,383.47 228.75,383.61 229.00,383.67 229.25,383.60 229.50,383.42 229.75,383.14 230.00,382.81 230.25,382.47 230.50,382.20 230.75,382.03 231.00,382.03 231.25,382.21 231.50,382.57 231.75,383.09 232.00,383.72 232.25,384.42 232.50,385.10 232.75,385.72 233.00,386.20 233.25,386.52 233.50,386.66 233.75,386.63 234.00,386.47 234.25,386.21 234.50,385.93 234.75,385.67 235.00,385.48 235.25,385.40 235.50,385.45 235.75,385.60 236.00,385.83 236.25,386.10 236.50,386.34 236.75,386.51 237.00,386.55 237.25,386.43 237.50,386.13 237.75,385.68 238.00,385.10 238.25,384.44 238.50,383.77 238.75,383.14 239.00,382.62 239.25,382.25 239.50,382.04 239.75,382.02 240.00,382.15 240.25,382.39 240.50,382.70 240.75,383.02 241.00,383.30 241.25,383.50 241.50,383.60 241.75,383.60 242.00,383.50 242.25,383.35 242.50,383.19 242.75,383.06 243.00,383.02 243.25,383.11 243.50,383.33 243.75,383.69 244.00,384.18 244.25,384.75 244.50,385.36 244.75,385.95 245.00,386.46 245.25,386.86 245.50,387.10 245.75,387.18 246.00,387.10 246.25,386.88 246.50,386.57 246.75,386.21 247.00,385.86 247.25,385.55 247.50,385.32 247.75,385.19 248.00,385.15 248.25,385.19 248.50,385.27 248.75,385.36 249.00,385.40 249.25,385.36 249.50,385.21 249.75,384.94 250.00,384.55 250.25,384.06 250.50,383.51 250.75,382.96 251.00,382.45 251.25,382.04 251.50,381.76 251.75,381.65 252.00,381.70 252.25,381.91 252.50,382.25 252.75,382.67 253.00,383.12 253.25,383.55 253.50,383.91 253.75,384.17 254.00,384.32 254.25,384.36 254.50,384.31 254.75,384.22 255.00,384.13 255.25,384.09 255.50,384.14 255.75,384.31 256.00,384.61 256.25,385.02 256.50,385.53 256.75,386.07 257.00,386.61 257.25,387.06 257.50,387.39 257.75,387.55 258.00,387.52 258.25,387.30 258.50,386.92 258.75,386.41 259.00,385.84 259.25,385.27 259.50,384.75 259.75,384.35 260.00,384.09 260.25,383.98 260.50,384.00 260.75,384.12 261.00,384.29 261.25,384.45 261.50,384.53 261.75,384.50 262.00,384.33 262.25,384.01 262.50,383.56 262.75,383.03 263.00,382.48 263.25,381.97 263.50,381.57 263.75,381.35 264.00,381.33 264.25,381.53 264.50,381.94 264.75,382.51 265.00,383.18 265.25,383.88 265.50,384.53 265.75,385.07 266.00,385.46 266.25,385.67 266.50,385.69 266.75,385.57 267.00,385.36 267.25,385.11 267.50,384.90 267.75,384.79 268.00,384.81 268.25,385.00 268.50,385.33 268.75,385.78 269.00,386.29 269.25,386.80 269.50,387.22 269.75,387.49 270.00,387.57 270.25,387.42 270.50,387.05 270.75,386.50 271.00,385.81 271.25,385.06 271.50,384.32 271.75,383.68 272.00,383.18 272.25,382.87 272.50,382.76 272.75,382.81 273.00,383.01 273.25,383.28 273.50,383.55 273.75,383.77 274.00,383.88 274.25,383.85 274.50,383.68 274.75,383.37 275.00,382.98 275.25,382.57 275.50,382.20 275.75,381.93 276.00,381.82 276.25,381.91 276.50,382.20 276.75,382.68 277.00,383.31 277.25,384.02 277.50,384.75 277.75,385.42 278.00,385.98 278.25,386.37 278.50,386.59 278.75,386.62 279.00,386.49 279.25,386.26 279.50,385.98 279.75,385.71 280.00,385.49 280.25,385.39 280.50,385.40 280.75,385.53 281.00,385.76 281.25,386.04 281.50,386.32 281.75,386.54 282.00,386.65 282.25,386.60 282.50,386.38 282.75,386.00 283.00,385.46 283.25,384.82 283.50,384.14 283.75,383.48 284.00,382.90 284.25,382.45 284.50,382.16 284.75,382.05 285.00,382.12 285.25,382.31 285.50,382.60 285.75,382.93 286.00,383.23 286.25,383.47 286.50,383.61 286.75,383.63 287.00,383.55 287.25,383.38 287.50,383.18 287.75,382.99 288.00,382.86 288.25,382.86 288.50,383.00 288.75,383.30 289.00,383.75 289.25,384.33 289.50,384.99 289.75,385.66 290.00,386.28 290.25,386.79 290.50,387.14 290.75,387.31 291.00,387.28 291.25,387.08 291.50,386.74 291.75,386.33 292.00,385.89 292.25,385.50 292.50,385.20 292.75,385.02 293.00,384.98 293.25,385.07 293.50,385.24 293.75,385.45 294.00,385.64 294.25,385.74 294.50,385.71 294.75,385.52 295.00,385.14 295.25,384.61 295.50,383.97 295.75,383.26 296.00,382.58 296.25,381.98 296.50,381.54 296.75,381.31 297.00,381.30 297.25,381.51 297.50,381.91 297.75,382.44 298.00,383.03 298.25,383.60 298.50,384.09 298.75,384.43 299.00,384.61 299.25,384.61 299.50,384.46 299.75,384.22 300.00,383.95 300.25,383.73 300.50,383.62 300.75,383.67 301.00,383.92 301.25,384.36 301.50,384.97 301.75,385.68 302.00,386.41 302.25,387.09 302.50,387.63 302.75,387.96 303.00,388.03 303.25,387.85 303.50,387.42 303.75,386.81 304.00,386.09 304.25,385.35 304.50,384.68 304.75,384.15 305.00,383.81 305.25,383.69 305.50,383.77 305.75,384.01 306.00,384.33 306.25,384.67 306.50,384.92 306.75,385.03 307.00,384.94 307.25,384.63 307.50,384.13 307.75,383.48 308.00,382.76 308.25,382.06 308.50,381.47 308.75,381.06 309.00,380.91 309.25,381.02 309.50,381.41 309.75,382.01 310.00,382.77 310.25,383.59 310.50,384.38 310.75,385.05 311.00,385.54 311.25,385.81 311.50,385.86 311.75,385.70 312.00,385.42 312.25,385.07 312.50,384.74 312.75,384.51 313.00,384.45 313.25,384.58 313.50,384.91 313.75,385.40 314.00,385.99 314.25,386.62 314.50,387.18 314.75,387.60 315.00,387.82 315.25,387.78 315.50,387.49 315.75,386.96 316.00,386.26 316.25,385.46 316.50,384.64 316.75,383.90 317.00,383.30 317.25,382.89 317.50,382.71 317.75,382.73 318.00,382.93 318.25,383.24 318.50,383.58 318.75,383.88 319.00,384.08 319.25,384.11 319.50,383.98 319.75,383.67 320.00,383.24 320.25,382.75 320.50,382.25 320.75,381.85 321.00,381.60 321.25,381.56 321.50,381.76 321.75,382.18 322.00,382.81 322.25,383.57 322.50,384.39 322.75,385.19 323.00,385.88 323.25,386.40 323.50,386.71 323.75,386.79 324.00,386.67 324.25,386.39 324.50,386.01 324.75,385.61 325.00,385.27 325.25,385.05 325.50,385.00 325.75,385.12 326.00,385.41 326.25,385.81 326.50,386.27 326.75,386.70 327.00,387.02 327.25,387.16 327.50,387.08 327.75,386.75 328.00,386.18 328.25,385.43 328.50,384.57 328.75,383.68 329.00,382.85 329.25,382.19 329.50,381.74 329.75,381.56 330.00,381.63 330.25,381.94 330.50,382.42 330.75,382.98 331.00,383.53 331.25,383.98 331.50,384.27 331.75,384.34 332.00,384.18 332.25,383.84 332.50,383.37 332.75,382.85 333.00,382.39 333.25,382.08 333.50,382.00 333.75,382.20 334.00,382.68 334.25,383.42 334.50,384.34 334.75,385.36 335.00,386.35 335.25,387.21 335.50,387.83 335.75,388.14 336.00,388.13 336.25,387.81 336.50,387.23 336.75,386.49 337.00,385.70 337.25,384.98 337.50,384.43 337.75,384.12 338.00,384.10 338.25,384.34 338.50,384.80 338.75,385.39 339.00,385.98 339.25,386.48 339.50,386.76 339.75,386.75 340.00,386.42 340.25,385.77 340.50,384.86 340.75,383.80 341.00,382.69 341.25,381.68 341.50,380.89 341.75,380.42 342.00,380.30 342.25,380.56 342.50,381.15 342.75,381.97 343.00,382.92 343.25,383.85 343.50,384.64 343.75,385.19 344.00,385.45 344.25,385.39 344.50,385.05 344.75,384.51 345.00,383.88 345.25,383.28 345.50,382.85 345.75,382.66 346.00,382.80 346.25,383.26 346.50,384.02 346.75,384.99 347.00,386.05 347.25,387.09 347.50,387.96 347.75,388.55 348.00,388.80 348.25,388.68 348.50,388.20 348.75,387.44 349.00,386.49 349.25,385.50 349.50,384.57 349.75,383.83 350.00,383.36 350.25,383.18 350.50,383.31 350.75,383.68 351.00,384.21 351.25,384.79 351.50,385.30 351.75,385.63 352.00,385.70 352.25,385.47 352.50,384.94 352.75,384.17 353.00,383.24 353.25,382.28 353.50,381.40 353.75,380.72 354.00,380.35 354.25,380.32 354.50,380.66 354.75,381.31 355.00,382.21 355.25,383.23 355.50,384.25 355.75,385.16 356.00,385.84 356.25,386.23 356.50,386.32 356.75,386.10 357.00,385.67 357.25,385.10 357.50,384.52 357.75,384.05 358.00,383.77 358.25,383.77 358.50,384.06 358.75,384.63 359.00,385.41 359.25,386.30 359.50,387.19 359.75,387.94 360.00,388.45 360.25,388.63 360.50,388.45 360.75,387.90 361.00,387.06 361.25,386.01 361.50,384.87 361.75,383.79 362.00,382.88 362.25,382.25 362.50,381.95 362.75,382.01 363.00,382.38 363.25,382.98 363.50,383.69 363.75,384.38 364.00,384.93 364.25,385.22 364.50,385.20 364.75,384.84 365.00,384.18 365.25,383.30 365.50,382.33 365.75,381.40 366.00,380.67 366.25,380.25 366.50,380.24 366.75,380.65 367.00,381.48 367.25,382.62 367.50,383.95 367.75,385.32 368.00,386.55 368.25,387.51 368.50,388.07 368.75,388.18 369.00,387.86 369.25,387.17 369.50,386.22 369.75,385.19 370.00,384.25 370.25,383.54 370.50,383.20 370.75,383.30 371.00,383.82 371.25,384.71 371.50,385.84 371.75,387.03 372.00,388.10 372.25,388.86 372.50,389.18 372.75,388.98 373.00,388.25 373.25,387.04 373.50,385.51 373.75,383.82 374.00,382.20 374.25,380.84 374.50,379.91 374.75,379.54 375.00,379.74 375.25,380.47 375.50,381.60 375.75,382.96 376.00,384.34 376.25,385.51 376.50,386.30 376.75,386.58 377.00,386.31 377.25,385.53 377.50,384.36 377.75,382.98 378.00,381.62 378.25,380.49 378.50,379.80 378.75,379.68 379.00,380.18 379.25,381.27 379.50,382.83 379.75,384.67 380.00,386.55 380.25,388.25 380.50,389.53 380.75,390.24 381.00,390.30 381.25,389.72 381.50,388.60 381.75,387.12 382.00,385.50 382.25,383.99 382.50,382.79 382.75,382.09 383.00,381.98 383.25,382.46 383.50,383.43 383.75,384.74 384.00,386.17 384.25,387.48 384.50,388.45 384.75,388.91 385.00,388.75 385.25,387.97 385.50,386.65 385.75,384.94 386.00,383.07 386.25,381.27 386.50,379.78 386.75,378.80 387.00,378.42 387.25,378.71 387.50,379.59 387.75,380.92 388.00,382.52 388.25,384.14 388.50,385.56 388.75,386.59 389.00,387.10 389.25,387.04 389.50,386.43 389.75,385.42 390.00,384.16 390.25,382.88 390.50,381.80 390.75,381.10 391.00,380.92 391.25,381.31 391.50,382.26 391.75,383.64 392.00,385.29 392.25,387.00 392.50,388.53 392.75,389.69 393.00,390.33 393.25,390.37 393.50,389.81 393.75,388.73 394.00,387.30 394.25,385.69 394.50,384.15 394.75,382.86 395.00,382.00 395.25,381.66 395.50,381.87 395.75,382.55 396.00,383.59 396.25,384.80 396.50,385.97 396.75,386.89 397.00,387.40 397.25,387.39 397.50,386.83 397.75,385.77 398.00,384.34 398.25,382.71 398.50,381.10 398.75,379.74 399.00,378.81 399.25,378.45 399.50,378.72 399.75,379.58 400.00,380.93 400.25,382.59 400.50,384.35 400.75,385.97 401.00,387.24 401.25,388.00 401.50,388.16 401.75,387.74 402.00,386.81 402.25,385.55 402.50,384.16 402.75,382.88 403.00,381.93 403.25,381.48 403.50,381.64 403.75,382.41 404.00,383.71 404.25,385.38 404.50,387.19 404.75,388.89 405.00,390.22 405.25,391.00 405.50,391.07 405.75,390.43 406.00,389.12 406.25,387.30 406.50,385.22 406.75,383.15 407.00,381.35 407.25,380.06 407.50,379.45 407.75,379.58 408.00,380.40 408.25,381.79 408.50,383.49 408.75,385.25 409.00,386.77 409.25,387.80 409.50,388.16 409.75,387.77 410.00,386.65 410.25,384.97 410.50,382.93 410.75,380.85 411.00,379.02 411.25,377.74 411.50,377.20 411.75,377.51 412.00,378.66 412.25,380.52 412.50,382.85 412.75,385.34 413.00,387.67 413.25,389.53 413.50,390.68 413.75,390.97 414.00,390.40 414.25,389.07 414.50,387.20 414.75,385.09 415.00,383.08 415.25,381.47 415.50,380.52 415.75,380.39 416.00,381.11 416.25,382.57 416.50,384.57 416.75,386.81 417.00,388.95 417.25,390.67 417.50,391.68 417.75,391.83 418.00,391.05 418.25,389.44 418.50,387.20 418.75,384.61 419.00,382.03 419.25,379.78 419.50,378.17 419.75,377.40 420.00,377.53 420.25,378.52 420.50,380.20 420.75,382.29 421.00,384.48 421.25,386.42 421.50,387.83 421.75,388.50 422.00,388.33 422.25,387.37 422.50,385.76 422.75,383.76 423.00,381.67 423.25,379.82 423.50,378.51 423.75,377.94 424.00,378.23 424.25,379.35 424.50,381.17 424.75,383.47 425.00,385.92 425.25,388.22 425.50,390.07 425.75,391.22 426.00,391.56 426.25,391.06 426.50,389.83 426.75,388.07 427.00,386.05 427.25,384.07 427.50,382.42 427.75,381.33 428.00,380.96 428.25,381.33 428.50,382.37 428.75,383.91 429.00,385.69 429.25,387.44 429.50,388.86 429.75,389.73 430.00,389.89 430.25,389.29 430.50,387.99 430.75,386.14 431.00,383.98 431.25,381.80 431.50,379.87 431.75,378.45 432.00,377.71 432.25,377.74 432.50,378.52 432.75,379.91 433.00,381.72 433.25,383.68 433.50,385.51 433.75,386.95 434.00,387.81 434.25,387.98 434.50,387.45 434.75,386.33 435.00,384.80 435.25,383.12 435.50,381.55 435.75,380.36 436.00,379.75 436.25,379.86 436.50,380.70 436.75,382.19 437.00,384.16 437.25,386.35 437.50,388.46 437.75,390.23 438.00,391.40 438.25,391.81 438.50,391.41 438.75,390.25 439.00,388.50 439.25,386.38 439.50,384.20 439.75,382.27 440.00,380.84 440.25,380.11 440.50,380.17 440.75,380.99 441.00,382.44 441.25,384.28 441.50,386.21 441.75,387.92 442.00,389.11 442.25,389.58 442.50,389.21 442.75,388.01 443.00,386.11 443.25,383.76 443.50,381.27 443.75,378.98 444.00,377.22 444.25,376.25 444.50,376.22 444.75,377.14 445.00,378.91 445.25,381.29 445.50,383.96 445.75,386.54 446.00,388.68 446.25,390.10 446.50,390.60 446.75,390.13 447.00,388.77 447.25,386.76 447.50,384.41 447.75,382.09 448.00,380.19 448.25,379.01 448.50,378.77 448.75,379.54 449.00,381.24 449.25,383.65 449.50,386.44 449.75,389.23 450.00,391.60 450.25,393.20 450.50,393.79 450.75,393.28 451.00,391.71 451.25,389.29 451.50,386.35 451.75,383.30 452.00,380.54 452.25,378.46 452.50,377.31 452.75,377.25 453.00,378.24 453.25,380.10 453.50,382.54 453.75,385.16 454.00,387.55 454.25,389.33 454.50,390.23 454.75,390.08 455.00,388.90 455.25,386.84 455.50,384.21 455.75,381.37 456.00,378.75 456.25,376.73 456.50,375.61 456.75,375.57 457.00,376.62 457.25,378.63 457.50,381.33 457.75,384.35 458.00,387.28 458.25,389.74 458.50,391.39 458.75,392.06 459.00,391.67 459.25,390.34 459.50,388.29 459.75,385.86 460.00,383.44 460.25,381.38 460.50,380.02 460.75,379.54 461.00,380.03 461.25,381.41 461.50,383.47 461.75,385.90 462.00,388.34 462.25,390.42 462.50,391.83 462.75,392.36 463.00,391.91 463.25,390.53 463.50,388.40 463.75,385.81 464.00,383.10 464.25,380.63 464.50,378.72 464.75,377.59 465.00,377.38 465.25,378.07 465.50,379.52 465.75,381.48 466.00,383.66 466.25,385.71 466.50,387.33 466.75,388.28 467.00,388.43 467.25,387.76 467.50,386.38 467.75,384.51 468.00,382.43 468.25,380.47 468.50,378.92 468.75,378.04 469.00,377.97 469.25,378.75 469.50,380.29 469.75,382.41 470.00,384.83 470.25,387.24 470.50,389.31 470.75,390.80 471.00,391.51 471.25,391.37 471.50,390.43 471.75,388.84 472.00,386.85 472.25,384.76 472.50,382.87 472.75,381.47 473.00,380.75 473.25,380.82 473.50,381.65 473.75,383.11 474.00,384.98 474.25,386.97 474.50,388.75 474.75,390.05 475.00,390.64 475.25,390.38 475.50,389.29 475.75,387.47 476.00,385.15 476.25,382.63 476.50,380.23 476.75,378.28 477.00,377.04 477.25,376.67 477.50,377.22 477.75,378.61 478.00,380.63 478.25,382.98 478.50,385.34 478.75,387.35 479.00,388.73 479.25,389.29 479.50,388.94 479.75,387.75 480.00,385.90 480.25,383.69 480.50,381.46 480.75,379.57 481.00,378.34 481.25,377.98 481.50,378.61 481.75,380.17 482.00,382.48 482.25,385.25 482.50,388.10 482.75,390.65 483.00,392.54 483.25,393.50 483.50,393.40 483.75,392.25 484.00,390.21 484.25,387.56 484.50,384.69 484.75,381.99 485.00,379.86 485.25,378.59 485.50,378.34 485.75,379.15 486.00,380.86 486.25,383.21 486.50,385.83 486.75,388.29 487.00,390.21 487.25,391.26 487.50,391.25 487.75,390.14 488.00,388.07 488.25,385.29 488.50,382.19 488.75,379.20 489.00,376.74 489.25,375.16 489.50,374.68 489.75,375.38 490.00,377.15 490.25,379.75 490.50,382.82 490.75,385.91 491.00,388.61 491.25,390.55 491.50,391.46 491.75,391.26 492.00,390.00 492.25,387.91 492.50,385.32 492.75,382.65 493.00,380.32 493.25,378.71 493.50,378.07 493.75,378.52 494.00,380.02 494.25,382.36 494.50,385.22 494.75,388.19 495.00,390.85 495.25,392.82 495.50,393.82 495.75,393.72 496.00,392.51 496.25,390.38 496.50,387.62 496.75,384.62 497.00,381.78 497.25,379.49 497.50,378.04 497.75,377.59 498.00,378.17 498.25,379.65 498.50,381.77 498.75,384.18 499.00,386.49 499.25,388.35 499.50,389.47 499.75,389.66 500.00,388.89 500.25,387.28 500.50,385.04 500.75,382.50 501.00,380.03 501.25,377.99 501.50,376.67 501.75,376.27 502.00,376.84 502.25,378.32 502.50,380.51 502.75,383.10 503.00,385.76 503.25,388.12 503.50,389.90 503.75,390.86 504.00,390.93 504.25,390.12 504.50,388.60 504.75,386.63 505.00,384.51 505.25,382.59 505.50,381.16 505.75,380.44 506.00,380.54 506.25,381.46 506.50,383.06 506.75,385.11 507.00,387.31 507.25,389.33 507.50,390.87 507.75,391.70 508.00,391.66 508.25,390.76 508.50,389.08 508.75,386.83 509.00,384.32 509.25,381.87 509.50,379.80"/>
<polyline fill="none" stroke="#10c26c" stroke-width="1.1" stroke-linejoin="round" stroke-linecap="round"  points="41.50,411.47 41.75,411.42 42.00,411.39 42.25,411.39 42.50,411.40 42.75,411.41 43.00,411.39 43.25,411.34 43.50,411.25 43.75,411.10 44.00,410.90 44.25,410.65 44.50,410.36 44.75,410.04 45.00,409.70 45.25,409.36 45.50,409.03 45.75,408.72 46.00,408.46 46.25,408.25 46.50,408.09 46.75,407.98 47.00,407.91 47.25,407.89 47.50,407.89 47.75,407.91 48.00,407.92 48.25,407.92 48.50,407.88 48.75,407.80 49.00,407.67 49.25,407.49 49.50,407.26 49.75,406.98 50.00,406.67 50.25,406.37 50.50,406.17 50.75,405.98 51.00,405.81 51.25,405.68 51.50,405.59 51.75,405.56 52.00,405.58 52.25,405.65 52.50,405.75 52.75,405.89 53.00,406.04 53.25,406.19 53.50,406.33 53.75,406.44 54.00,406.51 54.25,406.52 54.50,406.49 54.75,406.41 55.00,406.28 55.25,406.11 55.50,405.92 55.75,405.72 56.00,405.52 56.25,405.35 56.50,405.21 56.75,405.12 57.00,405.07 57.25,405.08 57.50,405.14 57.75,405.24 58.00,405.36 58.25,405.49 58.50,405.63 58.75,405.76 59.00,405.86 59.25,405.92 59.50,405.93 59.75,405.89 60.00,405.80 60.25,405.66 60.50,405.48 60.75,405.28 61.00,405.07 61.25,404.85 61.50,404.66 61.75,404.50 62.00,404.38 62.25,404.31 62.50,404.29 62.75,404.32 63.00,404.40 63.25,404.51 63.50,404.64 63.75,404.78 64.00,404.91 64.25,405.01 64.50,405.08 64.75,405.10 65.00,405.08 65.25,404.99 65.50,404.87 65.75,404.65 66.00,404.40 66.25,404.14 66.50,403.88 66.75,403.64 67.00,403.42 67.25,403.25 67.50,403.12 67.75,403.04 68.00,403.02 68.25,403.04 68.50,403.10 68.75,403.18 69.00,403.27 69.25,403.36 69.50,403.42 69.75,403.45 70.00,403.44 70.25,403.37 70.50,403.26 70.75,403.09 71.00,402.88 71.25,402.64 71.50,402.38 71.75,402.12 72.00,401.87 72.25,401.65 72.50,401.46 72.75,401.33 73.00,401.24 73.25,401.22 73.50,401.26 73.75,401.33 74.00,401.43 74.25,401.54 74.50,401.65 74.75,401.74 75.00,401.80 75.25,401.82 75.50,401.79 75.75,401.70 76.00,401.57 76.25,401.39 76.50,401.18 76.75,400.94 77.00,400.70 77.25,400.47 77.50,400.26 77.75,400.09 78.00,399.96 78.25,399.87 78.50,399.76 78.75,399.70 79.00,399.68 79.25,399.69 79.50,399.71 79.75,399.73 80.00,399.74 80.25,399.72 80.50,399.66 80.75,399.55 81.00,399.39 81.25,399.17 81.50,398.91 81.75,398.62 82.00,398.30 82.25,397.97 82.50,397.64 82.75,397.34 83.00,397.07 83.25,396.85 83.50,396.77 83.75,396.77 84.00,396.82 84.25,396.91 84.50,397.03 84.75,397.17 85.00,397.31 85.25,397.44 85.50,397.54 85.75,397.61 86.00,397.62 86.25,397.59 86.50,397.50 86.75,397.37 87.00,397.20 87.25,397.00 87.50,396.79 87.75,396.58 88.00,396.39 88.25,396.23 88.50,396.03 88.75,395.75 89.00,395.52 89.25,395.34 89.50,395.21 89.75,395.11 90.00,395.03 90.25,394.96 90.50,394.87 90.75,394.77 91.00,394.63 91.25,394.44 91.50,394.20 91.75,393.91 92.00,393.57 92.25,393.19 92.50,392.78 92.75,392.35 93.00,391.92 93.25,391.51 93.50,391.13 93.75,391.01 94.00,390.94 94.25,390.92 94.50,390.95 94.75,391.03 95.00,391.15 95.25,391.28 95.50,391.43 95.75,391.57 96.00,391.69 96.25,391.78 96.50,391.82 96.75,391.81 97.00,391.75 97.25,391.64 97.50,391.48 97.75,391.30 98.00,391.10 98.25,390.89 98.50,390.69 98.75,390.52 99.00,390.38 99.25,390.29 99.50,390.25 99.75,390.27 100.00,390.33 100.25,390.43 100.50,390.55 100.75,390.69 101.00,390.82 101.25,390.94 101.50,391.03 101.75,391.07 102.00,391.06 102.25,391.00 102.50,390.61 102.75,389.76 103.00,388.62 103.25,387.88 103.50,387.14 103.75,386.40 104.00,385.66 104.25,384.92 104.50,384.18 104.75,383.44 105.00,382.70 105.25,381.93 105.50,381.16 105.75,380.39 106.00,379.62 106.25,378.85 106.50,378.08 106.75,377.31 107.00,376.54 107.25,375.77 107.50,375.00 107.75,374.30 108.00,373.60 108.25,372.90 108.50,372.20 108.75,371.50 109.00,370.80 109.25,370.10 109.50,369.40 109.75,368.70 110.00,368.00 110.25,367.39 110.50,366.77 110.75,366.16 111.00,365.55 111.25,364.93 111.50,364.32 111.75,363.71 112.00,363.09 112.25,362.48 112.50,361.87 112.75,361.25 113.00,360.64 113.25,360.03 113.50,359.42 113.75,358.80 114.00,358.19 114.25,357.58 114.50,356.96 114.75,356.35 115.00,355.74 115.25,355.12 115.50,354.38 115.75,353.62 116.00,352.85 116.25,352.08 116.50,351.31 116.75,350.54 117.00,349.77 117.25,349.00 117.50,348.23 117.75,347.46 118.00,346.55 118.25,345.44 118.50,344.32 118.75,343.21 119.00,342.09 119.25,340.97 119.50,339.86 119.75,338.74 120.00,337.62 120.25,336.51 120.50,335.39 120.75,334.28 121.00,333.16 121.25,332.04 121.50,330.93 121.75,329.81 122.00,328.70 122.25,327.58 122.50,326.46 122.75,325.35 123.00,324.23 123.25,323.12 123.50,322.00 123.75,321.25 124.00,320.50 124.25,319.75 124.50,319.00 124.75,318.25 125.00,317.50 125.25,316.75 125.50,316.00 125.75,315.25 126.00,314.50 126.25,313.75 126.50,313.00 126.75,312.25 127.00,311.50 127.25,310.75 127.50,310.00 127.75,309.25 128.00,308.50 128.25,307.75 128.50,307.00 128.75,306.50 129.00,306.00 129.25,305.50 129.50,305.00 129.75,304.50 130.00,304.00 130.25,303.57 130.50,303.39 130.75,303.22 131.00,303.05 131.25,302.87 131.50,302.70 131.75,303.36 132.00,304.02 132.25,304.69 132.50,305.35 132.75,306.01 133.00,306.68 133.25,307.34 133.50,308.00 133.75,309.30 134.00,310.60 134.25,311.90 134.50,313.20 134.75,314.50 135.00,315.80 135.25,317.10 135.50,318.40 135.75,319.70 136.00,321.00 136.25,322.82 136.50,324.64 136.75,326.45 137.00,328.27 137.25,330.09 137.50,331.91 137.75,333.73 138.00,335.55 138.25,337.36 138.50,339.18 138.75,341.00 139.00,342.82 139.25,344.64 139.50,346.27 139.75,347.85 140.00,349.43 140.25,351.02 140.50,352.60 140.75,354.18 141.00,354.21 141.25,353.84 141.50,353.47 141.75,353.10 142.00,352.74 142.25,352.37 142.50,352.00 142.75,351.70 143.00,351.40 143.25,351.10 143.50,350.80 143.75,350.50 144.00,350.20 144.25,349.90 144.50,349.60 144.75,349.73 145.00,349.85 145.25,349.98 145.50,350.10 145.75,350.23 146.00,350.35 146.25,350.48 146.50,350.60 146.75,350.73 147.00,350.85 147.25,350.98 147.50,351.10 147.75,350.86 148.00,350.62 148.25,350.37 148.50,350.13 148.75,349.89 149.00,349.65 149.25,349.41 149.50,349.16 149.75,348.92 150.00,348.68 150.25,348.44 150.50,348.20 150.75,347.41 151.00,346.25 151.25,345.09 151.50,343.94 151.75,342.78 152.00,341.62 152.25,340.47 152.50,339.31 152.75,338.16 153.00,337.00 153.25,335.70 153.50,334.40 153.75,333.10 154.00,331.80 154.25,330.50 154.50,329.20 154.75,327.90 155.00,326.60 155.25,325.30 155.50,324.00 155.75,323.14 156.00,322.28 156.25,321.42 156.50,320.56 156.75,319.70 157.00,318.84 157.25,321.36 157.50,322.17 157.75,323.23 158.00,324.51 158.25,325.99 158.50,327.64 158.75,329.42 159.00,331.30 159.25,333.25 159.50,335.24 159.75,337.25 160.00,339.24 160.25,341.17 160.50,343.03 160.75,344.79 161.00,346.45 161.25,348.01 161.50,349.47 161.75,350.83 162.00,352.09 162.25,353.25 162.50,354.31 162.75,355.27 163.00,356.13 163.25,356.89 163.50,357.55 163.75,358.11 164.00,358.57 164.25,358.92 164.50,359.18 164.75,359.33 165.00,359.38 165.25,359.34 165.50,359.22 165.75,359.02 166.00,358.76 166.25,358.45 166.50,358.09 166.75,357.70 167.00,357.29 167.25,356.87 167.50,356.45 167.75,356.03 168.00,355.63 168.25,355.26 168.50,354.93 168.75,354.65 169.00,354.43 169.25,354.28 169.50,354.20 169.75,354.19 170.00,354.22 170.25,354.30 170.50,354.42 170.75,354.55 171.00,354.68 171.25,354.82 171.50,354.94 171.75,355.04 172.00,355.10 172.25,355.11 172.50,355.06 172.75,354.95 173.00,354.75 173.25,354.46 173.50,354.09 173.75,353.61 174.00,353.04 174.25,352.35 174.50,351.56 174.75,350.65 175.00,349.62 175.25,348.46 175.50,347.17 175.75,345.74 176.00,344.19 176.25,342.52 176.50,340.79 176.75,339.01 177.00,337.21 177.25,335.43 177.50,333.69 177.75,332.03 178.00,330.47 178.25,329.04 178.50,327.77 178.75,326.70 179.00,325.85 179.25,325.25 179.50,324.92 179.75,324.87 180.00,325.08 180.25,325.52 180.50,326.19 180.75,327.05 181.00,328.10 181.25,329.32 181.50,330.69 181.75,332.18 182.00,333.80 182.25,335.51 182.50,337.29 182.75,339.11 183.00,340.91 183.25,342.64 183.50,344.25 183.75,345.68 184.00,346.89 184.25,347.81 184.50,348.41 184.75,348.68 185.00,348.73 185.25,348.63 185.50,348.47 185.75,348.37 186.00,348.40 186.25,348.65 186.50,349.21 186.75,350.05 187.00,351.09 187.25,352.26 187.50,353.49 187.75,354.70 188.00,355.81 188.25,356.77 188.50,357.53 188.75,358.12 189.00,358.54 189.25,358.81 189.50,358.94 189.75,358.94 190.00,358.83 190.25,358.61 190.50,358.31 190.75,357.92 191.00,357.47 191.25,356.97 191.50,356.42 191.75,355.85 192.00,355.25 192.25,354.66 192.50,354.07 192.75,353.50 193.00,352.93 193.25,352.37 193.50,351.81 193.75,351.24 194.00,350.67 194.25,350.08 194.50,349.47 194.75,348.85 195.00,348.19 195.25,347.51 195.50,346.79 195.75,346.03 196.00,345.22 196.25,344.37 196.50,343.46 196.75,342.50 197.00,341.47 197.25,340.39 197.50,339.28 197.75,338.13 198.00,336.97 198.25,335.80 198.50,334.65 198.75,333.52 199.00,332.42 199.25,331.37 199.50,330.39 199.75,329.47 200.00,328.64 200.25,327.91 200.50,327.29 200.75,326.80 201.00,326.44 201.25,326.23 201.50,326.18 201.75,326.30 202.00,326.61 202.25,327.11 202.50,327.77 202.75,328.59 203.00,329.54 203.25,330.60 203.50,331.76 203.75,333.00 204.00,334.29 204.25,335.63 204.50,336.99 204.75,338.35 205.00,339.71 205.25,341.03 205.50,342.30 205.75,343.50 206.00,344.64 206.25,345.70 206.50,346.67 206.75,347.57 207.00,348.38 207.25,349.09 207.50,349.71 207.75,350.23 208.00,350.65 208.25,350.95 208.50,351.15 208.75,351.24 209.00,351.24 209.25,351.18 209.50,351.06 209.75,350.92 210.00,350.76 210.25,350.61 210.50,350.48 210.75,350.40 211.00,350.39 211.25,350.45 211.50,350.62 211.75,350.88 212.00,351.22 212.25,351.64 212.50,352.12 212.75,352.65 213.00,353.22 213.25,353.81 213.50,354.42 213.75,355.03 214.00,355.63 214.25,356.22 214.50,356.77 214.75,357.28 215.00,357.74 215.25,358.13 215.50,358.44 215.75,358.66 216.00,358.78 216.25,358.79 216.50,358.68 216.75,358.44 217.00,358.08 217.25,357.60 217.50,357.01 217.75,356.32 218.00,355.54 218.25,354.67 218.50,353.72 218.75,352.69 219.00,351.60 219.25,350.44 219.50,349.23 219.75,347.97 220.00,346.66 220.25,345.33 220.50,343.96 220.75,342.58 221.00,341.18 221.25,339.78 221.50,338.39 221.75,337.04 222.00,335.74 222.25,334.50 222.50,333.34 222.75,332.29 223.00,331.35 223.25,330.54 223.50,329.87 223.75,329.38 224.00,329.06 224.25,328.94 224.50,329.01 224.75,329.26 225.00,329.68 225.25,330.23 225.50,330.92 225.75,331.71 226.00,332.60 226.25,333.57 226.50,334.59 226.75,335.67 227.00,336.77 227.25,337.88 227.50,338.98 227.75,340.07 228.00,341.11 228.25,342.10 228.50,343.02 228.75,343.85 229.00,344.57 229.25,345.17 229.50,345.64 229.75,345.94 230.00,346.11 230.25,346.15 230.50,346.08 230.75,345.95 231.00,345.75 231.25,345.53 231.50,345.31 231.75,345.10 232.00,344.93 232.25,344.83 232.50,344.82 232.75,344.92 233.00,345.12 233.25,345.41 233.50,345.80 233.75,346.27 234.00,346.80 234.25,347.41 234.50,348.06 234.75,348.77 235.00,349.51 235.25,350.29 235.50,351.09 235.75,351.90 236.00,352.72 236.25,353.54 236.50,354.35 236.75,355.14 237.00,355.91 237.25,356.64 237.50,357.33 237.75,357.97 238.00,358.55 238.25,359.06 238.50,359.50 238.75,359.86 239.00,360.13 239.25,360.29 239.50,360.35 239.75,360.29 240.00,360.11 240.25,359.80 240.50,359.35 240.75,358.75 241.00,358.02 241.25,357.17 241.50,356.20 241.75,355.14 242.00,354.00 242.25,352.78 242.50,351.51 242.75,350.19 243.00,348.84 243.25,347.47 243.50,346.10 243.75,344.73 244.00,343.38 244.25,342.07 244.50,340.79 244.75,339.58 245.00,338.44 245.25,337.38 245.50,336.42 245.75,335.57 246.00,334.84 246.25,334.25 246.50,333.81 246.75,333.52 247.00,333.42 247.25,333.49 247.50,333.75 247.75,334.17 248.00,334.72 248.25,335.39 248.50,336.15 248.75,336.99 249.00,337.87 249.25,338.79 249.50,339.72 249.75,340.63 250.00,341.51 250.25,342.34 250.50,343.09 250.75,343.74 251.00,344.27 251.25,344.66 251.50,344.89 251.75,344.96 252.00,344.89 252.25,344.71 252.50,344.44 252.75,344.11 253.00,343.75 253.25,343.38 253.50,343.02 253.75,342.71 254.00,342.46 254.25,342.31 254.50,342.28 254.75,342.37 255.00,342.57 255.25,342.87 255.50,343.26 255.75,343.75 256.00,344.30 256.25,344.93 256.50,345.62 256.75,346.37 257.00,347.15 257.25,347.98 257.50,348.83 257.75,349.70 258.00,350.59 258.25,351.47 258.50,352.36 258.75,353.22 259.00,354.07 259.25,354.89 259.50,355.67 259.75,356.41 260.00,357.09 260.25,357.71 260.50,358.25 260.75,358.72 261.00,359.10 261.25,359.39 261.50,359.57 261.75,359.63 262.00,359.58 262.25,359.40 262.50,359.09 262.75,358.64 263.00,358.07 263.25,357.40 263.50,356.62 263.75,355.75 264.00,354.80 264.25,353.78 264.50,352.71 264.75,351.58 265.00,350.41 265.25,349.21 265.50,347.99 265.75,346.77 266.00,345.54 266.25,344.32 266.50,343.13 266.75,341.96 267.00,340.84 267.25,339.77 267.50,338.75 267.75,337.81 268.00,336.95 268.25,336.18 268.50,335.51 268.75,334.96 269.00,334.52 269.25,334.22 269.50,334.06 269.75,334.04 270.00,334.18 270.25,334.44 270.50,334.81 270.75,335.28 271.00,335.83 271.25,336.43 271.50,337.09 271.75,337.76 272.00,338.45 272.25,339.13 272.50,339.79 272.75,340.41 273.00,340.97 273.25,341.46 273.50,341.85 273.75,342.14 274.00,342.30 274.25,342.33 274.50,342.24 274.75,342.07 275.00,341.85 275.25,341.61 275.50,341.37 275.75,341.17 276.00,341.03 276.25,340.99 276.50,341.07 276.75,341.25 277.00,341.54 277.25,341.92 277.50,342.40 277.75,342.95 278.00,343.57 278.25,344.26 278.50,345.01 278.75,345.81 279.00,346.65 279.25,347.53 279.50,348.44 279.75,349.37 280.00,350.31 280.25,351.25 280.50,352.20 280.75,353.14 281.00,354.06 281.25,354.95 281.50,355.82 281.75,356.65 282.00,357.43 282.25,358.16 282.50,358.82 282.75,359.42 283.00,359.94 283.25,360.38 283.50,360.73 283.75,360.98 284.00,361.13 284.25,361.16 284.50,361.07 284.75,360.85 285.00,360.50 285.25,360.01 285.50,359.40 285.75,358.67 286.00,357.85 286.25,356.93 286.50,355.93 286.75,354.87 287.00,353.74 287.25,352.58 287.50,351.37 287.75,350.14 288.00,348.90 288.25,347.66 288.50,346.43 288.75,345.22 289.00,344.04 289.25,342.91 289.50,341.83 289.75,340.81 290.00,339.87 290.25,339.02 290.50,338.27 290.75,337.63 291.00,337.11 291.25,336.72 291.50,336.48 291.75,336.37 292.00,336.40 292.25,336.53 292.50,336.75 292.75,337.04 293.00,337.38 293.25,337.76 293.50,338.15 293.75,338.55 294.00,338.92 294.25,339.26 294.50,339.54 294.75,339.74 295.00,339.86 295.25,339.89 295.50,339.84 295.75,339.73 296.00,339.55 296.25,339.33 296.50,339.06 296.75,338.77 297.00,338.45 297.25,338.13 297.50,337.80 297.75,337.48 298.00,337.19 298.25,336.92 298.50,336.68 298.75,336.50 299.00,336.37 299.25,336.31 299.50,336.32 299.75,336.42 300.00,336.62 300.25,336.92 300.50,337.33 300.75,337.86 301.00,338.48 301.25,339.20 301.50,339.99 301.75,340.86 302.00,341.80 302.25,342.79 302.50,343.83 302.75,344.91 303.00,346.01 303.25,347.13 303.50,348.26 303.75,349.40 304.00,350.52 304.25,351.63 304.50,352.72 304.75,353.76 305.00,354.77 305.25,355.72 305.50,356.61 305.75,357.43 306.00,358.17 306.25,358.81 306.50,359.37 306.75,359.81 307.00,360.14 307.25,360.34 307.50,360.41 307.75,360.33 308.00,360.12 308.25,359.77 308.50,359.31 308.75,358.74 309.00,358.07 309.25,357.32 309.50,356.50 309.75,355.61 310.00,354.67 310.25,353.69 310.50,352.68 310.75,351.65 311.00,350.61 311.25,349.57 311.50,348.55 311.75,347.56 312.00,346.60 312.25,345.69 312.50,344.83 312.75,344.05 313.00,343.34 313.25,342.73 313.50,342.22 313.75,341.82 314.00,341.55 314.25,341.41 314.50,341.41 314.75,341.53 315.00,341.74 315.25,342.01 315.50,342.34 315.75,342.68 316.00,343.03 316.25,343.35 316.50,343.63 316.75,343.83 317.00,343.94 317.25,343.93 317.50,343.81 317.75,343.57 318.00,343.25 318.25,342.84 318.50,342.36 318.75,341.83 319.00,341.26 319.25,340.65 319.50,340.03 319.75,339.41 320.00,338.79 320.25,338.19 320.50,337.63 320.75,337.11 321.00,336.66 321.25,336.27 321.50,335.97 321.75,335.77 322.00,335.67 322.25,335.70 322.50,335.86 322.75,336.14 323.00,336.54 323.25,337.04 323.50,337.64 323.75,338.32 324.00,339.08 324.25,339.92 324.50,340.81 324.75,341.75 325.00,342.74 325.25,343.77 325.50,344.81 325.75,345.88 326.00,346.95 326.25,348.02 326.50,349.08 326.75,350.13 327.00,351.14 327.25,352.12 327.50,353.06 327.75,353.94 328.00,354.75 328.25,355.50 328.50,356.17 328.75,356.74 329.00,357.22 329.25,357.59 329.50,357.85 329.75,357.98 330.00,357.97 330.25,357.83 330.50,357.54 330.75,357.12 331.00,356.58 331.25,355.93 331.50,355.19 331.75,354.37 332.00,353.48 332.25,352.55 332.50,351.57 332.75,350.57 333.00,349.56 333.25,348.55 333.50,347.55 333.75,346.59 334.00,345.66 334.25,344.80 334.50,344.00 334.75,343.28 335.00,342.67 335.25,342.16 335.50,341.77 335.75,341.53 336.00,341.43 336.25,341.49 336.50,341.68 336.75,341.97 337.00,342.33 337.25,342.72 337.50,343.11 337.75,343.47 338.00,343.78 338.25,343.98 338.50,344.07 338.75,344.06 339.00,343.94 339.25,343.73 339.50,343.45 339.75,343.09 340.00,342.67 340.25,342.19 340.50,341.68 340.75,341.13 341.00,340.56 341.25,339.98 341.50,339.39 341.75,338.81 342.00,338.24 342.25,337.70 342.50,337.19 342.75,336.73 343.00,336.32 343.25,335.97 343.50,335.70 343.75,335.50 344.00,335.40 344.25,335.40 344.50,335.51 344.75,335.74 345.00,336.10 345.25,336.57 345.50,337.15 345.75,337.82 346.00,338.59 346.25,339.43 346.50,340.34 346.75,341.31 347.00,342.33 347.25,343.39 347.50,344.48 347.75,345.59 348.00,346.72 348.25,347.84 348.50,348.96 348.75,350.06 349.00,351.14 349.25,352.18 349.50,353.17 349.75,354.10 350.00,354.98 350.25,355.78 350.50,356.49 350.75,357.11 351.00,357.63 351.25,358.03 351.50,358.32 351.75,358.47 352.00,358.48 352.25,358.34 352.50,358.07 352.75,357.67 353.00,357.16 353.25,356.55 353.50,355.85 353.75,355.08 354.00,354.25 354.25,353.37 354.50,352.46 354.75,351.53 355.00,350.58 355.25,349.64 355.50,348.72 355.75,347.82 356.00,346.97 356.25,346.18 356.50,345.45 356.75,344.80 357.00,344.25 357.25,343.80 357.50,343.47 357.75,343.28 358.00,343.22 358.25,343.30 358.50,343.48 358.75,343.74 359.00,344.06 359.25,344.41 359.50,344.77 359.75,345.12 360.00,345.42 360.25,345.66 360.50,345.82 360.75,345.86 361.00,345.78 361.25,345.58 361.50,345.28 361.75,344.88 362.00,344.39 362.25,343.83 362.50,343.20 362.75,342.52 363.00,341.79 363.25,341.04 363.50,340.26 363.75,339.46 364.00,338.67 364.25,337.89 364.50,337.13 364.75,336.40 365.00,335.71 365.25,335.07 365.50,334.49 365.75,333.99 366.00,333.57 366.25,333.25 366.50,333.03 366.75,332.93 367.00,332.95 367.25,333.11 367.50,333.42 367.75,333.87 368.00,334.44 368.25,335.13 368.50,335.93 368.75,336.82 369.00,337.80 369.25,338.84 369.50,339.95 369.75,341.10 370.00,342.29 370.25,343.50 370.50,344.73 370.75,345.96 371.00,347.18 371.25,348.37 371.50,349.54 371.75,350.66 372.00,351.72 372.25,352.71 372.50,353.63 372.75,354.45 373.00,355.17 373.25,355.78 373.50,356.26 373.75,356.60 374.00,356.80 374.25,356.84 374.50,356.75 374.75,356.53 375.00,356.20 375.25,355.76 375.50,355.24 375.75,354.64 376.00,353.97 376.25,353.25 376.50,352.49 376.75,351.71 377.00,350.90 377.25,350.10 377.50,349.30 377.75,348.53 378.00,347.79 378.25,347.09 378.50,346.46 378.75,345.89 379.00,345.41 379.25,345.03 379.50,344.75 379.75,344.59 380.00,344.57 380.25,344.67 380.50,344.89 380.75,345.19 381.00,345.56 381.25,345.98 381.50,346.43 381.75,346.87 382.00,347.31 382.25,347.70 382.50,348.04 382.75,348.30 383.00,348.45 383.25,348.48 383.50,348.38 383.75,348.13 384.00,347.76 384.25,347.28 384.50,346.70 384.75,346.03 385.00,345.28 385.25,344.47 385.50,343.61 385.75,342.71 386.00,341.79 386.25,340.85 386.50,339.91 386.75,338.98 387.00,338.07 387.25,337.20 387.50,336.38 387.75,335.62 388.00,334.93 388.25,334.33 388.50,333.82 388.75,333.43 389.00,333.16 389.25,333.02 389.50,333.03 389.75,333.20 390.00,333.52 390.25,333.99 390.50,334.60 390.75,335.32 391.00,336.15 391.25,337.08 391.50,338.09 391.75,339.17 392.00,340.32 392.25,341.50 392.50,342.72 392.75,343.97 393.00,345.22 393.25,346.47 393.50,347.71 393.75,348.91 394.00,350.08 394.25,351.20 394.50,352.25 394.75,353.23 395.00,354.11 395.25,354.90 395.50,355.57 395.75,356.11 396.00,356.52 396.25,356.78 396.50,356.88 396.75,356.84 397.00,356.66 397.25,356.36 397.50,355.96 397.75,355.46 398.00,354.88 398.25,354.23 398.50,353.52 398.75,352.76 399.00,351.98 399.25,351.17 399.50,350.36 399.75,349.55 400.00,348.76 400.25,348.01 400.50,347.29 400.75,346.63 401.00,346.04 401.25,345.53 401.50,345.12 401.75,344.81 402.00,344.62 402.25,344.56 402.50,344.63 402.75,344.82 403.00,345.11 403.25,345.47 403.50,345.88 403.75,346.32 404.00,346.77 404.25,347.21 404.50,347.62 404.75,347.97 405.00,348.25 405.25,348.43 405.50,348.49 405.75,348.41 406.00,348.20 406.25,347.85 406.50,347.39 406.75,346.83 407.00,346.18 407.25,345.44 407.50,344.65 407.75,343.79 408.00,342.90 408.25,341.98 408.50,341.04 408.75,340.10 409.00,339.17 409.25,338.26 409.50,337.38 409.75,336.55 410.00,335.77 410.25,335.07 410.50,334.44 410.75,333.92 411.00,333.50 411.25,333.20 411.50,333.03 411.75,333.01 412.00,333.15 412.25,333.44 412.50,333.89 412.75,334.46 413.00,335.17 413.25,335.98 413.50,336.89 413.75,337.88 414.00,338.95 414.25,340.08 414.50,341.26 414.75,342.48 415.00,343.72 415.25,344.97 415.50,346.22 415.75,347.46 416.00,348.67 416.25,349.85 416.50,350.98 416.75,352.04 417.00,353.04 417.25,353.94 417.50,354.75 417.75,355.44 418.00,356.02 418.25,356.45 418.50,356.74 418.75,356.87 419.00,356.86 419.25,356.70 419.50,356.43 419.75,356.05 420.00,355.57 420.25,355.00 420.50,354.36 420.75,353.66 421.00,352.92 421.25,352.14 421.50,351.33 421.75,350.52 422.00,349.71 422.25,348.92 422.50,348.16 422.75,347.43 423.00,346.76 423.25,346.16 423.50,345.63 423.75,345.19 424.00,344.86 424.25,344.65 424.50,344.56 424.75,344.61 425.00,344.78 425.25,345.05 425.50,345.39 425.75,345.79 426.00,346.23 426.25,346.68 426.50,347.13 426.75,347.54 427.00,347.90 427.25,348.20 427.50,348.40 427.75,348.49 428.00,348.44 428.25,348.25 428.50,347.93 428.75,347.49 429.00,346.95 429.25,346.31 429.50,345.60 429.75,344.81 430.00,343.97 430.25,343.08 430.50,342.17 430.75,341.23 431.00,340.29 431.25,339.35 431.50,338.44 431.75,337.55 432.00,336.71 432.25,335.92 432.50,335.20 432.75,334.56 433.00,334.01 433.25,333.57 433.50,333.25 433.75,333.06 434.00,333.01 434.25,333.11 434.50,333.37 434.75,333.79 435.00,334.34 435.25,335.02 435.50,335.81 435.75,336.70 436.00,337.68 436.25,338.73 436.50,339.85 436.75,341.02 437.00,342.23 437.25,343.47 437.50,344.72 437.75,345.97 438.00,347.21 438.25,348.43 438.50,349.62 438.75,350.76 439.00,351.84 439.25,352.84 439.50,353.77 439.75,354.60 440.00,355.31 440.25,355.91 440.50,356.38 440.75,356.69 441.00,356.86 441.25,356.87 441.50,356.75 441.75,356.50 442.00,356.13 442.25,355.67 442.50,355.12 442.75,354.49 443.00,353.81 443.25,353.07 443.50,352.29 443.75,351.50 444.00,350.68 444.25,349.87 444.50,349.08 444.75,348.31 445.00,347.57 445.25,346.89 445.50,346.27 445.75,345.73 446.00,345.27 446.25,344.92 446.50,344.68 446.75,344.57 447.00,344.59 447.25,344.74 447.50,344.99 447.75,345.32 448.00,345.71 448.25,346.14 448.50,346.59 448.75,347.04 449.00,347.46 449.25,347.84 449.50,348.15 449.75,348.37 450.00,348.48 450.25,348.46 450.50,348.30 450.75,348.00 451.00,347.59 451.25,347.07 451.50,346.45 451.75,345.74 452.00,344.97 452.25,344.14 452.50,343.26 452.75,342.35 453.00,341.42 453.25,340.48 453.50,339.54 453.75,338.62 454.00,337.72 454.25,336.87 454.50,336.07 454.75,335.34 455.00,334.68 455.25,334.12 455.50,333.65 455.75,333.31 456.00,333.08 456.25,333.00 456.50,333.08 456.75,333.31 457.00,333.69 457.25,334.22 457.50,334.87 457.75,335.64 458.00,336.51 458.25,337.47 458.50,338.51 458.75,339.62 459.00,340.78 459.25,341.99 459.50,343.22 459.75,344.47 460.00,345.72 460.25,346.97 460.50,348.19 460.75,349.39 461.00,350.53 461.25,351.63 461.50,352.65 461.75,353.59 462.00,354.44 462.25,355.18 462.50,355.80 462.75,356.29 463.00,356.64 463.25,356.84 463.50,356.88 463.75,356.78 464.00,356.55 464.25,356.21 464.50,355.77 464.75,355.24 465.00,354.62 465.25,353.95 465.50,353.22 465.75,352.45 466.00,351.66 466.25,350.85 466.50,350.04 466.75,349.23 467.00,348.46 467.25,347.72 467.50,347.02 467.75,346.39 468.00,345.83 468.25,345.36 468.50,344.98 468.75,344.72 469.00,344.58 469.25,344.57 469.50,344.70 469.75,344.93 470.00,345.25 470.25,345.63 470.50,346.05 470.75,346.50 471.00,346.95 471.25,347.38 471.50,347.77 471.75,348.09 472.00,348.33 472.25,348.47 472.50,348.48 472.75,348.34 473.00,348.07 473.25,347.68 473.50,347.18 473.75,346.58 474.00,345.89 474.25,345.13 474.50,344.31 474.75,343.44 475.00,342.54 475.25,341.61 475.50,340.67 475.75,339.73 476.00,338.80 476.25,337.90 476.50,337.04 476.75,336.23 477.00,335.48 477.25,334.81 477.50,334.22 477.75,333.74 478.00,333.37 478.25,333.12 478.50,333.01 478.75,333.05 479.00,333.25 479.25,333.60 479.50,334.10 479.75,334.73 480.00,335.48 480.25,336.33 480.50,337.27 480.75,338.30 481.00,339.39 481.25,340.55 481.50,341.74 481.75,342.97 482.00,344.21 482.25,345.47 482.50,346.72 482.75,347.95 483.00,349.15 483.25,350.31 483.50,351.41 483.75,352.45 484.00,353.41 484.25,354.28 484.50,355.04 484.75,355.69 485.00,356.21 485.25,356.59 485.50,356.81 485.75,356.88 486.00,356.81 486.25,356.61 486.50,356.29 486.75,355.87 487.00,355.35 487.25,354.75 487.50,354.09 487.75,353.37 488.00,352.61 488.25,351.82 488.50,351.01 488.75,350.20 489.00,349.40 489.25,348.61 489.50,347.86 489.75,347.16 490.00,346.51 490.25,345.94 490.50,345.45 490.75,345.05 491.00,344.76 491.25,344.60 491.50,344.56 491.75,344.66 492.00,344.87 492.25,345.17 492.50,345.54 492.75,345.96 493.00,346.41 493.25,346.86 493.50,347.29 493.75,347.69 494.00,348.03 494.25,348.29 494.50,348.45 494.75,348.48 495.00,348.38 495.25,348.14 495.50,347.78 495.75,347.30 496.00,346.72 496.25,346.06 496.50,345.32 496.75,344.51 497.00,343.66 497.25,342.76 497.50,341.84 497.75,340.90 498.00,339.97 498.25,339.04 498.50,338.13 498.75,337.26 499.00,336.44 499.25,335.68 499.50,334.99 499.75,334.38 500.00,333.87 500.25,333.47 500.50,333.18 500.75,333.04 501.00,333.03 501.25,333.19 501.50,333.50 501.75,333.95 502.00,334.54 502.25,335.24 502.50,336.05 502.75,336.96 503.00,337.96 503.25,339.02 503.50,340.14 503.75,341.32 504.00,342.52 504.25,343.75 504.50,345.00 504.75,346.24 505.00,347.47 505.25,348.68 505.50,349.85 505.75,350.97 506.00,352.04 506.25,353.03 506.50,353.93 506.75,354.74 507.00,355.45 507.25,356.03 507.50,356.48 507.75,356.79 508.00,356.95 508.25,356.97 508.50,356.86 508.75,356.63 509.00,356.29 509.25,355.86 509.50,355.35"/>
</g>

<rect x="41.5" y="14.5" width="468.0" height="187.0" fill="none" stroke="#9a9a9a" stroke-width="1"/>
<rect x="41.5" y="236.5" width="468.0" height="187.0" fill="none" stroke="#9a9a9a" stroke-width="1"/>
<path d="M108.36,201.5v-4.6M108.36,14.5v4.6M108.36,423.5v-4.6M108.36,236.5v4.6M175.21,201.5v-4.6M175.21,14.5v4.6M175.21,423.5v-4.6M175.21,236.5v4.6M242.07,201.5v-4.6M242.07,14.5v4.6M242.07,423.5v-4.6M242.07,236.5v4.6M308.93,201.5v-4.6M308.93,14.5v4.6M308.93,423.5v-4.6M308.93,236.5v4.6M375.79,201.5v-4.6M375.79,14.5v4.6M375.79,423.5v-4.6M375.79,236.5v4.6M442.64,201.5v-4.6M442.64,14.5v4.6M442.64,423.5v-4.6M442.64,236.5v4.6M41.5,174.79h4.6M509.5,174.79h-4.6M41.5,148.07h4.6M509.5,148.07h-4.6M41.5,121.36h4.6M509.5,121.36h-4.6M41.5,94.64h4.6M509.5,94.64h-4.6M41.5,67.93h4.6M509.5,67.93h-4.6M41.5,41.21h4.6M509.5,41.21h-4.6M41.5,400.12h4.6M41.5,376.75h4.6M41.5,353.38h4.6M41.5,330.00h4.6M41.5,306.62h4.6M41.5,283.25h4.6M41.5,259.88h4.6M509.5,267.67h-4.6M509.5,298.83h-4.6M509.5,330.00h-4.6M509.5,361.17h-4.6M509.5,392.33h-4.6" stroke="#9a9a9a" stroke-width="1" fill="none"/>

<g font-size="11.2" fill="#262626" stroke="#262626" stroke-width="0.2">
<text x="41.50" y="217.2" text-anchor="middle">10</text>
<text x="41.50" y="438.9" text-anchor="middle">10</text>
<text x="108.36" y="217.2" text-anchor="middle">20</text>
<text x="108.36" y="438.9" text-anchor="middle">20</text>
<text x="175.21" y="217.2" text-anchor="middle">30</text>
<text x="175.21" y="438.9" text-anchor="middle">30</text>
<text x="242.07" y="217.2" text-anchor="middle">40</text>
<text x="242.07" y="438.9" text-anchor="middle">40</text>
<text x="308.93" y="217.2" text-anchor="middle">50</text>
<text x="308.93" y="438.9" text-anchor="middle">50</text>
<text x="375.79" y="217.2" text-anchor="middle">60</text>
<text x="375.79" y="438.9" text-anchor="middle">60</text>
<text x="442.64" y="217.2" text-anchor="middle">70</text>
<text x="442.64" y="438.9" text-anchor="middle">70</text>
<text x="509.50" y="217.2" text-anchor="middle">80</text>
<text x="509.50" y="438.9" text-anchor="middle">80</text>
<text x="37.9" y="205.90" text-anchor="end">0.2</text>
<text x="37.9" y="179.19" text-anchor="end">0.4</text>
<text x="37.9" y="152.47" text-anchor="end">0.6</text>
<text x="37.9" y="125.76" text-anchor="end">0.8</text>
<text x="37.9" y="99.04" text-anchor="end">1</text>
<text x="37.9" y="72.33" text-anchor="end">1.2</text>
<text x="37.9" y="45.61" text-anchor="end">1.4</text>
<text x="37.9" y="18.90" text-anchor="end">1.6</text>
<text x="37.9" y="427.70" text-anchor="end">1</text>
<text x="37.9" y="404.32" text-anchor="end">2</text>
<text x="37.9" y="380.95" text-anchor="end">3</text>
<text x="37.9" y="357.57" text-anchor="end">4</text>
<text x="37.9" y="334.20" text-anchor="end">5</text>
<text x="37.9" y="310.82" text-anchor="end">6</text>
<text x="37.9" y="287.45" text-anchor="end">7</text>
<text x="37.9" y="264.07" text-anchor="end">8</text>
<text x="37.9" y="240.70" text-anchor="end">9</text>
<text x="513.2" y="240.60">0</text>
<text x="513.2" y="271.77">-1</text>
<text x="513.2" y="302.93">-2</text>
<text x="513.2" y="334.10">-3</text>
<text x="513.2" y="365.27">-4</text>
<text x="513.2" y="396.43">-5</text>
<text x="513.2" y="427.60">-6</text>
<text x="42.4" y="235.0" font-size="13.5">×</text><text x="50.6" y="233.6" font-size="11.6">10</text><text x="63.3" y="227.8" font-size="8.8">5</text>
<text x="510.4" y="232.9" font-size="13.5">×</text><text x="518.8" y="231.0" font-size="11.6">10</text><text x="531.3" y="225.4" font-size="8.8">6</text>
<text x="275.6" y="454.9" text-anchor="middle" font-size="12.3" textLength="109" lengthAdjust="spacingAndGlyphs">Simulation Time (s)</text>
<text transform="translate(16.3,108.3) rotate(-90)" text-anchor="middle" font-size="12.3" textLength="109.6" lengthAdjust="spacingAndGlyphs">Rotor Speed (rad/s)</text>
<text transform="translate(25.8,329.4) rotate(-90)" text-anchor="middle" font-size="12.3" textLength="80.7" lengthAdjust="spacingAndGlyphs">Hub Force (N)</text>
<text transform="translate(538.4,329.8) rotate(-90)" text-anchor="middle" font-size="12.3" textLength="105" lengthAdjust="spacingAndGlyphs">Shaft Torque (Nm)</text>

<text x="42.0" y="27.9" fill="#10c26c" stroke="#10c26c" font-size="11.35">Consistent Redesign</text>
<text x="203.5" y="28.7" fill="#ee1a22" stroke="#ee1a22" font-size="11.35">Inconsistent Redesign</text>
<text x="171.1" y="88.7" fill="#111" stroke="#111" font-size="11.35">Consistent Original Design</text>
<text x="157.2" y="257.5" fill="#ee1a22" stroke="#ee1a22" font-size="11.35">Inconsistent Redesign (Force)</text>
<text x="163.6" y="276.0" fill="#111" stroke="#111" font-size="11.35">Consistent Original Design (Force)</text>
<text x="187.6" y="292.0" fill="#10c26c" stroke="#10c26c" font-size="11.35">Consistent Redesign (Force)</text>
<text x="48.0" y="280.1" fill="#10c26c" stroke="#10c26c" font-size="11.35">Consistent</text>
<text x="48.0" y="294.6" fill="#10c26c" stroke="#10c26c" font-size="11.35">Redesign</text>
<text x="48.0" y="309.2" fill="#10c26c" stroke="#10c26c" font-size="11.35">(Torque)</text>
<text x="47.2" y="335.4" fill="#111" stroke="#111" font-size="11.35">Consistent</text>
<text x="47.2" y="349.8" fill="#111" stroke="#111" font-size="11.35">Original</text>
<text x="47.2" y="364.1" fill="#111" stroke="#111" font-size="11.35">Design (Torque)</text>
<text x="49.8" y="382.1" fill="#ee1a22" stroke="#ee1a22" font-size="11.35">Inconsistent</text>
<text x="49.8" y="396.7" fill="#ee1a22" stroke="#ee1a22" font-size="11.35">Redesign</text>
<text x="49.8" y="411.4" fill="#ee1a22" stroke="#ee1a22" font-size="11.35">(Torque)</text>
<line x1="150.80" y1="30.50" x2="165.21" y2="50.92" stroke="#10c26c" stroke-width="0.8"/><polygon points="167.80,54.60 162.38,51.08 165.21,50.92 166.30,48.31" fill="#10c26c" stroke="#10c26c" stroke-width="0.3"/>
<line x1="171.00" y1="78.50" x2="151.38" y2="63.53" stroke="#222" stroke-width="0.8"/><polygon points="147.80,60.80 154.03,62.53 151.38,63.53 151.11,66.35" fill="#222" stroke="#222" stroke-width="0.3"/>
<line x1="262.00" y1="31.30" x2="268.22" y2="43.96" stroke="#ee1a22" stroke-width="0.8"/><polygon points="270.20,48.00 265.40,43.67 268.22,43.96 269.71,41.56" fill="#ee1a22" stroke="#ee1a22" stroke-width="0.3"/>
<line x1="154.20" y1="259.90" x2="137.39" y2="274.54" stroke="#ee1a22" stroke-width="0.8"/><polygon points="134.00,277.50 136.95,271.75 137.39,274.54 140.10,275.37" fill="#ee1a22" stroke="#ee1a22" stroke-width="0.3"/>
<line x1="160.60" y1="278.60" x2="136.57" y2="299.91" stroke="#222" stroke-width="0.8"/><polygon points="133.20,302.90 136.10,297.12 136.57,299.91 139.28,300.71" fill="#222" stroke="#222" stroke-width="0.3"/>
<line x1="184.50" y1="294.50" x2="143.89" y2="340.24" stroke="#10c26c" stroke-width="0.8"/><polygon points="140.90,343.60 143.09,337.52 143.89,340.24 146.68,340.71" fill="#10c26c" stroke="#10c26c" stroke-width="0.3"/>
<line x1="91.60" y1="295.10" x2="116.37" y2="313.24" stroke="#10c26c" stroke-width="0.8"/><polygon points="120.00,315.90 113.74,314.29 116.37,313.24 116.58,310.42" fill="#10c26c" stroke="#10c26c" stroke-width="0.3"/>
<line x1="104.30" y1="333.50" x2="121.97" y2="344.43" stroke="#222" stroke-width="0.8"/><polygon points="125.80,346.80 119.43,345.68 121.97,344.43 121.96,341.60" fill="#222" stroke="#222" stroke-width="0.3"/>
<line x1="113.40" y1="391.10" x2="130.25" y2="377.97" stroke="#ee1a22" stroke-width="0.8"/><polygon points="133.80,375.20 130.54,380.78 130.25,377.97 127.59,377.00" fill="#ee1a22" stroke="#ee1a22" stroke-width="0.3"/>

</g>
</svg>
</body></html>
